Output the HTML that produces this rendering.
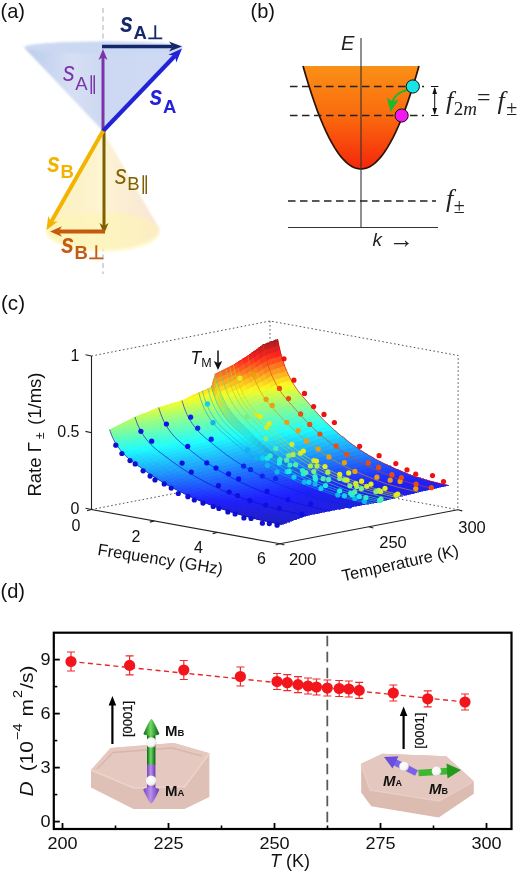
<!DOCTYPE html>
<html><head><meta charset="utf-8"><title>Figure</title>
<style>html,body{margin:0;padding:0;background:#fff}svg{display:block}</style></head>
<body><svg width="520" height="873" viewBox="0 0 520 873">
<rect width="520" height="873" fill="#fff"/>
<defs>
<linearGradient id="gTop" x1="0" y1="0" x2="1" y2="0">
 <stop offset="0" stop-color="#b9cbec"/><stop offset="0.3" stop-color="#d6dff3"/><stop offset="0.5" stop-color="#cdd9f3"/><stop offset="1" stop-color="#cfdaf5"/>
</linearGradient>
<linearGradient id="gBot" x1="0" y1="0" x2="1" y2="0">
 <stop offset="0" stop-color="#fcf1bd"/><stop offset="0.5" stop-color="#fdf4d2"/><stop offset="1" stop-color="#f7e4d6"/>
</linearGradient>
<filter id="soft" x="-10%" y="-10%" width="120%" height="120%"><feGaussianBlur stdDeviation="0.8"/></filter>
<filter id="soft2" x="-10%" y="-10%" width="120%" height="120%"><feGaussianBlur stdDeviation="0.45"/></filter>
</defs>
<line x1="103" y1="8" x2="103" y2="274" stroke="#b9b9c3" stroke-width="1.2" stroke-dasharray="5 3.5"/>
<g filter="url(#soft)">
<path d="M103,131 L24,47.5 A79.5,6 0 0 1 183,47.5 Z" fill="url(#gTop)"/>
<ellipse cx="103.5" cy="47.5" rx="79.5" ry="6" fill="#cbd8f2"/>
<path d="M103,131 L46.5,229 A56.5,20 0 0 0 159.5,229 Z" fill="url(#gBot)"/>
<ellipse cx="103" cy="232" rx="56.5" ry="20" fill="#fdf5b4" opacity="0.6"/>
</g>
<g filter="url(#soft2)">
<line x1="103.0" y1="131.0" x2="103.0" y2="56.9" stroke="#7a35a8" stroke-width="3.0"/><polygon points="103.0,49.0 107.5,60.0 103.0,56.9 98.5,60.0" fill="#7a35a8"/>
<line x1="102.0" y1="46.5" x2="172.6" y2="46.5" stroke="#17286b" stroke-width="3.6"/><polygon points="182.0,46.5 169.0,51.5 172.6,46.5 169.0,41.5" fill="#17286b"/>
<line x1="103.0" y1="131.0" x2="175.0" y2="55.8" stroke="#2222d8" stroke-width="4.2"/><polygon points="182.0,48.5 176.3,62.4 175.0,55.8 168.3,54.8" fill="#2222d8"/>
<line x1="104.0" y1="131.0" x2="104.0" y2="226.1" stroke="#7f6000" stroke-width="3.0"/><polygon points="104.0,234.0 99.5,223.0 104.0,226.1 108.5,223.0" fill="#7f6000"/>
<line x1="105.0" y1="231.5" x2="58.6" y2="231.5" stroke="#c55a11" stroke-width="3.8"/><polygon points="50.0,231.5 62.0,226.2 58.6,231.5 62.0,236.8" fill="#c55a11"/>
<line x1="103.0" y1="131.0" x2="51.1" y2="221.9" stroke="#f2b400" stroke-width="4.0"/><polygon points="46.5,230.0 48.2,216.0 51.1,221.9 57.7,221.4" fill="#f2b400"/>
</g>
<text transform="translate(120,31.7) scale(0.84,1)" fill="#17286b" font-family="'Liberation Sans',sans-serif" font-size="28" font-weight="bold" font-style="italic">s</text><text x="133.6" y="39.2" fill="#17286b" font-family="'Liberation Sans',sans-serif" font-size="18.5" font-weight="bold">A⊥</text>
<text transform="translate(149.5,105) scale(0.84,1)" fill="#2222d8" font-family="'Liberation Sans',sans-serif" font-size="28" font-weight="bold" font-style="italic">s</text><text x="163.1" y="112.5" fill="#2222d8" font-family="'Liberation Sans',sans-serif" font-size="18.5" font-weight="bold">A</text>
<text transform="translate(63,81) scale(0.84,1)" fill="#7a35a8" font-family="'Liberation Sans',sans-serif" font-size="28" font-weight="normal" font-style="italic">s</text><text x="75.3" y="90.0" fill="#7a35a8" font-family="'Liberation Sans',sans-serif" font-size="18.5" font-weight="normal">A∥</text>
<text transform="translate(47,172) scale(0.84,1)" fill="#f2b400" font-family="'Liberation Sans',sans-serif" font-size="28" font-weight="bold" font-style="italic">s</text><text x="60.6" y="178.0" fill="#f2b400" font-family="'Liberation Sans',sans-serif" font-size="18.5" font-weight="bold">B</text>
<text transform="translate(115,183.5) scale(0.84,1)" fill="#7f6000" font-family="'Liberation Sans',sans-serif" font-size="28" font-weight="normal" font-style="italic">s</text><text x="127.3" y="189.5" fill="#7f6000" font-family="'Liberation Sans',sans-serif" font-size="18.5" font-weight="normal">B∥</text>
<text transform="translate(61,252.7) scale(0.84,1)" fill="#c55a11" font-family="'Liberation Sans',sans-serif" font-size="28" font-weight="bold" font-style="italic">s</text><text x="74.6" y="259.2" fill="#c55a11" font-family="'Liberation Sans',sans-serif" font-size="18.5" font-weight="bold">B⊥</text>
<text x="0.5" y="18" font-family="'Liberation Sans',sans-serif" font-size="21" fill="#111" textLength="24.5" lengthAdjust="spacingAndGlyphs">(a)</text>
<defs><linearGradient id="gPar" x1="0" y1="0" x2="0" y2="1">
 <stop offset="0" stop-color="#fa9016"/><stop offset="0.5" stop-color="#fa690e"/><stop offset="1" stop-color="#f4260b"/>
</linearGradient></defs>
<path d="M303.0,66.0 L305.9,76.0 L308.8,85.6 L311.7,94.6 L314.6,103.1 L317.5,111.1 L320.4,118.5 L323.3,125.5 L326.2,131.9 L329.1,137.8 L332.0,143.2 L334.9,148.1 L337.8,152.5 L340.7,156.4 L343.6,159.7 L346.5,162.6 L349.4,164.9 L352.3,166.7 L355.2,168.0 L358.1,168.7 L361.0,169.0 L363.9,168.7 L366.8,168.0 L369.7,166.7 L372.6,164.9 L375.5,162.6 L378.4,159.7 L381.3,156.4 L384.2,152.5 L387.1,148.1 L390.0,143.2 L392.9,137.8 L395.8,131.9 L398.7,125.5 L401.6,118.5 L404.5,111.1 L407.4,103.1 L410.3,94.6 L413.2,85.6 L416.1,76.0 L419.0,66.0 Z" fill="url(#gPar)"/>
<path d="M303.0,66.0 L305.9,76.0 L308.8,85.6 L311.7,94.6 L314.6,103.1 L317.5,111.1 L320.4,118.5 L323.3,125.5 L326.2,131.9 L329.1,137.8 L332.0,143.2 L334.9,148.1 L337.8,152.5 L340.7,156.4 L343.6,159.7 L346.5,162.6 L349.4,164.9 L352.3,166.7 L355.2,168.0 L358.1,168.7 L361.0,169.0 L363.9,168.7 L366.8,168.0 L369.7,166.7 L372.6,164.9 L375.5,162.6 L378.4,159.7 L381.3,156.4 L384.2,152.5 L387.1,148.1 L390.0,143.2 L392.9,137.8 L395.8,131.9 L398.7,125.5 L401.6,118.5 L404.5,111.1 L407.4,103.1 L410.3,94.6 L413.2,85.6 L416.1,76.0 L419.0,66.0" fill="none" stroke="#2a1206" stroke-width="1.7"/>
<line x1="361" y1="38" x2="361" y2="228" stroke="#333" stroke-width="1.1"/>
<line x1="288" y1="227.5" x2="438" y2="227.5" stroke="#333" stroke-width="1.2"/>
<line x1="290" y1="86.5" x2="424" y2="86.5" stroke="#222" stroke-width="1.5" stroke-dasharray="7.5 4.5"/>
<line x1="290" y1="115.5" x2="424" y2="115.5" stroke="#222" stroke-width="1.5" stroke-dasharray="7.5 4.5"/>
<line x1="288" y1="201" x2="436" y2="201" stroke="#222" stroke-width="1.5" stroke-dasharray="7.5 4.5"/>
<path d="M409,89.5 Q393.5,93 392,104" fill="none" stroke="#1fb82a" stroke-width="1.8"/>
<polygon points="390.6,112 386.8,97.5 392.5,101.5 398.8,99.5" fill="#1fb82a"/>
<circle cx="412.8" cy="86.5" r="6.6" fill="#19e5e6" stroke="#111" stroke-width="1"/>
<circle cx="401.6" cy="115.5" r="6.6" fill="#f01af0" stroke="#111" stroke-width="1"/>
<g stroke="#111" stroke-width="1" fill="#111"><line x1="434.7" y1="88" x2="434.7" y2="114"/><line x1="431" y1="86.5" x2="438.4" y2="86.5"/><line x1="431" y1="115.5" x2="438.4" y2="115.5"/><polygon points="434.7,87 432.4,94 437,94" stroke="none"/><polygon points="434.7,115 432.4,108 437,108" stroke="none"/></g>
<text x="250.5" y="18" font-family="'Liberation Sans',sans-serif" font-size="21" fill="#111" textLength="24.5" lengthAdjust="spacingAndGlyphs">(b)</text>
<text x="341" y="50" font-family="'Liberation Sans',sans-serif" font-size="20" font-style="italic" fill="#222">E</text>
<text x="372.5" y="246" font-family="'Liberation Sans',sans-serif" font-size="19" fill="#222" font-style="italic">k</text>
<text x="389" y="247.5" font-family="'Liberation Sans',sans-serif" font-size="25" fill="#222">→</text>
<text x="446" y="108.5" font-family="'Liberation Serif',serif" font-size="26" fill="#222"><tspan font-style="italic">f</tspan><tspan dy="6" font-size="19" dx="0.5">2<tspan font-style="italic">m</tspan></tspan><tspan dy="-10" font-size="24">=</tspan><tspan dy="4" dx="7" font-style="italic" font-size="26">f</tspan><tspan dy="6" dx="1.5" font-size="20">±</tspan></text>
<text x="446" y="206.5" font-family="'Liberation Serif',serif" font-size="26" fill="#222"><tspan font-style="italic">f</tspan><tspan dy="6" dx="0.5" font-size="20">±</tspan></text>
<text x="1" y="310.2" font-family="'Liberation Sans',sans-serif" font-size="21" fill="#111" textLength="24" lengthAdjust="spacingAndGlyphs">(c)</text>
<path d="M91.5,356 L270,321 L458.2,355.5 L457.8,509.7 M270,321 L269.7,475 M91.5,509.5 L269.7,475 L457.8,509.7" stroke="#555" stroke-width="1" stroke-dasharray="1.6 2.4" fill="none"/>
<g shape-rendering="crispEdges" stroke-width="0.6">
<polygon points="109.6,429.6 114.7,427.1 115.1,428.3 110.0,430.8" fill="#94fc88" stroke="#94fc88"/>
<polygon points="110.0,430.8 115.1,428.3 115.9,430.6 110.8,433.1" fill="#8afc92" stroke="#8afc92"/>
<polygon points="110.8,433.1 115.9,430.6 117.0,433.6 111.9,436.0" fill="#7cfca0" stroke="#7cfca0"/>
<polygon points="111.9,436.0 117.0,433.6 118.4,436.6 113.3,439.0" fill="#6cfcb0" stroke="#6cfcb0"/>
<polygon points="113.3,439.0 118.4,436.6 120.0,439.7 114.9,442.1" fill="#5cfcc0" stroke="#5cfcc0"/>
<polygon points="114.9,442.1 120.0,439.7 121.8,442.7 116.7,445.0" fill="#4cfcd0" stroke="#4cfcd0"/>
<polygon points="116.7,445.0 121.8,442.7 123.8,445.6 118.7,447.9" fill="#3dfcdf" stroke="#3dfcdf"/>
<polygon points="118.7,447.9 123.8,445.6 125.9,448.4 120.8,450.7" fill="#2ffced" stroke="#2ffced"/>
<polygon points="120.8,450.7 125.9,448.4 128.2,451.1 123.2,453.4" fill="#22fcfa" stroke="#22fcfa"/>
<polygon points="123.2,453.4 128.2,451.1 130.7,453.7 125.7,455.9" fill="#20f1fc" stroke="#20f1fc"/>
<polygon points="125.7,455.9 130.7,453.7 133.4,456.1 128.3,458.3" fill="#20e5fc" stroke="#20e5fc"/>
<polygon points="128.3,458.3 133.4,456.1 136.2,458.4 131.1,460.7" fill="#20dafc" stroke="#20dafc"/>
<polygon points="131.1,460.7 136.2,458.4 139.1,460.7 134.0,462.8" fill="#20d0fc" stroke="#20d0fc"/>
<polygon points="134.0,462.8 139.1,460.7 142.2,462.9 137.1,465.0" fill="#20c7fc" stroke="#20c7fc"/>
<polygon points="137.1,465.0 142.2,462.9 145.4,465.2 140.3,467.3" fill="#20bdfc" stroke="#20bdfc"/>
<polygon points="140.3,467.3 145.4,465.2 148.7,467.6 143.7,469.7" fill="#20b3fc" stroke="#20b3fc"/>
<polygon points="143.7,469.7 148.7,467.6 152.2,470.1 147.1,472.2" fill="#20a8fc" stroke="#20a8fc"/>
<polygon points="147.1,472.2 152.2,470.1 155.8,472.6 150.7,474.7" fill="#209dfc" stroke="#209dfc"/>
<polygon points="150.7,474.7 155.8,472.6 159.5,475.1 154.4,477.2" fill="#2091fc" stroke="#2091fc"/>
<polygon points="154.4,477.2 159.5,475.1 163.4,477.6 158.3,479.6" fill="#2085fc" stroke="#2085fc"/>
<polygon points="158.3,479.6 163.4,477.6 167.3,480.0 162.2,482.0" fill="#207afc" stroke="#207afc"/>
<polygon points="162.2,482.0 167.3,480.0 171.4,482.4 166.3,484.4" fill="#206ffc" stroke="#206ffc"/>
<polygon points="166.3,484.4 171.4,482.4 175.6,484.7 170.5,486.7" fill="#2064fc" stroke="#2064fc"/>
<polygon points="170.5,486.7 175.6,484.7 179.8,487.1 174.8,489.0" fill="#205afc" stroke="#205afc"/>
<polygon points="174.8,489.0 179.8,487.1 184.2,489.3 179.2,491.3" fill="#2050fc" stroke="#2050fc"/>
<polygon points="179.2,491.3 184.2,489.3 188.7,491.6 183.7,493.5" fill="#2047fc" stroke="#2047fc"/>
<polygon points="183.7,493.5 188.7,491.6 193.4,493.8 188.3,495.8" fill="#203dfc" stroke="#203dfc"/>
<polygon points="188.3,495.8 193.4,493.8 198.1,496.0 193.0,497.9" fill="#2035fc" stroke="#2035fc"/>
<polygon points="193.0,497.9 198.1,496.0 202.9,498.0 197.8,500.0" fill="#202dfc" stroke="#202dfc"/>
<polygon points="197.8,500.0 202.9,498.0 207.8,500.1 202.7,502.0" fill="#2025fc" stroke="#2025fc"/>
<polygon points="202.7,502.0 207.8,500.1 212.8,502.1 207.8,503.9" fill="#2020fa" stroke="#2020fa"/>
<polygon points="207.8,503.9 212.8,502.1 217.9,504.0 212.9,505.8" fill="#2020f3" stroke="#2020f3"/>
<polygon points="212.9,505.8 217.9,504.0 223.1,505.8 218.1,507.7" fill="#2020ed" stroke="#2020ed"/>
<polygon points="218.1,507.7 223.1,505.8 228.5,507.6 223.4,509.5" fill="#2020e7" stroke="#2020e7"/>
<polygon points="223.4,509.5 228.5,507.6 233.9,509.4 228.8,511.2" fill="#2020e2" stroke="#2020e2"/>
<polygon points="228.8,511.2 233.9,509.4 239.3,511.1 234.3,512.9" fill="#2020dd" stroke="#2020dd"/>
<polygon points="234.3,512.9 239.3,511.1 244.9,512.8 239.9,514.7" fill="#2020d8" stroke="#2020d8"/>
<polygon points="239.9,514.7 244.9,512.8 250.6,514.5 245.6,516.3" fill="#2020d4" stroke="#2020d4"/>
<polygon points="245.6,516.3 250.6,514.5 256.4,516.1 251.3,517.9" fill="#2020d0" stroke="#2020d0"/>
<polygon points="251.3,517.9 256.4,516.1 262.2,517.5 257.2,519.3" fill="#2020cd" stroke="#2020cd"/>
<polygon points="257.2,519.3 262.2,517.5 268.2,518.9 263.1,520.7" fill="#2020cb" stroke="#2020cb"/>
<polygon points="263.1,520.7 268.2,518.9 274.2,520.2 269.2,522.0" fill="#2020c9" stroke="#2020c9"/>
<polygon points="269.2,522.0 274.2,520.2 280.3,521.5 275.3,523.3" fill="#2020c8" stroke="#2020c8"/>
<polygon points="275.3,523.3 280.3,521.5 286.5,522.8 281.5,524.6" fill="#2020c7" stroke="#2020c7"/>
<polygon points="114.7,427.1 119.8,424.6 120.2,425.8 115.1,428.3" fill="#9efc7e" stroke="#9efc7e"/>
<polygon points="115.1,428.3 120.2,425.8 121.0,428.1 115.9,430.6" fill="#93fc89" stroke="#93fc89"/>
<polygon points="115.9,430.6 121.0,428.1 122.1,431.1 117.0,433.6" fill="#85fc98" stroke="#85fc98"/>
<polygon points="117.0,433.6 122.1,431.1 123.5,434.2 118.4,436.6" fill="#74fca8" stroke="#74fca8"/>
<polygon points="118.4,436.6 123.5,434.2 125.1,437.3 120.0,439.7" fill="#64fcb8" stroke="#64fcb8"/>
<polygon points="120.0,439.7 125.1,437.3 126.8,440.3 121.8,442.7" fill="#54fcc8" stroke="#54fcc8"/>
<polygon points="121.8,442.7 126.8,440.3 128.8,443.3 123.8,445.6" fill="#45fcd7" stroke="#45fcd7"/>
<polygon points="123.8,445.6 128.8,443.3 131.0,446.1 125.9,448.4" fill="#37fce5" stroke="#37fce5"/>
<polygon points="125.9,448.4 131.0,446.1 133.3,448.8 128.2,451.1" fill="#29fcf3" stroke="#29fcf3"/>
<polygon points="128.2,451.1 133.3,448.8 135.8,451.4 130.7,453.7" fill="#20f8fc" stroke="#20f8fc"/>
<polygon points="130.7,453.7 135.8,451.4 138.5,453.9 133.4,456.1" fill="#20ecfc" stroke="#20ecfc"/>
<polygon points="133.4,456.1 138.5,453.9 141.3,456.2 136.2,458.4" fill="#20e1fc" stroke="#20e1fc"/>
<polygon points="136.2,458.4 141.3,456.2 144.2,458.5 139.1,460.7" fill="#20d7fc" stroke="#20d7fc"/>
<polygon points="139.1,460.7 144.2,458.5 147.3,460.7 142.2,462.9" fill="#20cefc" stroke="#20cefc"/>
<polygon points="142.2,462.9 147.3,460.7 150.5,463.0 145.4,465.2" fill="#20c4fc" stroke="#20c4fc"/>
<polygon points="145.4,465.2 150.5,463.0 153.8,465.5 148.7,467.6" fill="#20b9fc" stroke="#20b9fc"/>
<polygon points="148.7,467.6 153.8,465.5 157.3,468.0 152.2,470.1" fill="#20affc" stroke="#20affc"/>
<polygon points="152.2,470.1 157.3,468.0 160.9,470.5 155.8,472.6" fill="#20a4fc" stroke="#20a4fc"/>
<polygon points="155.8,472.6 160.9,470.5 164.6,473.1 159.5,475.1" fill="#2098fc" stroke="#2098fc"/>
<polygon points="159.5,475.1 164.6,473.1 168.4,475.5 163.4,477.6" fill="#208dfc" stroke="#208dfc"/>
<polygon points="163.4,477.6 168.4,475.5 172.4,478.0 167.3,480.0" fill="#2081fc" stroke="#2081fc"/>
<polygon points="167.3,480.0 172.4,478.0 176.4,480.4 171.4,482.4" fill="#2076fc" stroke="#2076fc"/>
<polygon points="171.4,482.4 176.4,480.4 180.6,482.7 175.6,484.7" fill="#206bfc" stroke="#206bfc"/>
<polygon points="175.6,484.7 180.6,482.7 184.9,485.1 179.8,487.1" fill="#2061fc" stroke="#2061fc"/>
<polygon points="179.8,487.1 184.9,485.1 189.3,487.4 184.2,489.3" fill="#2057fc" stroke="#2057fc"/>
<polygon points="184.2,489.3 189.3,487.4 193.8,489.7 188.7,491.6" fill="#204dfc" stroke="#204dfc"/>
<polygon points="188.7,491.6 193.8,489.7 198.4,491.9 193.4,493.8" fill="#2044fc" stroke="#2044fc"/>
<polygon points="193.4,493.8 198.4,491.9 203.1,494.1 198.1,496.0" fill="#203bfc" stroke="#203bfc"/>
<polygon points="198.1,496.0 203.1,494.1 208.0,496.1 202.9,498.0" fill="#2033fc" stroke="#2033fc"/>
<polygon points="202.9,498.0 208.0,496.1 212.9,498.2 207.8,500.1" fill="#202bfc" stroke="#202bfc"/>
<polygon points="207.8,500.1 212.9,498.2 217.9,500.2 212.8,502.1" fill="#2024fc" stroke="#2024fc"/>
<polygon points="212.8,502.1 217.9,500.2 223.0,502.1 217.9,504.0" fill="#2020f9" stroke="#2020f9"/>
<polygon points="217.9,504.0 223.0,502.1 228.2,504.0 223.1,505.8" fill="#2020f3" stroke="#2020f3"/>
<polygon points="223.1,505.8 228.2,504.0 233.5,505.8 228.5,507.6" fill="#2020ed" stroke="#2020ed"/>
<polygon points="228.5,507.6 233.5,505.8 238.9,507.5 233.9,509.4" fill="#2020e8" stroke="#2020e8"/>
<polygon points="233.9,509.4 238.9,507.5 244.4,509.3 239.3,511.1" fill="#2020e3" stroke="#2020e3"/>
<polygon points="239.3,511.1 244.4,509.3 250.0,511.0 244.9,512.8" fill="#2020de" stroke="#2020de"/>
<polygon points="244.9,512.8 250.0,511.0 255.7,512.7 250.6,514.5" fill="#2020d9" stroke="#2020d9"/>
<polygon points="250.6,514.5 255.7,512.7 261.4,514.3 256.4,516.1" fill="#2020d5" stroke="#2020d5"/>
<polygon points="256.4,516.1 261.4,514.3 267.3,515.7 262.2,517.5" fill="#2020d2" stroke="#2020d2"/>
<polygon points="262.2,517.5 267.3,515.7 273.2,517.1 268.2,518.9" fill="#2020d0" stroke="#2020d0"/>
<polygon points="268.2,518.9 273.2,517.1 279.3,518.4 274.2,520.2" fill="#2020ce" stroke="#2020ce"/>
<polygon points="274.2,520.2 279.3,518.4 285.4,519.7 280.3,521.5" fill="#2020cd" stroke="#2020cd"/>
<polygon points="280.3,521.5 285.4,519.7 291.6,521.0 286.5,522.8" fill="#2020cc" stroke="#2020cc"/>
<polygon points="119.8,424.6 124.8,422.0 125.2,423.3 120.2,425.8" fill="#a8fc74" stroke="#a8fc74"/>
<polygon points="120.2,425.8 125.2,423.3 126.1,425.6 121.0,428.1" fill="#9dfc7f" stroke="#9dfc7f"/>
<polygon points="121.0,428.1 126.1,425.6 127.2,428.7 122.1,431.1" fill="#8dfc8f" stroke="#8dfc8f"/>
<polygon points="122.1,431.1 127.2,428.7 128.5,431.8 123.5,434.2" fill="#7dfc9f" stroke="#7dfc9f"/>
<polygon points="123.5,434.2 128.5,431.8 130.1,434.9 125.1,437.3" fill="#6dfcb0" stroke="#6dfcb0"/>
<polygon points="125.1,437.3 130.1,434.9 131.9,438.0 126.8,440.3" fill="#5dfcc0" stroke="#5dfcc0"/>
<polygon points="126.8,440.3 131.9,438.0 133.9,441.0 128.8,443.3" fill="#4dfccf" stroke="#4dfccf"/>
<polygon points="128.8,443.3 133.9,441.0 136.1,443.8 131.0,446.1" fill="#3ffcde" stroke="#3ffcde"/>
<polygon points="131.0,446.1 136.1,443.8 138.4,446.5 133.3,448.8" fill="#31fceb" stroke="#31fceb"/>
<polygon points="133.3,448.8 138.4,446.5 140.9,449.1 135.8,451.4" fill="#24fcf8" stroke="#24fcf8"/>
<polygon points="135.8,451.4 140.9,449.1 143.5,451.6 138.5,453.9" fill="#20f4fc" stroke="#20f4fc"/>
<polygon points="138.5,453.9 143.5,451.6 146.3,454.0 141.3,456.2" fill="#20e9fc" stroke="#20e9fc"/>
<polygon points="141.3,456.2 146.3,454.0 149.3,456.3 144.2,458.5" fill="#20defc" stroke="#20defc"/>
<polygon points="144.2,458.5 149.3,456.3 152.3,458.5 147.3,460.7" fill="#20d5fc" stroke="#20d5fc"/>
<polygon points="147.3,460.7 152.3,458.5 155.5,460.9 150.5,463.0" fill="#20cbfc" stroke="#20cbfc"/>
<polygon points="150.5,463.0 155.5,460.9 158.9,463.3 153.8,465.5" fill="#20c0fc" stroke="#20c0fc"/>
<polygon points="153.8,465.5 158.9,463.3 162.4,465.9 157.3,468.0" fill="#20b5fc" stroke="#20b5fc"/>
<polygon points="157.3,468.0 162.4,465.9 165.9,468.4 160.9,470.5" fill="#20aafc" stroke="#20aafc"/>
<polygon points="160.9,470.5 165.9,468.4 169.7,471.0 164.6,473.1" fill="#20a0fc" stroke="#20a0fc"/>
<polygon points="164.6,473.1 169.7,471.0 173.5,473.5 168.4,475.5" fill="#2094fc" stroke="#2094fc"/>
<polygon points="168.4,475.5 173.5,473.5 177.4,475.9 172.4,478.0" fill="#2088fc" stroke="#2088fc"/>
<polygon points="172.4,478.0 177.4,475.9 181.5,478.3 176.4,480.4" fill="#207dfc" stroke="#207dfc"/>
<polygon points="176.4,480.4 181.5,478.3 185.7,480.7 180.6,482.7" fill="#2072fc" stroke="#2072fc"/>
<polygon points="180.6,482.7 185.7,480.7 190.0,483.1 184.9,485.1" fill="#2068fc" stroke="#2068fc"/>
<polygon points="184.9,485.1 190.0,483.1 194.4,485.4 189.3,487.4" fill="#205dfc" stroke="#205dfc"/>
<polygon points="189.3,487.4 194.4,485.4 198.9,487.7 193.8,489.7" fill="#2054fc" stroke="#2054fc"/>
<polygon points="193.8,489.7 198.9,487.7 203.5,490.0 198.4,491.9" fill="#204afc" stroke="#204afc"/>
<polygon points="198.4,491.9 203.5,490.0 208.2,492.1 203.1,494.1" fill="#2041fc" stroke="#2041fc"/>
<polygon points="203.1,494.1 208.2,492.1 213.0,494.2 208.0,496.1" fill="#2039fc" stroke="#2039fc"/>
<polygon points="208.0,496.1 213.0,494.2 217.9,496.3 212.9,498.2" fill="#2031fc" stroke="#2031fc"/>
<polygon points="212.9,498.2 217.9,496.3 222.9,498.3 217.9,500.2" fill="#202afc" stroke="#202afc"/>
<polygon points="217.9,500.2 222.9,498.3 228.1,500.2 223.0,502.1" fill="#2023fc" stroke="#2023fc"/>
<polygon points="223.0,502.1 228.1,500.2 233.3,502.1 228.2,504.0" fill="#2020f8" stroke="#2020f8"/>
<polygon points="228.2,504.0 233.3,502.1 238.6,503.9 233.5,505.8" fill="#2020f3" stroke="#2020f3"/>
<polygon points="233.5,505.8 238.6,503.9 244.0,505.7 238.9,507.5" fill="#2020ed" stroke="#2020ed"/>
<polygon points="238.9,507.5 244.0,505.7 249.5,507.4 244.4,509.3" fill="#2020e8" stroke="#2020e8"/>
<polygon points="244.4,509.3 249.5,507.4 255.0,509.2 250.0,511.0" fill="#2020e3" stroke="#2020e3"/>
<polygon points="250.0,511.0 255.0,509.2 260.7,510.9 255.7,512.7" fill="#2020df" stroke="#2020df"/>
<polygon points="255.7,512.7 260.7,510.9 266.5,512.5 261.4,514.3" fill="#2020db" stroke="#2020db"/>
<polygon points="261.4,514.3 266.5,512.5 272.3,513.9 267.3,515.7" fill="#2020d8" stroke="#2020d8"/>
<polygon points="267.3,515.7 272.3,513.9 278.3,515.3 273.2,517.1" fill="#2020d6" stroke="#2020d6"/>
<polygon points="273.2,517.1 278.3,515.3 284.3,516.6 279.3,518.4" fill="#2020d4" stroke="#2020d4"/>
<polygon points="279.3,518.4 284.3,516.6 290.4,517.9 285.4,519.7" fill="#2020d3" stroke="#2020d3"/>
<polygon points="285.4,519.7 290.4,517.9 296.6,519.2 291.6,521.0" fill="#2020d1" stroke="#2020d1"/>
<polygon points="124.8,422.0 129.9,419.5 130.3,420.7 125.2,423.3" fill="#b2fc6a" stroke="#b2fc6a"/>
<polygon points="125.2,423.3 130.3,420.7 131.1,423.2 126.1,425.6" fill="#a7fc75" stroke="#a7fc75"/>
<polygon points="126.1,425.6 131.1,423.2 132.3,426.2 127.2,428.7" fill="#96fc86" stroke="#96fc86"/>
<polygon points="127.2,428.7 132.3,426.2 133.6,429.4 128.5,431.8" fill="#85fc97" stroke="#85fc97"/>
<polygon points="128.5,431.8 133.6,429.4 135.2,432.5 130.1,434.9" fill="#75fca7" stroke="#75fca7"/>
<polygon points="130.1,434.9 135.2,432.5 137.0,435.6 131.9,438.0" fill="#65fcb8" stroke="#65fcb8"/>
<polygon points="131.9,438.0 137.0,435.6 139.0,438.6 133.9,441.0" fill="#55fcc7" stroke="#55fcc7"/>
<polygon points="133.9,441.0 139.0,438.6 141.1,441.5 136.1,443.8" fill="#46fcd6" stroke="#46fcd6"/>
<polygon points="136.1,443.8 141.1,441.5 143.5,444.2 138.4,446.5" fill="#39fce4" stroke="#39fce4"/>
<polygon points="138.4,446.5 143.5,444.2 146.0,446.9 140.9,449.1" fill="#2cfcf1" stroke="#2cfcf1"/>
<polygon points="140.9,449.1 146.0,446.9 148.6,449.4 143.5,451.6" fill="#20fbfc" stroke="#20fbfc"/>
<polygon points="143.5,451.6 148.6,449.4 151.4,451.8 146.3,454.0" fill="#20f0fc" stroke="#20f0fc"/>
<polygon points="146.3,454.0 151.4,451.8 154.3,454.1 149.3,456.3" fill="#20e5fc" stroke="#20e5fc"/>
<polygon points="149.3,456.3 154.3,454.1 157.4,456.3 152.3,458.5" fill="#20dcfc" stroke="#20dcfc"/>
<polygon points="152.3,458.5 157.4,456.3 160.6,458.7 155.5,460.9" fill="#20d2fc" stroke="#20d2fc"/>
<polygon points="155.5,460.9 160.6,458.7 164.0,461.2 158.9,463.3" fill="#20c7fc" stroke="#20c7fc"/>
<polygon points="158.9,463.3 164.0,461.2 167.4,463.8 162.4,465.9" fill="#20bcfc" stroke="#20bcfc"/>
<polygon points="162.4,465.9 167.4,463.8 171.0,466.3 165.9,468.4" fill="#20b1fc" stroke="#20b1fc"/>
<polygon points="165.9,468.4 171.0,466.3 174.7,468.9 169.7,471.0" fill="#20a6fc" stroke="#20a6fc"/>
<polygon points="169.7,471.0 174.7,468.9 178.6,471.4 173.5,473.5" fill="#209bfc" stroke="#209bfc"/>
<polygon points="173.5,473.5 178.6,471.4 182.5,473.9 177.4,475.9" fill="#208ffc" stroke="#208ffc"/>
<polygon points="177.4,475.9 182.5,473.9 186.6,476.3 181.5,478.3" fill="#2084fc" stroke="#2084fc"/>
<polygon points="181.5,478.3 186.6,476.3 190.8,478.7 185.7,480.7" fill="#2079fc" stroke="#2079fc"/>
<polygon points="185.7,480.7 190.8,478.7 195.0,481.1 190.0,483.1" fill="#206efc" stroke="#206efc"/>
<polygon points="190.0,483.1 195.0,481.1 199.4,483.5 194.4,485.4" fill="#2064fc" stroke="#2064fc"/>
<polygon points="194.4,485.4 199.4,483.5 203.9,485.8 198.9,487.7" fill="#205afc" stroke="#205afc"/>
<polygon points="198.9,487.7 203.9,485.8 208.6,488.0 203.5,490.0" fill="#2051fc" stroke="#2051fc"/>
<polygon points="203.5,490.0 208.6,488.0 213.3,490.2 208.2,492.1" fill="#2048fc" stroke="#2048fc"/>
<polygon points="208.2,492.1 213.3,490.2 218.1,492.3 213.0,494.2" fill="#203ffc" stroke="#203ffc"/>
<polygon points="213.0,494.2 218.1,492.3 223.0,494.4 217.9,496.3" fill="#2037fc" stroke="#2037fc"/>
<polygon points="217.9,496.3 223.0,494.4 228.0,496.4 222.9,498.3" fill="#2030fc" stroke="#2030fc"/>
<polygon points="222.9,498.3 228.0,496.4 233.1,498.4 228.1,500.2" fill="#2029fc" stroke="#2029fc"/>
<polygon points="228.1,500.2 233.1,498.4 238.3,500.2 233.3,502.1" fill="#2023fc" stroke="#2023fc"/>
<polygon points="233.3,502.1 238.3,500.2 243.6,502.1 238.6,503.9" fill="#2020f8" stroke="#2020f8"/>
<polygon points="238.6,503.9 243.6,502.1 249.0,503.8 244.0,505.7" fill="#2020f3" stroke="#2020f3"/>
<polygon points="244.0,505.7 249.0,503.8 254.5,505.6 249.5,507.4" fill="#2020ee" stroke="#2020ee"/>
<polygon points="249.5,507.4 254.5,505.6 260.1,507.4 255.0,509.2" fill="#2020e9" stroke="#2020e9"/>
<polygon points="255.0,509.2 260.1,507.4 265.8,509.1 260.7,510.9" fill="#2020e4" stroke="#2020e4"/>
<polygon points="260.7,510.9 265.8,509.1 271.5,510.7 266.5,512.5" fill="#2020e0" stroke="#2020e0"/>
<polygon points="266.5,512.5 271.5,510.7 277.4,512.1 272.3,513.9" fill="#2020dd" stroke="#2020dd"/>
<polygon points="272.3,513.9 277.4,512.1 283.3,513.5 278.3,515.3" fill="#2020db" stroke="#2020db"/>
<polygon points="278.3,515.3 283.3,513.5 289.4,514.8 284.3,516.6" fill="#2020d9" stroke="#2020d9"/>
<polygon points="284.3,516.6 289.4,514.8 295.5,516.1 290.4,517.9" fill="#2020d8" stroke="#2020d8"/>
<polygon points="290.4,517.9 295.5,516.1 301.7,517.4 296.6,519.2" fill="#2020d7" stroke="#2020d7"/>
<polygon points="129.9,419.5 135.0,417.0 135.4,418.2 130.3,420.7" fill="#bcfc60" stroke="#bcfc60"/>
<polygon points="130.3,420.7 135.4,418.2 136.2,420.7 131.1,423.2" fill="#b1fc6c" stroke="#b1fc6c"/>
<polygon points="131.1,423.2 136.2,420.7 137.3,423.8 132.3,426.2" fill="#a0fc7c" stroke="#a0fc7c"/>
<polygon points="132.3,426.2 137.3,423.8 138.7,427.0 133.6,429.4" fill="#8efc8e" stroke="#8efc8e"/>
<polygon points="133.6,429.4 138.7,427.0 140.3,430.1 135.2,432.5" fill="#7dfc9f" stroke="#7dfc9f"/>
<polygon points="135.2,432.5 140.3,430.1 142.1,433.3 137.0,435.6" fill="#6dfcaf" stroke="#6dfcaf"/>
<polygon points="137.0,435.6 142.1,433.3 144.1,436.3 139.0,438.6" fill="#5dfcbf" stroke="#5dfcbf"/>
<polygon points="139.0,438.6 144.1,436.3 146.2,439.2 141.1,441.5" fill="#4efcce" stroke="#4efcce"/>
<polygon points="141.1,441.5 146.2,439.2 148.6,442.0 143.5,444.2" fill="#40fcdc" stroke="#40fcdc"/>
<polygon points="143.5,444.2 148.6,442.0 151.0,444.6 146.0,446.9" fill="#33fce9" stroke="#33fce9"/>
<polygon points="146.0,446.9 151.0,444.6 153.7,447.2 148.6,449.4" fill="#27fcf6" stroke="#27fcf6"/>
<polygon points="148.6,449.4 153.7,447.2 156.5,449.6 151.4,451.8" fill="#20f7fc" stroke="#20f7fc"/>
<polygon points="151.4,451.8 156.5,449.6 159.4,451.9 154.3,454.1" fill="#20edfc" stroke="#20edfc"/>
<polygon points="154.3,454.1 159.4,451.9 162.5,454.2 157.4,456.3" fill="#20e3fc" stroke="#20e3fc"/>
<polygon points="157.4,456.3 162.5,454.2 165.7,456.6 160.6,458.7" fill="#20d8fc" stroke="#20d8fc"/>
<polygon points="160.6,458.7 165.7,456.6 169.0,459.1 164.0,461.2" fill="#20cefc" stroke="#20cefc"/>
<polygon points="164.0,461.2 169.0,459.1 172.5,461.7 167.4,463.8" fill="#20c3fc" stroke="#20c3fc"/>
<polygon points="167.4,463.8 172.5,461.7 176.1,464.3 171.0,466.3" fill="#20b7fc" stroke="#20b7fc"/>
<polygon points="171.0,466.3 176.1,464.3 179.8,466.9 174.7,468.9" fill="#20acfc" stroke="#20acfc"/>
<polygon points="174.7,468.9 179.8,466.9 183.6,469.4 178.6,471.4" fill="#20a2fc" stroke="#20a2fc"/>
<polygon points="178.6,471.4 183.6,469.4 187.6,471.9 182.5,473.9" fill="#2096fc" stroke="#2096fc"/>
<polygon points="182.5,473.9 187.6,471.9 191.7,474.3 186.6,476.3" fill="#208bfc" stroke="#208bfc"/>
<polygon points="186.6,476.3 191.7,474.3 195.8,476.8 190.8,478.7" fill="#2080fc" stroke="#2080fc"/>
<polygon points="190.8,478.7 195.8,476.8 200.1,479.2 195.0,481.1" fill="#2075fc" stroke="#2075fc"/>
<polygon points="195.0,481.1 200.1,479.2 204.5,481.5 199.4,483.5" fill="#206afc" stroke="#206afc"/>
<polygon points="199.4,483.5 204.5,481.5 209.0,483.8 203.9,485.8" fill="#2060fc" stroke="#2060fc"/>
<polygon points="203.9,485.8 209.0,483.8 213.6,486.1 208.6,488.0" fill="#2057fc" stroke="#2057fc"/>
<polygon points="208.6,488.0 213.6,486.1 218.3,488.3 213.3,490.2" fill="#204efc" stroke="#204efc"/>
<polygon points="213.3,490.2 218.3,488.3 223.1,490.5 218.1,492.3" fill="#2045fc" stroke="#2045fc"/>
<polygon points="218.1,492.3 223.1,490.5 228.1,492.5 223.0,494.4" fill="#203dfc" stroke="#203dfc"/>
<polygon points="223.0,494.4 228.1,492.5 233.1,494.6 228.0,496.4" fill="#2036fc" stroke="#2036fc"/>
<polygon points="228.0,496.4 233.1,494.6 238.2,496.5 233.1,498.4" fill="#202ffc" stroke="#202ffc"/>
<polygon points="233.1,498.4 238.2,496.5 243.4,498.4 238.3,500.2" fill="#2028fc" stroke="#2028fc"/>
<polygon points="238.3,500.2 243.4,498.4 248.7,500.2 243.6,502.1" fill="#2022fc" stroke="#2022fc"/>
<polygon points="243.6,502.1 248.7,500.2 254.1,502.0 249.0,503.8" fill="#2020f9" stroke="#2020f9"/>
<polygon points="249.0,503.8 254.1,502.0 259.6,503.8 254.5,505.6" fill="#2020f3" stroke="#2020f3"/>
<polygon points="254.5,505.6 259.6,503.8 265.2,505.6 260.1,507.4" fill="#2020ef" stroke="#2020ef"/>
<polygon points="260.1,507.4 265.2,505.6 270.8,507.3 265.8,509.1" fill="#2020ea" stroke="#2020ea"/>
<polygon points="265.8,509.1 270.8,507.3 276.6,508.9 271.5,510.7" fill="#2020e6" stroke="#2020e6"/>
<polygon points="271.5,510.7 276.6,508.9 282.4,510.3 277.4,512.1" fill="#2020e3" stroke="#2020e3"/>
<polygon points="277.4,512.1 282.4,510.3 288.4,511.7 283.3,513.5" fill="#2020e1" stroke="#2020e1"/>
<polygon points="283.3,513.5 288.4,511.7 294.4,513.1 289.4,514.8" fill="#2020df" stroke="#2020df"/>
<polygon points="289.4,514.8 294.4,513.1 300.5,514.4 295.5,516.1" fill="#2020dd" stroke="#2020dd"/>
<polygon points="295.5,516.1 300.5,514.4 306.7,515.7 301.7,517.4" fill="#2020dc" stroke="#2020dc"/>
<polygon points="135.0,417.0 139.7,415.1 140.1,416.4 135.4,418.2" fill="#c5fd58" stroke="#c5fd58"/>
<polygon points="135.4,418.2 140.1,416.4 141.0,418.8 136.2,420.7" fill="#b9fd64" stroke="#b9fd64"/>
<polygon points="136.2,420.7 141.0,418.8 142.1,422.0 137.3,423.8" fill="#a8fd75" stroke="#a8fd75"/>
<polygon points="137.3,423.8 142.1,422.0 143.4,425.2 138.7,427.0" fill="#95fd88" stroke="#95fd88"/>
<polygon points="138.7,427.0 143.4,425.2 145.0,428.4 140.3,430.1" fill="#84fd99" stroke="#84fd99"/>
<polygon points="140.3,430.1 145.0,428.4 146.8,431.6 142.1,433.3" fill="#73fdaa" stroke="#73fdaa"/>
<polygon points="142.1,433.3 146.8,431.6 148.8,434.7 144.1,436.3" fill="#63fdba" stroke="#63fdba"/>
<polygon points="144.1,436.3 148.8,434.7 151.0,437.6 146.2,439.2" fill="#54fdc9" stroke="#54fdc9"/>
<polygon points="146.2,439.2 151.0,437.6 153.3,440.4 148.6,442.0" fill="#46fdd7" stroke="#46fdd7"/>
<polygon points="148.6,442.0 153.3,440.4 155.8,443.1 151.0,444.6" fill="#39fde4" stroke="#39fde4"/>
<polygon points="151.0,444.6 155.8,443.1 158.4,445.7 153.7,447.2" fill="#2cfdf1" stroke="#2cfdf1"/>
<polygon points="153.7,447.2 158.4,445.7 161.2,448.1 156.5,449.6" fill="#21fdfd" stroke="#21fdfd"/>
<polygon points="156.5,449.6 161.2,448.1 164.1,450.4 159.4,451.9" fill="#20f3fd" stroke="#20f3fd"/>
<polygon points="159.4,451.9 164.1,450.4 167.2,452.7 162.5,454.2" fill="#20e8fd" stroke="#20e8fd"/>
<polygon points="162.5,454.2 167.2,452.7 170.4,455.2 165.7,456.6" fill="#20defd" stroke="#20defd"/>
<polygon points="165.7,456.6 170.4,455.2 173.8,457.7 169.0,459.1" fill="#20d3fd" stroke="#20d3fd"/>
<polygon points="169.0,459.1 173.8,457.7 177.2,460.3 172.5,461.7" fill="#20c8fd" stroke="#20c8fd"/>
<polygon points="172.5,461.7 177.2,460.3 180.8,462.9 176.1,464.3" fill="#20bdfd" stroke="#20bdfd"/>
<polygon points="176.1,464.3 180.8,462.9 184.5,465.6 179.8,466.9" fill="#20b1fd" stroke="#20b1fd"/>
<polygon points="179.8,466.9 184.5,465.6 188.4,468.1 183.6,469.4" fill="#20a6fd" stroke="#20a6fd"/>
<polygon points="183.6,469.4 188.4,468.1 192.3,470.6 187.6,471.9" fill="#209bfd" stroke="#209bfd"/>
<polygon points="187.6,471.9 192.3,470.6 196.4,473.1 191.7,474.3" fill="#2090fd" stroke="#2090fd"/>
<polygon points="191.7,474.3 196.4,473.1 200.6,475.6 195.8,476.8" fill="#2084fd" stroke="#2084fd"/>
<polygon points="195.8,476.8 200.6,475.6 204.8,478.0 200.1,479.2" fill="#2079fd" stroke="#2079fd"/>
<polygon points="200.1,479.2 204.8,478.0 209.2,480.4 204.5,481.5" fill="#206ffd" stroke="#206ffd"/>
<polygon points="204.5,481.5 209.2,480.4 213.7,482.7 209.0,483.8" fill="#2065fd" stroke="#2065fd"/>
<polygon points="209.0,483.8 213.7,482.7 218.3,485.0 213.6,486.1" fill="#205bfd" stroke="#205bfd"/>
<polygon points="213.6,486.1 218.3,485.0 223.1,487.2 218.3,488.3" fill="#2052fd" stroke="#2052fd"/>
<polygon points="218.3,488.3 223.1,487.2 227.9,489.4 223.1,490.5" fill="#2049fd" stroke="#2049fd"/>
<polygon points="223.1,490.5 227.9,489.4 232.8,491.5 228.1,492.5" fill="#2041fd" stroke="#2041fd"/>
<polygon points="228.1,492.5 232.8,491.5 237.8,493.5 233.1,494.6" fill="#2039fd" stroke="#2039fd"/>
<polygon points="233.1,494.6 237.8,493.5 242.9,495.5 238.2,496.5" fill="#2032fd" stroke="#2032fd"/>
<polygon points="238.2,496.5 242.9,495.5 248.1,497.4 243.4,498.4" fill="#202cfd" stroke="#202cfd"/>
<polygon points="243.4,498.4 248.1,497.4 253.4,499.2 248.7,500.2" fill="#2026fd" stroke="#2026fd"/>
<polygon points="248.7,500.2 253.4,499.2 258.8,501.0 254.1,502.0" fill="#2020fd" stroke="#2020fd"/>
<polygon points="254.1,502.0 258.8,501.0 264.3,502.8 259.6,503.8" fill="#2020f7" stroke="#2020f7"/>
<polygon points="259.6,503.8 264.3,502.8 269.9,504.6 265.2,505.6" fill="#2020f2" stroke="#2020f2"/>
<polygon points="265.2,505.6 269.9,504.6 275.5,506.3 270.8,507.3" fill="#2020ed" stroke="#2020ed"/>
<polygon points="270.8,507.3 275.5,506.3 281.3,507.9 276.6,508.9" fill="#2020e9" stroke="#2020e9"/>
<polygon points="276.6,508.9 281.3,507.9 287.2,509.4 282.4,510.3" fill="#2020e6" stroke="#2020e6"/>
<polygon points="282.4,510.3 287.2,509.4 293.1,510.8 288.4,511.7" fill="#2020e4" stroke="#2020e4"/>
<polygon points="288.4,511.7 293.1,510.8 299.1,512.1 294.4,513.1" fill="#2020e2" stroke="#2020e2"/>
<polygon points="294.4,513.1 299.1,512.1 305.2,513.4 300.5,514.4" fill="#2020e1" stroke="#2020e1"/>
<polygon points="300.5,514.4 305.2,513.4 311.4,514.7 306.7,515.7" fill="#2020e0" stroke="#2020e0"/>
<polygon points="139.7,415.1 144.5,413.2 144.9,414.5 140.1,416.4" fill="#cbfd52" stroke="#cbfd52"/>
<polygon points="140.1,416.4 144.9,414.5 145.7,417.0 141.0,418.8" fill="#c0fd5e" stroke="#c0fd5e"/>
<polygon points="141.0,418.8 145.7,417.0 146.8,420.1 142.1,422.0" fill="#aefd6f" stroke="#aefd6f"/>
<polygon points="142.1,422.0 146.8,420.1 148.2,423.4 143.4,425.2" fill="#9bfd82" stroke="#9bfd82"/>
<polygon points="143.4,425.2 148.2,423.4 149.8,426.7 145.0,428.4" fill="#89fd94" stroke="#89fd94"/>
<polygon points="145.0,428.4 149.8,426.7 151.6,429.9 146.8,431.6" fill="#78fda5" stroke="#78fda5"/>
<polygon points="146.8,431.6 151.6,429.9 153.5,433.0 148.8,434.7" fill="#68fdb5" stroke="#68fdb5"/>
<polygon points="148.8,434.7 153.5,433.0 155.7,436.0 151.0,437.6" fill="#58fdc5" stroke="#58fdc5"/>
<polygon points="151.0,437.6 155.7,436.0 158.0,438.8 153.3,440.4" fill="#4afdd3" stroke="#4afdd3"/>
<polygon points="153.3,440.4 158.0,438.8 160.5,441.6 155.8,443.1" fill="#3dfde1" stroke="#3dfde1"/>
<polygon points="155.8,443.1 160.5,441.6 163.2,444.2 158.4,445.7" fill="#30fded" stroke="#30fded"/>
<polygon points="158.4,445.7 163.2,444.2 166.0,446.6 161.2,448.1" fill="#24fdf9" stroke="#24fdf9"/>
<polygon points="161.2,448.1 166.0,446.6 168.9,449.0 164.1,450.4" fill="#20f6fd" stroke="#20f6fd"/>
<polygon points="164.1,450.4 168.9,449.0 172.0,451.3 167.2,452.7" fill="#20ecfd" stroke="#20ecfd"/>
<polygon points="167.2,452.7 172.0,451.3 175.2,453.8 170.4,455.2" fill="#20e1fd" stroke="#20e1fd"/>
<polygon points="170.4,455.2 175.2,453.8 178.5,456.3 173.8,457.7" fill="#20d6fd" stroke="#20d6fd"/>
<polygon points="173.8,457.7 178.5,456.3 182.0,458.9 177.2,460.3" fill="#20cbfd" stroke="#20cbfd"/>
<polygon points="177.2,460.3 182.0,458.9 185.6,461.6 180.8,462.9" fill="#20bffd" stroke="#20bffd"/>
<polygon points="180.8,462.9 185.6,461.6 189.3,464.2 184.5,465.6" fill="#20b4fd" stroke="#20b4fd"/>
<polygon points="184.5,465.6 189.3,464.2 193.1,466.8 188.4,468.1" fill="#20a9fd" stroke="#20a9fd"/>
<polygon points="188.4,468.1 193.1,466.8 197.0,469.4 192.3,470.6" fill="#209efd" stroke="#209efd"/>
<polygon points="192.3,470.6 197.0,469.4 201.1,471.9 196.4,473.1" fill="#2092fd" stroke="#2092fd"/>
<polygon points="196.4,473.1 201.1,471.9 205.3,474.4 200.6,475.6" fill="#2086fd" stroke="#2086fd"/>
<polygon points="200.6,475.6 205.3,474.4 209.6,476.8 204.8,478.0" fill="#207bfd" stroke="#207bfd"/>
<polygon points="204.8,478.0 209.6,476.8 214.0,479.2 209.2,480.4" fill="#2071fd" stroke="#2071fd"/>
<polygon points="209.2,480.4 214.0,479.2 218.5,481.6 213.7,482.7" fill="#2066fd" stroke="#2066fd"/>
<polygon points="213.7,482.7 218.5,481.6 223.1,483.9 218.3,485.0" fill="#205cfd" stroke="#205cfd"/>
<polygon points="218.3,485.0 223.1,483.9 227.8,486.1 223.1,487.2" fill="#2053fd" stroke="#2053fd"/>
<polygon points="223.1,487.2 227.8,486.1 232.6,488.3 227.9,489.4" fill="#204afd" stroke="#204afd"/>
<polygon points="227.9,489.4 232.6,488.3 237.5,490.4 232.8,491.5" fill="#2042fd" stroke="#2042fd"/>
<polygon points="232.8,491.5 237.5,490.4 242.5,492.5 237.8,493.5" fill="#203afd" stroke="#203afd"/>
<polygon points="237.8,493.5 242.5,492.5 247.6,494.5 242.9,495.5" fill="#2033fd" stroke="#2033fd"/>
<polygon points="242.9,495.5 247.6,494.5 252.8,496.4 248.1,497.4" fill="#202cfd" stroke="#202cfd"/>
<polygon points="248.1,497.4 252.8,496.4 258.1,498.2 253.4,499.2" fill="#2026fd" stroke="#2026fd"/>
<polygon points="253.4,499.2 258.1,498.2 263.5,500.0 258.8,501.0" fill="#2021fd" stroke="#2021fd"/>
<polygon points="258.8,501.0 263.5,500.0 269.0,501.8 264.3,502.8" fill="#2020f8" stroke="#2020f8"/>
<polygon points="264.3,502.8 269.0,501.8 274.6,503.6 269.9,504.6" fill="#2020f3" stroke="#2020f3"/>
<polygon points="269.9,504.6 274.6,503.6 280.3,505.4 275.5,506.3" fill="#2020ee" stroke="#2020ee"/>
<polygon points="275.5,506.3 280.3,505.4 286.0,507.0 281.3,507.9" fill="#2020ea" stroke="#2020ea"/>
<polygon points="281.3,507.9 286.0,507.0 291.9,508.4 287.2,509.4" fill="#2020e7" stroke="#2020e7"/>
<polygon points="287.2,509.4 291.9,508.4 297.8,509.8 293.1,510.8" fill="#2020e4" stroke="#2020e4"/>
<polygon points="293.1,510.8 297.8,509.8 303.8,511.2 299.1,512.1" fill="#2020e3" stroke="#2020e3"/>
<polygon points="299.1,512.1 303.8,511.2 310.0,512.5 305.2,513.4" fill="#2020e1" stroke="#2020e1"/>
<polygon points="305.2,513.4 310.0,512.5 316.2,513.8 311.4,514.7" fill="#2020e0" stroke="#2020e0"/>
<polygon points="144.5,413.2 149.2,411.3 149.6,412.6 144.9,414.5" fill="#d2fd4c" stroke="#d2fd4c"/>
<polygon points="144.9,414.5 149.6,412.6 150.4,415.1 145.7,417.0" fill="#c6fd57" stroke="#c6fd57"/>
<polygon points="145.7,417.0 150.4,415.1 151.6,418.3 146.8,420.1" fill="#b4fd69" stroke="#b4fd69"/>
<polygon points="146.8,420.1 151.6,418.3 152.9,421.6 148.2,423.4" fill="#a1fd7c" stroke="#a1fd7c"/>
<polygon points="148.2,423.4 152.9,421.6 154.5,424.9 149.8,426.7" fill="#8efd8f" stroke="#8efd8f"/>
<polygon points="149.8,426.7 154.5,424.9 156.3,428.2 151.6,429.9" fill="#7dfda0" stroke="#7dfda0"/>
<polygon points="151.6,429.9 156.3,428.2 158.3,431.4 153.5,433.0" fill="#6cfdb1" stroke="#6cfdb1"/>
<polygon points="153.5,433.0 158.3,431.4 160.4,434.4 155.7,436.0" fill="#5dfdc0" stroke="#5dfdc0"/>
<polygon points="155.7,436.0 160.4,434.4 162.8,437.2 158.0,438.8" fill="#4efdcf" stroke="#4efdcf"/>
<polygon points="158.0,438.8 162.8,437.2 165.3,440.0 160.5,441.6" fill="#40fddd" stroke="#40fddd"/>
<polygon points="160.5,441.6 165.3,440.0 167.9,442.6 163.2,444.2" fill="#34fdea" stroke="#34fdea"/>
<polygon points="163.2,444.2 167.9,442.6 170.7,445.1 166.0,446.6" fill="#28fdf6" stroke="#28fdf6"/>
<polygon points="166.0,446.6 170.7,445.1 173.6,447.5 168.9,449.0" fill="#20f9fd" stroke="#20f9fd"/>
<polygon points="168.9,449.0 173.6,447.5 176.7,449.8 172.0,451.3" fill="#20effd" stroke="#20effd"/>
<polygon points="172.0,451.3 176.7,449.8 179.9,452.3 175.2,453.8" fill="#20e4fd" stroke="#20e4fd"/>
<polygon points="175.2,453.8 179.9,452.3 183.2,454.9 178.5,456.3" fill="#20d9fd" stroke="#20d9fd"/>
<polygon points="178.5,456.3 183.2,454.9 186.7,457.6 182.0,458.9" fill="#20cdfd" stroke="#20cdfd"/>
<polygon points="182.0,458.9 186.7,457.6 190.3,460.3 185.6,461.6" fill="#20c2fd" stroke="#20c2fd"/>
<polygon points="185.6,461.6 190.3,460.3 194.0,462.9 189.3,464.2" fill="#20b6fd" stroke="#20b6fd"/>
<polygon points="189.3,464.2 194.0,462.9 197.8,465.5 193.1,466.8" fill="#20abfd" stroke="#20abfd"/>
<polygon points="193.1,466.8 197.8,465.5 201.8,468.1 197.0,469.4" fill="#20a0fd" stroke="#20a0fd"/>
<polygon points="197.0,469.4 201.8,468.1 205.8,470.7 201.1,471.9" fill="#2094fd" stroke="#2094fd"/>
<polygon points="201.1,471.9 205.8,470.7 210.0,473.2 205.3,474.4" fill="#2088fd" stroke="#2088fd"/>
<polygon points="205.3,474.4 210.0,473.2 214.3,475.6 209.6,476.8" fill="#207dfd" stroke="#207dfd"/>
<polygon points="209.6,476.8 214.3,475.6 218.7,478.0 214.0,479.2" fill="#2072fd" stroke="#2072fd"/>
<polygon points="214.0,479.2 218.7,478.0 223.2,480.4 218.5,481.6" fill="#2068fd" stroke="#2068fd"/>
<polygon points="218.5,481.6 223.2,480.4 227.8,482.8 223.1,483.9" fill="#205efd" stroke="#205efd"/>
<polygon points="223.1,483.9 227.8,482.8 232.5,485.0 227.8,486.1" fill="#2054fd" stroke="#2054fd"/>
<polygon points="227.8,486.1 232.5,485.0 237.3,487.2 232.6,488.3" fill="#204bfd" stroke="#204bfd"/>
<polygon points="232.6,488.3 237.3,487.2 242.2,489.3 237.5,490.4" fill="#2043fd" stroke="#2043fd"/>
<polygon points="237.5,490.4 242.2,489.3 247.2,491.4 242.5,492.5" fill="#203bfd" stroke="#203bfd"/>
<polygon points="242.5,492.5 247.2,491.4 252.3,493.4 247.6,494.5" fill="#2034fd" stroke="#2034fd"/>
<polygon points="247.6,494.5 252.3,493.4 257.5,495.3 252.8,496.4" fill="#202dfd" stroke="#202dfd"/>
<polygon points="252.8,496.4 257.5,495.3 262.8,497.2 258.1,498.2" fill="#2027fd" stroke="#2027fd"/>
<polygon points="258.1,498.2 262.8,497.2 268.2,499.0 263.5,500.0" fill="#2021fd" stroke="#2021fd"/>
<polygon points="263.5,500.0 268.2,499.0 273.7,500.8 269.0,501.8" fill="#2020f8" stroke="#2020f8"/>
<polygon points="269.0,501.8 273.7,500.8 279.3,502.6 274.6,503.6" fill="#2020f3" stroke="#2020f3"/>
<polygon points="274.6,503.6 279.3,502.6 285.0,504.4 280.3,505.4" fill="#2020ee" stroke="#2020ee"/>
<polygon points="280.3,505.4 285.0,504.4 290.7,506.0 286.0,507.0" fill="#2020ea" stroke="#2020ea"/>
<polygon points="286.0,507.0 290.7,506.0 296.6,507.5 291.9,508.4" fill="#2020e7" stroke="#2020e7"/>
<polygon points="291.9,508.4 296.6,507.5 302.5,508.9 297.8,509.8" fill="#2020e5" stroke="#2020e5"/>
<polygon points="297.8,509.8 302.5,508.9 308.5,510.2 303.8,511.2" fill="#2020e3" stroke="#2020e3"/>
<polygon points="303.8,511.2 308.5,510.2 314.7,511.5 310.0,512.5" fill="#2020e1" stroke="#2020e1"/>
<polygon points="310.0,512.5 314.7,511.5 320.9,512.8 316.2,513.8" fill="#2020e0" stroke="#2020e0"/>
<polygon points="149.2,411.3 154.0,409.4 154.4,410.7 149.6,412.6" fill="#d8fd45" stroke="#d8fd45"/>
<polygon points="149.6,412.6 154.4,410.7 155.2,413.3 150.4,415.1" fill="#ccfd51" stroke="#ccfd51"/>
<polygon points="150.4,415.1 155.2,413.3 156.3,416.5 151.6,418.3" fill="#bafd63" stroke="#bafd63"/>
<polygon points="151.6,418.3 156.3,416.5 157.7,419.9 152.9,421.6" fill="#a7fd77" stroke="#a7fd77"/>
<polygon points="152.9,421.6 157.7,419.9 159.2,423.2 154.5,424.9" fill="#93fd8a" stroke="#93fd8a"/>
<polygon points="154.5,424.9 159.2,423.2 161.0,426.5 156.3,428.2" fill="#81fd9c" stroke="#81fd9c"/>
<polygon points="156.3,428.2 161.0,426.5 163.0,429.7 158.3,431.4" fill="#71fdad" stroke="#71fdad"/>
<polygon points="158.3,431.4 163.0,429.7 165.2,432.7 160.4,434.4" fill="#61fdbc" stroke="#61fdbc"/>
<polygon points="160.4,434.4 165.2,432.7 167.5,435.7 162.8,437.2" fill="#52fdcb" stroke="#52fdcb"/>
<polygon points="162.8,437.2 167.5,435.7 170.0,438.5 165.3,440.0" fill="#44fdd9" stroke="#44fdd9"/>
<polygon points="165.3,440.0 170.0,438.5 172.6,441.1 167.9,442.6" fill="#37fde6" stroke="#37fde6"/>
<polygon points="167.9,442.6 172.6,441.1 175.4,443.6 170.7,445.1" fill="#2bfdf2" stroke="#2bfdf2"/>
<polygon points="170.7,445.1 175.4,443.6 178.4,446.0 173.6,447.5" fill="#20fcfd" stroke="#20fcfd"/>
<polygon points="173.6,447.5 178.4,446.0 181.4,448.4 176.7,449.8" fill="#20f2fd" stroke="#20f2fd"/>
<polygon points="176.7,449.8 181.4,448.4 184.6,450.9 179.9,452.3" fill="#20e7fd" stroke="#20e7fd"/>
<polygon points="179.9,452.3 184.6,450.9 188.0,453.5 183.2,454.9" fill="#20dcfd" stroke="#20dcfd"/>
<polygon points="183.2,454.9 188.0,453.5 191.4,456.2 186.7,457.6" fill="#20d0fd" stroke="#20d0fd"/>
<polygon points="186.7,457.6 191.4,456.2 195.0,458.9 190.3,460.3" fill="#20c4fd" stroke="#20c4fd"/>
<polygon points="190.3,460.3 195.0,458.9 198.7,461.6 194.0,462.9" fill="#20b9fd" stroke="#20b9fd"/>
<polygon points="194.0,462.9 198.7,461.6 202.6,464.3 197.8,465.5" fill="#20adfd" stroke="#20adfd"/>
<polygon points="197.8,465.5 202.6,464.3 206.5,466.9 201.8,468.1" fill="#20a2fd" stroke="#20a2fd"/>
<polygon points="201.8,468.1 206.5,466.9 210.6,469.4 205.8,470.7" fill="#2096fd" stroke="#2096fd"/>
<polygon points="205.8,470.7 210.6,469.4 214.7,471.9 210.0,473.2" fill="#208bfd" stroke="#208bfd"/>
<polygon points="210.0,473.2 214.7,471.9 219.0,474.4 214.3,475.6" fill="#207ffd" stroke="#207ffd"/>
<polygon points="214.3,475.6 219.0,474.4 223.4,476.9 218.7,478.0" fill="#2074fd" stroke="#2074fd"/>
<polygon points="218.7,478.0 223.4,476.9 227.9,479.3 223.2,480.4" fill="#206afd" stroke="#206afd"/>
<polygon points="223.2,480.4 227.9,479.3 232.5,481.6 227.8,482.8" fill="#205ffd" stroke="#205ffd"/>
<polygon points="227.8,482.8 232.5,481.6 237.2,483.9 232.5,485.0" fill="#2056fd" stroke="#2056fd"/>
<polygon points="232.5,485.0 237.2,483.9 242.0,486.1 237.3,487.2" fill="#204dfd" stroke="#204dfd"/>
<polygon points="237.3,487.2 242.0,486.1 246.9,488.3 242.2,489.3" fill="#2044fd" stroke="#2044fd"/>
<polygon points="242.2,489.3 246.9,488.3 252.0,490.4 247.2,491.4" fill="#203cfd" stroke="#203cfd"/>
<polygon points="247.2,491.4 252.0,490.4 257.1,492.4 252.3,493.4" fill="#2035fd" stroke="#2035fd"/>
<polygon points="252.3,493.4 257.1,492.4 262.3,494.3 257.5,495.3" fill="#202efd" stroke="#202efd"/>
<polygon points="257.5,495.3 262.3,494.3 267.6,496.2 262.8,497.2" fill="#2028fd" stroke="#2028fd"/>
<polygon points="262.8,497.2 267.6,496.2 273.0,498.0 268.2,499.0" fill="#2022fd" stroke="#2022fd"/>
<polygon points="268.2,499.0 273.0,498.0 278.4,499.8 273.7,500.8" fill="#2020f9" stroke="#2020f9"/>
<polygon points="273.7,500.8 278.4,499.8 284.0,501.7 279.3,502.6" fill="#2020f4" stroke="#2020f4"/>
<polygon points="279.3,502.6 284.0,501.7 289.7,503.4 285.0,504.4" fill="#2020ef" stroke="#2020ef"/>
<polygon points="285.0,504.4 289.7,503.4 295.4,505.0 290.7,506.0" fill="#2020ea" stroke="#2020ea"/>
<polygon points="290.7,506.0 295.4,505.0 301.3,506.5 296.6,507.5" fill="#2020e7" stroke="#2020e7"/>
<polygon points="296.6,507.5 301.3,506.5 307.2,507.9 302.5,508.9" fill="#2020e5" stroke="#2020e5"/>
<polygon points="302.5,508.9 307.2,507.9 313.3,509.3 308.5,510.2" fill="#2020e3" stroke="#2020e3"/>
<polygon points="308.5,510.2 313.3,509.3 319.4,510.6 314.7,511.5" fill="#2020e2" stroke="#2020e2"/>
<polygon points="314.7,511.5 319.4,510.6 325.6,511.9 320.9,512.8" fill="#2020e0" stroke="#2020e0"/>
<polygon points="154.0,409.4 158.7,407.5 159.1,408.8 154.4,410.7" fill="#defd3f" stroke="#defd3f"/>
<polygon points="154.4,410.7 159.1,408.8 159.9,411.4 155.2,413.3" fill="#d2fd4b" stroke="#d2fd4b"/>
<polygon points="155.2,413.3 159.9,411.4 161.0,414.7 156.3,416.5" fill="#c0fd5d" stroke="#c0fd5d"/>
<polygon points="156.3,416.5 161.0,414.7 162.4,418.1 157.7,419.9" fill="#acfd71" stroke="#acfd71"/>
<polygon points="157.7,419.9 162.4,418.1 164.0,421.5 159.2,423.2" fill="#98fd85" stroke="#98fd85"/>
<polygon points="159.2,423.2 164.0,421.5 165.8,424.8 161.0,426.5" fill="#86fd97" stroke="#86fd97"/>
<polygon points="161.0,426.5 165.8,424.8 167.8,428.1 163.0,429.7" fill="#75fda8" stroke="#75fda8"/>
<polygon points="163.0,429.7 167.8,428.1 169.9,431.1 165.2,432.7" fill="#65fdb8" stroke="#65fdb8"/>
<polygon points="165.2,432.7 169.9,431.1 172.2,434.1 167.5,435.7" fill="#56fdc7" stroke="#56fdc7"/>
<polygon points="167.5,435.7 172.2,434.1 174.7,436.9 170.0,438.5" fill="#48fdd5" stroke="#48fdd5"/>
<polygon points="170.0,438.5 174.7,436.9 177.4,439.6 172.6,441.1" fill="#3bfde2" stroke="#3bfde2"/>
<polygon points="172.6,441.1 177.4,439.6 180.2,442.2 175.4,443.6" fill="#2ffdef" stroke="#2ffdef"/>
<polygon points="175.4,443.6 180.2,442.2 183.1,444.6 178.4,446.0" fill="#23fdfa" stroke="#23fdfa"/>
<polygon points="178.4,446.0 183.1,444.6 186.2,447.0 181.4,448.4" fill="#20f5fd" stroke="#20f5fd"/>
<polygon points="181.4,448.4 186.2,447.0 189.4,449.5 184.6,450.9" fill="#20eafd" stroke="#20eafd"/>
<polygon points="184.6,450.9 189.4,449.5 192.7,452.1 188.0,453.5" fill="#20dffd" stroke="#20dffd"/>
<polygon points="188.0,453.5 192.7,452.1 196.2,454.9 191.4,456.2" fill="#20d3fd" stroke="#20d3fd"/>
<polygon points="191.4,456.2 196.2,454.9 199.8,457.6 195.0,458.9" fill="#20c7fd" stroke="#20c7fd"/>
<polygon points="195.0,458.9 199.8,457.6 203.5,460.3 198.7,461.6" fill="#20bbfd" stroke="#20bbfd"/>
<polygon points="198.7,461.6 203.5,460.3 207.3,463.0 202.6,464.3" fill="#20affd" stroke="#20affd"/>
<polygon points="202.6,464.3 207.3,463.0 211.2,465.6 206.5,466.9" fill="#20a4fd" stroke="#20a4fd"/>
<polygon points="206.5,466.9 211.2,465.6 215.3,468.2 210.6,469.4" fill="#2099fd" stroke="#2099fd"/>
<polygon points="210.6,469.4 215.3,468.2 219.5,470.7 214.7,471.9" fill="#208dfd" stroke="#208dfd"/>
<polygon points="214.7,471.9 219.5,470.7 223.8,473.2 219.0,474.4" fill="#2081fd" stroke="#2081fd"/>
<polygon points="219.0,474.4 223.8,473.2 228.1,475.7 223.4,476.9" fill="#2076fd" stroke="#2076fd"/>
<polygon points="223.4,476.9 228.1,475.7 232.6,478.1 227.9,479.3" fill="#206bfd" stroke="#206bfd"/>
<polygon points="227.9,479.3 232.6,478.1 237.2,480.5 232.5,481.6" fill="#2061fd" stroke="#2061fd"/>
<polygon points="232.5,481.6 237.2,480.5 242.0,482.8 237.2,483.9" fill="#2057fd" stroke="#2057fd"/>
<polygon points="237.2,483.9 242.0,482.8 246.8,485.0 242.0,486.1" fill="#204efd" stroke="#204efd"/>
<polygon points="242.0,486.1 246.8,485.0 251.7,487.2 246.9,488.3" fill="#2045fd" stroke="#2045fd"/>
<polygon points="246.9,488.3 251.7,487.2 256.7,489.3 252.0,490.4" fill="#203dfd" stroke="#203dfd"/>
<polygon points="252.0,490.4 256.7,489.3 261.8,491.3 257.1,492.4" fill="#2036fd" stroke="#2036fd"/>
<polygon points="257.1,492.4 261.8,491.3 267.0,493.3 262.3,494.3" fill="#202ffd" stroke="#202ffd"/>
<polygon points="262.3,494.3 267.0,493.3 272.3,495.2 267.6,496.2" fill="#2028fd" stroke="#2028fd"/>
<polygon points="267.6,496.2 272.3,495.2 277.7,497.0 273.0,498.0" fill="#2023fd" stroke="#2023fd"/>
<polygon points="273.0,498.0 277.7,497.0 283.2,498.9 278.4,499.8" fill="#2020fa" stroke="#2020fa"/>
<polygon points="278.4,499.8 283.2,498.9 288.7,500.7 284.0,501.7" fill="#2020f4" stroke="#2020f4"/>
<polygon points="284.0,501.7 288.7,500.7 294.4,502.5 289.7,503.4" fill="#2020ef" stroke="#2020ef"/>
<polygon points="289.7,503.4 294.4,502.5 300.2,504.1 295.4,505.0" fill="#2020eb" stroke="#2020eb"/>
<polygon points="295.4,505.0 300.2,504.1 306.0,505.6 301.3,506.5" fill="#2020e8" stroke="#2020e8"/>
<polygon points="301.3,506.5 306.0,505.6 311.9,507.0 307.2,507.9" fill="#2020e5" stroke="#2020e5"/>
<polygon points="307.2,507.9 311.9,507.0 318.0,508.3 313.3,509.3" fill="#2020e3" stroke="#2020e3"/>
<polygon points="313.3,509.3 318.0,508.3 324.1,509.7 319.4,510.6" fill="#2020e2" stroke="#2020e2"/>
<polygon points="319.4,510.6 324.1,509.7 330.3,510.9 325.6,511.9" fill="#2020e1" stroke="#2020e1"/>
<polygon points="158.7,407.5 163.4,406.1 163.8,407.4 159.1,408.8" fill="#e4fe3a" stroke="#e4fe3a"/>
<polygon points="159.1,408.8 163.8,407.4 164.6,410.1 159.9,411.4" fill="#d8fe46" stroke="#d8fe46"/>
<polygon points="159.9,411.4 164.6,410.1 165.7,413.4 161.0,414.7" fill="#c6fe59" stroke="#c6fe59"/>
<polygon points="161.0,414.7 165.7,413.4 167.1,416.8 162.4,418.1" fill="#b1fe6d" stroke="#b1fe6d"/>
<polygon points="162.4,418.1 167.1,416.8 168.6,420.2 164.0,421.5" fill="#9dfe81" stroke="#9dfe81"/>
<polygon points="164.0,421.5 168.6,420.2 170.4,423.5 165.8,424.8" fill="#8afe94" stroke="#8afe94"/>
<polygon points="165.8,424.8 170.4,423.5 172.4,426.8 167.8,428.1" fill="#79fea5" stroke="#79fea5"/>
<polygon points="167.8,428.1 172.4,426.8 174.6,429.9 169.9,431.1" fill="#69feb6" stroke="#69feb6"/>
<polygon points="169.9,431.1 174.6,429.9 176.9,432.8 172.2,434.1" fill="#59fec5" stroke="#59fec5"/>
<polygon points="172.2,434.1 176.9,432.8 179.4,435.7 174.7,436.9" fill="#4bfed3" stroke="#4bfed3"/>
<polygon points="174.7,436.9 179.4,435.7 182.0,438.4 177.4,439.6" fill="#3efee0" stroke="#3efee0"/>
<polygon points="177.4,439.6 182.0,438.4 184.8,441.0 180.2,442.2" fill="#31feed" stroke="#31feed"/>
<polygon points="180.2,442.2 184.8,441.0 187.7,443.4 183.1,444.6" fill="#26fef8" stroke="#26fef8"/>
<polygon points="183.1,444.6 187.7,443.4 190.8,445.8 186.2,447.0" fill="#20f8fe" stroke="#20f8fe"/>
<polygon points="186.2,447.0 190.8,445.8 194.0,448.3 189.4,449.5" fill="#20edfe" stroke="#20edfe"/>
<polygon points="189.4,449.5 194.0,448.3 197.4,451.0 192.7,452.1" fill="#20e2fe" stroke="#20e2fe"/>
<polygon points="192.7,452.1 197.4,451.0 200.8,453.7 196.2,454.9" fill="#20d6fe" stroke="#20d6fe"/>
<polygon points="196.2,454.9 200.8,453.7 204.4,456.5 199.8,457.6" fill="#20cafe" stroke="#20cafe"/>
<polygon points="199.8,457.6 204.4,456.5 208.1,459.2 203.5,460.3" fill="#20bdfe" stroke="#20bdfe"/>
<polygon points="203.5,460.3 208.1,459.2 211.9,461.9 207.3,463.0" fill="#20b2fe" stroke="#20b2fe"/>
<polygon points="207.3,463.0 211.9,461.9 215.9,464.5 211.2,465.6" fill="#20a6fe" stroke="#20a6fe"/>
<polygon points="211.2,465.6 215.9,464.5 219.9,467.1 215.3,468.2" fill="#209bfe" stroke="#209bfe"/>
<polygon points="215.3,468.2 219.9,467.1 224.1,469.7 219.5,470.7" fill="#208ffe" stroke="#208ffe"/>
<polygon points="219.5,470.7 224.1,469.7 228.4,472.2 223.8,473.2" fill="#2083fe" stroke="#2083fe"/>
<polygon points="223.8,473.2 228.4,472.2 232.8,474.7 228.1,475.7" fill="#2078fe" stroke="#2078fe"/>
<polygon points="228.1,475.7 232.8,474.7 237.3,477.1 232.6,478.1" fill="#206dfe" stroke="#206dfe"/>
<polygon points="232.6,478.1 237.3,477.1 241.9,479.5 237.2,480.5" fill="#2062fe" stroke="#2062fe"/>
<polygon points="237.2,480.5 241.9,479.5 246.6,481.8 242.0,482.8" fill="#2058fe" stroke="#2058fe"/>
<polygon points="242.0,482.8 246.6,481.8 251.4,484.1 246.8,485.0" fill="#204ffe" stroke="#204ffe"/>
<polygon points="246.8,485.0 251.4,484.1 256.3,486.2 251.7,487.2" fill="#2046fe" stroke="#2046fe"/>
<polygon points="251.7,487.2 256.3,486.2 261.3,488.3 256.7,489.3" fill="#203efe" stroke="#203efe"/>
<polygon points="256.7,489.3 261.3,488.3 266.4,490.4 261.8,491.3" fill="#2037fe" stroke="#2037fe"/>
<polygon points="261.8,491.3 266.4,490.4 271.6,492.3 267.0,493.3" fill="#2030fe" stroke="#2030fe"/>
<polygon points="267.0,493.3 271.6,492.3 276.9,494.2 272.3,495.2" fill="#2029fe" stroke="#2029fe"/>
<polygon points="272.3,495.2 276.9,494.2 282.3,496.1 277.7,497.0" fill="#2023fe" stroke="#2023fe"/>
<polygon points="277.7,497.0 282.3,496.1 287.8,497.9 283.2,498.9" fill="#2020fb" stroke="#2020fb"/>
<polygon points="283.2,498.9 287.8,497.9 293.4,499.7 288.7,500.7" fill="#2020f6" stroke="#2020f6"/>
<polygon points="288.7,500.7 293.4,499.7 299.0,501.5 294.4,502.5" fill="#2020f0" stroke="#2020f0"/>
<polygon points="294.4,502.5 299.0,501.5 304.8,503.2 300.2,504.1" fill="#2020ec" stroke="#2020ec"/>
<polygon points="300.2,504.1 304.8,503.2 310.6,504.6 306.0,505.6" fill="#2020e9" stroke="#2020e9"/>
<polygon points="306.0,505.6 310.6,504.6 316.6,506.0 311.9,507.0" fill="#2020e6" stroke="#2020e6"/>
<polygon points="311.9,507.0 316.6,506.0 322.6,507.4 318.0,508.3" fill="#2020e4" stroke="#2020e4"/>
<polygon points="318.0,508.3 322.6,507.4 328.7,508.7 324.1,509.7" fill="#2020e3" stroke="#2020e3"/>
<polygon points="324.1,509.7 328.7,508.7 334.9,510.0 330.3,510.9" fill="#2020e2" stroke="#2020e2"/>
<polygon points="163.4,406.1 168.0,404.7 168.4,406.0 163.8,407.4" fill="#e7fe37" stroke="#e7fe37"/>
<polygon points="163.8,407.4 168.4,406.0 169.2,408.7 164.6,410.1" fill="#dbfe43" stroke="#dbfe43"/>
<polygon points="164.6,410.1 169.2,408.7 170.4,412.0 165.7,413.4" fill="#c9fe55" stroke="#c9fe55"/>
<polygon points="165.7,413.4 170.4,412.0 171.7,415.4 167.1,416.8" fill="#b4fe6a" stroke="#b4fe6a"/>
<polygon points="167.1,416.8 171.7,415.4 173.3,418.8 168.6,420.2" fill="#a0fe7f" stroke="#a0fe7f"/>
<polygon points="168.6,420.2 173.3,418.8 175.1,422.2 170.4,423.5" fill="#8cfe92" stroke="#8cfe92"/>
<polygon points="170.4,423.5 175.1,422.2 177.1,425.5 172.4,426.8" fill="#7bfea3" stroke="#7bfea3"/>
<polygon points="172.4,426.8 177.1,425.5 179.2,428.6 174.6,429.9" fill="#6bfeb3" stroke="#6bfeb3"/>
<polygon points="174.6,429.9 179.2,428.6 181.6,431.6 176.9,432.8" fill="#5cfec3" stroke="#5cfec3"/>
<polygon points="176.9,432.8 181.6,431.6 184.0,434.5 179.4,435.7" fill="#4dfed1" stroke="#4dfed1"/>
<polygon points="179.4,435.7 184.0,434.5 186.7,437.2 182.0,438.4" fill="#40fedf" stroke="#40fedf"/>
<polygon points="182.0,438.4 186.7,437.2 189.5,439.8 184.8,441.0" fill="#33feeb" stroke="#33feeb"/>
<polygon points="184.8,441.0 189.5,439.8 192.4,442.2 187.7,443.4" fill="#28fef7" stroke="#28fef7"/>
<polygon points="187.7,443.4 192.4,442.2 195.5,444.6 190.8,445.8" fill="#20fafe" stroke="#20fafe"/>
<polygon points="190.8,445.8 195.5,444.6 198.7,447.2 194.0,448.3" fill="#20effe" stroke="#20effe"/>
<polygon points="194.0,448.3 198.7,447.2 202.0,449.9 197.4,451.0" fill="#20e3fe" stroke="#20e3fe"/>
<polygon points="197.4,451.0 202.0,449.9 205.5,452.6 200.8,453.7" fill="#20d7fe" stroke="#20d7fe"/>
<polygon points="200.8,453.7 205.5,452.6 209.1,455.4 204.4,456.5" fill="#20cbfe" stroke="#20cbfe"/>
<polygon points="204.4,456.5 209.1,455.4 212.8,458.1 208.1,459.2" fill="#20bffe" stroke="#20bffe"/>
<polygon points="208.1,459.2 212.8,458.1 216.6,460.8 211.9,461.9" fill="#20b3fe" stroke="#20b3fe"/>
<polygon points="211.9,461.9 216.6,460.8 220.5,463.4 215.9,464.5" fill="#20a8fe" stroke="#20a8fe"/>
<polygon points="215.9,464.5 220.5,463.4 224.6,466.0 219.9,467.1" fill="#209cfe" stroke="#209cfe"/>
<polygon points="219.9,467.1 224.6,466.0 228.8,468.6 224.1,469.7" fill="#2090fe" stroke="#2090fe"/>
<polygon points="224.1,469.7 228.8,468.6 233.1,471.2 228.4,472.2" fill="#2084fe" stroke="#2084fe"/>
<polygon points="228.4,472.2 233.1,471.2 237.4,473.6 232.8,474.7" fill="#2079fe" stroke="#2079fe"/>
<polygon points="232.8,474.7 237.4,473.6 241.9,476.1 237.3,477.1" fill="#206efe" stroke="#206efe"/>
<polygon points="237.3,477.1 241.9,476.1 246.5,478.5 241.9,479.5" fill="#2063fe" stroke="#2063fe"/>
<polygon points="241.9,479.5 246.5,478.5 251.2,480.8 246.6,481.8" fill="#2059fe" stroke="#2059fe"/>
<polygon points="246.6,481.8 251.2,480.8 256.0,483.1 251.4,484.1" fill="#2050fe" stroke="#2050fe"/>
<polygon points="251.4,484.1 256.0,483.1 261.0,485.2 256.3,486.2" fill="#2047fe" stroke="#2047fe"/>
<polygon points="256.3,486.2 261.0,485.2 266.0,487.4 261.3,488.3" fill="#203ffe" stroke="#203ffe"/>
<polygon points="261.3,488.3 266.0,487.4 271.1,489.4 266.4,490.4" fill="#2037fe" stroke="#2037fe"/>
<polygon points="266.4,490.4 271.1,489.4 276.3,491.4 271.6,492.3" fill="#2030fe" stroke="#2030fe"/>
<polygon points="271.6,492.3 276.3,491.4 281.6,493.3 276.9,494.2" fill="#202afe" stroke="#202afe"/>
<polygon points="276.9,494.2 281.6,493.3 287.0,495.1 282.3,496.1" fill="#2024fe" stroke="#2024fe"/>
<polygon points="282.3,496.1 287.0,495.1 292.4,497.0 287.8,497.9" fill="#2020fb" stroke="#2020fb"/>
<polygon points="287.8,497.9 292.4,497.0 298.0,498.8 293.4,499.7" fill="#2020f6" stroke="#2020f6"/>
<polygon points="293.4,499.7 298.0,498.8 303.7,500.6 299.0,501.5" fill="#2020f1" stroke="#2020f1"/>
<polygon points="299.0,501.5 303.7,500.6 309.4,502.2 304.8,503.2" fill="#2020ec" stroke="#2020ec"/>
<polygon points="304.8,503.2 309.4,502.2 315.3,503.7 310.6,504.6" fill="#2020e9" stroke="#2020e9"/>
<polygon points="310.6,504.6 315.3,503.7 321.2,505.1 316.6,506.0" fill="#2020e7" stroke="#2020e7"/>
<polygon points="316.6,506.0 321.2,505.1 327.2,506.5 322.6,507.4" fill="#2020e5" stroke="#2020e5"/>
<polygon points="322.6,507.4 327.2,506.5 333.3,507.8 328.7,508.7" fill="#2020e3" stroke="#2020e3"/>
<polygon points="328.7,508.7 333.3,507.8 339.5,509.1 334.9,510.0" fill="#2020e2" stroke="#2020e2"/>
<polygon points="168.0,404.7 172.7,403.3 173.1,404.6 168.4,406.0" fill="#ebfe34" stroke="#ebfe34"/>
<polygon points="168.4,406.0 173.1,404.6 173.9,407.3 169.2,408.7" fill="#defe40" stroke="#defe40"/>
<polygon points="169.2,408.7 173.9,407.3 175.0,410.7 170.4,412.0" fill="#ccfe52" stroke="#ccfe52"/>
<polygon points="170.4,412.0 175.0,410.7 176.4,414.1 171.7,415.4" fill="#b7fe67" stroke="#b7fe67"/>
<polygon points="171.7,415.4 176.4,414.1 178.0,417.5 173.3,418.8" fill="#a2fe7c" stroke="#a2fe7c"/>
<polygon points="173.3,418.8 178.0,417.5 179.8,420.9 175.1,422.2" fill="#8ffe8f" stroke="#8ffe8f"/>
<polygon points="175.1,422.2 179.8,420.9 181.7,424.2 177.1,425.5" fill="#7dfea1" stroke="#7dfea1"/>
<polygon points="177.1,425.5 181.7,424.2 183.9,427.4 179.2,428.6" fill="#6dfeb1" stroke="#6dfeb1"/>
<polygon points="179.2,428.6 183.9,427.4 186.2,430.4 181.6,431.6" fill="#5efec1" stroke="#5efec1"/>
<polygon points="181.6,431.6 186.2,430.4 188.7,433.2 184.0,434.5" fill="#4ffecf" stroke="#4ffecf"/>
<polygon points="184.0,434.5 188.7,433.2 191.3,436.0 186.7,437.2" fill="#41fedd" stroke="#41fedd"/>
<polygon points="186.7,437.2 191.3,436.0 194.1,438.6 189.5,439.8" fill="#35fee9" stroke="#35fee9"/>
<polygon points="189.5,439.8 194.1,438.6 197.1,441.0 192.4,442.2" fill="#29fef5" stroke="#29fef5"/>
<polygon points="192.4,442.2 197.1,441.0 200.1,443.5 195.5,444.6" fill="#20fcfe" stroke="#20fcfe"/>
<polygon points="195.5,444.6 200.1,443.5 203.3,446.0 198.7,447.2" fill="#20f0fe" stroke="#20f0fe"/>
<polygon points="198.7,447.2 203.3,446.0 206.7,448.7 202.0,449.9" fill="#20e5fe" stroke="#20e5fe"/>
<polygon points="202.0,449.9 206.7,448.7 210.1,451.5 205.5,452.6" fill="#20d8fe" stroke="#20d8fe"/>
<polygon points="205.5,452.6 210.1,451.5 213.7,454.3 209.1,455.4" fill="#20ccfe" stroke="#20ccfe"/>
<polygon points="209.1,455.4 213.7,454.3 217.4,457.0 212.8,458.1" fill="#20c0fe" stroke="#20c0fe"/>
<polygon points="212.8,458.1 217.4,457.0 221.2,459.7 216.6,460.8" fill="#20b4fe" stroke="#20b4fe"/>
<polygon points="216.6,460.8 221.2,459.7 225.2,462.4 220.5,463.4" fill="#20a9fe" stroke="#20a9fe"/>
<polygon points="220.5,463.4 225.2,462.4 229.2,465.0 224.6,466.0" fill="#209dfe" stroke="#209dfe"/>
<polygon points="224.6,466.0 229.2,465.0 233.4,467.6 228.8,468.6" fill="#2091fe" stroke="#2091fe"/>
<polygon points="228.8,468.6 233.4,467.6 237.7,470.1 233.1,471.2" fill="#2085fe" stroke="#2085fe"/>
<polygon points="233.1,471.2 237.7,470.1 242.1,472.6 237.4,473.6" fill="#207afe" stroke="#207afe"/>
<polygon points="237.4,473.6 242.1,472.6 246.6,475.1 241.9,476.1" fill="#206ffe" stroke="#206ffe"/>
<polygon points="241.9,476.1 246.6,475.1 251.2,477.5 246.5,478.5" fill="#2064fe" stroke="#2064fe"/>
<polygon points="246.5,478.5 251.2,477.5 255.9,479.8 251.2,480.8" fill="#205afe" stroke="#205afe"/>
<polygon points="251.2,480.8 255.9,479.8 260.7,482.1 256.0,483.1" fill="#2050fe" stroke="#2050fe"/>
<polygon points="256.0,483.1 260.7,482.1 265.6,484.3 261.0,485.2" fill="#2048fe" stroke="#2048fe"/>
<polygon points="261.0,485.2 265.6,484.3 270.6,486.4 266.0,487.4" fill="#203ffe" stroke="#203ffe"/>
<polygon points="266.0,487.4 270.6,486.4 275.7,488.5 271.1,489.4" fill="#2038fe" stroke="#2038fe"/>
<polygon points="271.1,489.4 275.7,488.5 280.9,490.4 276.3,491.4" fill="#2031fe" stroke="#2031fe"/>
<polygon points="276.3,491.4 280.9,490.4 286.2,492.3 281.6,493.3" fill="#202afe" stroke="#202afe"/>
<polygon points="281.6,493.3 286.2,492.3 291.6,494.2 287.0,495.1" fill="#2024fe" stroke="#2024fe"/>
<polygon points="287.0,495.1 291.6,494.2 297.1,496.0 292.4,497.0" fill="#2020fc" stroke="#2020fc"/>
<polygon points="292.4,497.0 297.1,496.0 302.6,497.9 298.0,498.8" fill="#2020f6" stroke="#2020f6"/>
<polygon points="298.0,498.8 302.6,497.9 308.3,499.7 303.7,500.6" fill="#2020f1" stroke="#2020f1"/>
<polygon points="303.7,500.6 308.3,499.7 314.1,501.3 309.4,502.2" fill="#2020ed" stroke="#2020ed"/>
<polygon points="309.4,502.2 314.1,501.3 319.9,502.8 315.3,503.7" fill="#2020e9" stroke="#2020e9"/>
<polygon points="315.3,503.7 319.9,502.8 325.8,504.2 321.2,505.1" fill="#2020e7" stroke="#2020e7"/>
<polygon points="321.2,505.1 325.8,504.2 331.9,505.6 327.2,506.5" fill="#2020e5" stroke="#2020e5"/>
<polygon points="327.2,506.5 331.9,505.6 338.0,506.9 333.3,507.8" fill="#2020e3" stroke="#2020e3"/>
<polygon points="333.3,507.8 338.0,506.9 344.2,508.2 339.5,509.1" fill="#2020e2" stroke="#2020e2"/>
<polygon points="172.7,403.3 177.3,401.9 177.7,403.3 173.1,404.6" fill="#eefe30" stroke="#eefe30"/>
<polygon points="173.1,404.6 177.7,403.3 178.6,405.9 173.9,407.3" fill="#e2fe3d" stroke="#e2fe3d"/>
<polygon points="173.9,407.3 178.6,405.9 179.7,409.3 175.0,410.7" fill="#cffe4f" stroke="#cffe4f"/>
<polygon points="175.0,410.7 179.7,409.3 181.0,412.8 176.4,414.1" fill="#bafe64" stroke="#bafe64"/>
<polygon points="176.4,414.1 181.0,412.8 182.6,416.2 178.0,417.5" fill="#a5fe79" stroke="#a5fe79"/>
<polygon points="178.0,417.5 182.6,416.2 184.4,419.7 179.8,420.9" fill="#91fe8d" stroke="#91fe8d"/>
<polygon points="179.8,420.9 184.4,419.7 186.4,423.0 181.7,424.2" fill="#80fe9f" stroke="#80fe9f"/>
<polygon points="181.7,424.2 186.4,423.0 188.5,426.1 183.9,427.4" fill="#6ffeaf" stroke="#6ffeaf"/>
<polygon points="183.9,427.4 188.5,426.1 190.9,429.2 186.2,430.4" fill="#60febf" stroke="#60febf"/>
<polygon points="186.2,430.4 190.9,429.2 193.4,432.1 188.7,433.2" fill="#51fecd" stroke="#51fecd"/>
<polygon points="188.7,433.2 193.4,432.1 196.0,434.8 191.3,436.0" fill="#43fedb" stroke="#43fedb"/>
<polygon points="191.3,436.0 196.0,434.8 198.8,437.4 194.1,438.6" fill="#37fee8" stroke="#37fee8"/>
<polygon points="194.1,438.6 198.8,437.4 201.7,439.9 197.1,441.0" fill="#2bfef3" stroke="#2bfef3"/>
<polygon points="197.1,441.0 201.7,439.9 204.8,442.3 200.1,443.5" fill="#20fdfe" stroke="#20fdfe"/>
<polygon points="200.1,443.5 204.8,442.3 208.0,444.9 203.3,446.0" fill="#20f2fe" stroke="#20f2fe"/>
<polygon points="203.3,446.0 208.0,444.9 211.3,447.6 206.7,448.7" fill="#20e6fe" stroke="#20e6fe"/>
<polygon points="206.7,448.7 211.3,447.6 214.8,450.4 210.1,451.5" fill="#20dafe" stroke="#20dafe"/>
<polygon points="210.1,451.5 214.8,450.4 218.4,453.2 213.7,454.3" fill="#20cdfe" stroke="#20cdfe"/>
<polygon points="213.7,454.3 218.4,453.2 222.1,456.0 217.4,457.0" fill="#20c1fe" stroke="#20c1fe"/>
<polygon points="217.4,457.0 222.1,456.0 225.9,458.7 221.2,459.7" fill="#20b5fe" stroke="#20b5fe"/>
<polygon points="221.2,459.7 225.9,458.7 229.8,461.4 225.2,462.4" fill="#20aafe" stroke="#20aafe"/>
<polygon points="225.2,462.4 229.8,461.4 233.9,464.0 229.2,465.0" fill="#209efe" stroke="#209efe"/>
<polygon points="229.2,465.0 233.9,464.0 238.1,466.6 233.4,467.6" fill="#2092fe" stroke="#2092fe"/>
<polygon points="233.4,467.6 238.1,466.6 242.3,469.2 237.7,470.1" fill="#2086fe" stroke="#2086fe"/>
<polygon points="237.7,470.1 242.3,469.2 246.7,471.7 242.1,472.6" fill="#207afe" stroke="#207afe"/>
<polygon points="242.1,472.6 246.7,471.7 251.2,474.2 246.6,475.1" fill="#206ffe" stroke="#206ffe"/>
<polygon points="246.6,475.1 251.2,474.2 255.8,476.6 251.2,477.5" fill="#2064fe" stroke="#2064fe"/>
<polygon points="251.2,477.5 255.8,476.6 260.5,478.9 255.9,479.8" fill="#205afe" stroke="#205afe"/>
<polygon points="255.9,479.8 260.5,478.9 265.3,481.2 260.7,482.1" fill="#2051fe" stroke="#2051fe"/>
<polygon points="260.7,482.1 265.3,481.2 270.2,483.4 265.6,484.3" fill="#2048fe" stroke="#2048fe"/>
<polygon points="265.6,484.3 270.2,483.4 275.2,485.5 270.6,486.4" fill="#2040fe" stroke="#2040fe"/>
<polygon points="270.6,486.4 275.2,485.5 280.3,487.6 275.7,488.5" fill="#2038fe" stroke="#2038fe"/>
<polygon points="275.7,488.5 280.3,487.6 285.5,489.6 280.9,490.4" fill="#2031fe" stroke="#2031fe"/>
<polygon points="280.9,490.4 285.5,489.6 290.8,491.5 286.2,492.3" fill="#202afe" stroke="#202afe"/>
<polygon points="286.2,492.3 290.8,491.5 296.2,493.4 291.6,494.2" fill="#2024fe" stroke="#2024fe"/>
<polygon points="291.6,494.2 296.2,493.4 301.7,495.2 297.1,496.0" fill="#2020fc" stroke="#2020fc"/>
<polygon points="297.1,496.0 301.7,495.2 307.3,497.1 302.6,497.9" fill="#2020f6" stroke="#2020f6"/>
<polygon points="302.6,497.9 307.3,497.1 312.9,498.9 308.3,499.7" fill="#2020f1" stroke="#2020f1"/>
<polygon points="308.3,499.7 312.9,498.9 318.7,500.5 314.1,501.3" fill="#2020ec" stroke="#2020ec"/>
<polygon points="314.1,501.3 318.7,500.5 324.5,502.0 319.9,502.8" fill="#2020e9" stroke="#2020e9"/>
<polygon points="319.9,502.8 324.5,502.0 330.5,503.4 325.8,504.2" fill="#2020e7" stroke="#2020e7"/>
<polygon points="325.8,504.2 330.5,503.4 336.5,504.8 331.9,505.6" fill="#2020e5" stroke="#2020e5"/>
<polygon points="331.9,505.6 336.5,504.8 342.6,506.1 338.0,506.9" fill="#2020e3" stroke="#2020e3"/>
<polygon points="338.0,506.9 342.6,506.1 348.8,507.4 344.2,508.2" fill="#2020e2" stroke="#2020e2"/>
<polygon points="177.3,401.9 182.0,400.5 182.4,401.9 177.7,403.3" fill="#f1fe2d" stroke="#f1fe2d"/>
<polygon points="177.7,403.3 182.4,401.9 183.2,404.6 178.6,405.9" fill="#e5fe3a" stroke="#e5fe3a"/>
<polygon points="178.6,405.9 183.2,404.6 184.3,408.0 179.7,409.3" fill="#d2fe4c" stroke="#d2fe4c"/>
<polygon points="179.7,409.3 184.3,408.0 185.7,411.5 181.0,412.8" fill="#bdfe61" stroke="#bdfe61"/>
<polygon points="181.0,412.8 185.7,411.5 187.3,414.9 182.6,416.2" fill="#a8fe76" stroke="#a8fe76"/>
<polygon points="182.6,416.2 187.3,414.9 189.1,418.4 184.4,419.7" fill="#93fe8b" stroke="#93fe8b"/>
<polygon points="184.4,419.7 189.1,418.4 191.1,421.7 186.4,423.0" fill="#82fe9d" stroke="#82fe9d"/>
<polygon points="186.4,423.0 191.1,421.7 193.2,424.9 188.5,426.1" fill="#71fead" stroke="#71fead"/>
<polygon points="188.5,426.1 193.2,424.9 195.5,428.0 190.9,429.2" fill="#61febd" stroke="#61febd"/>
<polygon points="190.9,429.2 195.5,428.0 198.0,430.9 193.4,432.1" fill="#53fecc" stroke="#53fecc"/>
<polygon points="193.4,432.1 198.0,430.9 200.7,433.7 196.0,434.8" fill="#45fed9" stroke="#45fed9"/>
<polygon points="196.0,434.8 200.7,433.7 203.4,436.3 198.8,437.4" fill="#38fee6" stroke="#38fee6"/>
<polygon points="198.8,437.4 203.4,436.3 206.4,438.8 201.7,439.9" fill="#2cfef2" stroke="#2cfef2"/>
<polygon points="201.7,439.9 206.4,438.8 209.4,441.2 204.8,442.3" fill="#21fefd" stroke="#21fefd"/>
<polygon points="204.8,442.3 209.4,441.2 212.6,443.8 208.0,444.9" fill="#20f3fe" stroke="#20f3fe"/>
<polygon points="208.0,444.9 212.6,443.8 216.0,446.6 211.3,447.6" fill="#20e7fe" stroke="#20e7fe"/>
<polygon points="211.3,447.6 216.0,446.6 219.4,449.3 214.8,450.4" fill="#20dbfe" stroke="#20dbfe"/>
<polygon points="214.8,450.4 219.4,449.3 223.0,452.2 218.4,453.2" fill="#20cefe" stroke="#20cefe"/>
<polygon points="218.4,453.2 223.0,452.2 226.7,455.0 222.1,456.0" fill="#20c2fe" stroke="#20c2fe"/>
<polygon points="222.1,456.0 226.7,455.0 230.6,457.7 225.9,458.7" fill="#20b6fe" stroke="#20b6fe"/>
<polygon points="225.9,458.7 230.6,457.7 234.5,460.4 229.8,461.4" fill="#20aafe" stroke="#20aafe"/>
<polygon points="229.8,461.4 234.5,460.4 238.5,463.0 233.9,464.0" fill="#209ffe" stroke="#209ffe"/>
<polygon points="233.9,464.0 238.5,463.0 242.7,465.6 238.1,466.6" fill="#2092fe" stroke="#2092fe"/>
<polygon points="238.1,466.6 242.7,465.6 247.0,468.2 242.3,469.2" fill="#2086fe" stroke="#2086fe"/>
<polygon points="242.3,469.2 247.0,468.2 251.4,470.7 246.7,471.7" fill="#207bfe" stroke="#207bfe"/>
<polygon points="246.7,471.7 251.4,470.7 255.9,473.2 251.2,474.2" fill="#206ffe" stroke="#206ffe"/>
<polygon points="251.2,474.2 255.9,473.2 260.5,475.7 255.8,476.6" fill="#2065fe" stroke="#2065fe"/>
<polygon points="255.8,476.6 260.5,475.7 265.2,478.0 260.5,478.9" fill="#205afe" stroke="#205afe"/>
<polygon points="260.5,478.9 265.2,478.0 270.0,480.3 265.3,481.2" fill="#2051fe" stroke="#2051fe"/>
<polygon points="265.3,481.2 270.0,480.3 274.9,482.5 270.2,483.4" fill="#2048fe" stroke="#2048fe"/>
<polygon points="270.2,483.4 274.9,482.5 279.9,484.6 275.2,485.5" fill="#203ffe" stroke="#203ffe"/>
<polygon points="275.2,485.5 279.9,484.6 285.0,486.7 280.3,487.6" fill="#2038fe" stroke="#2038fe"/>
<polygon points="280.3,487.6 285.0,486.7 290.2,488.7 285.5,489.6" fill="#2030fe" stroke="#2030fe"/>
<polygon points="285.5,489.6 290.2,488.7 295.5,490.6 290.8,491.5" fill="#202afe" stroke="#202afe"/>
<polygon points="290.8,491.5 295.5,490.6 300.9,492.5 296.2,493.4" fill="#2024fe" stroke="#2024fe"/>
<polygon points="296.2,493.4 300.9,492.5 306.3,494.4 301.7,495.2" fill="#2020fb" stroke="#2020fb"/>
<polygon points="301.7,495.2 306.3,494.4 311.9,496.2 307.3,497.1" fill="#2020f6" stroke="#2020f6"/>
<polygon points="307.3,497.1 311.9,496.2 317.6,498.0 312.9,498.9" fill="#2020f0" stroke="#2020f0"/>
<polygon points="312.9,498.9 317.6,498.0 323.3,499.7 318.7,500.5" fill="#2020ec" stroke="#2020ec"/>
<polygon points="318.7,500.5 323.3,499.7 329.2,501.2 324.5,502.0" fill="#2020e9" stroke="#2020e9"/>
<polygon points="324.5,502.0 329.2,501.2 335.1,502.6 330.5,503.4" fill="#2020e6" stroke="#2020e6"/>
<polygon points="330.5,503.4 335.1,502.6 341.1,503.9 336.5,504.8" fill="#2020e4" stroke="#2020e4"/>
<polygon points="336.5,504.8 341.1,503.9 347.2,505.3 342.6,506.1" fill="#2020e2" stroke="#2020e2"/>
<polygon points="342.6,506.1 347.2,505.3 353.4,506.6 348.8,507.4" fill="#2020e1" stroke="#2020e1"/>
<polygon points="182.0,400.5 187.6,397.8 188.0,399.2 182.4,401.9" fill="#f7fc25" stroke="#f7fc25"/>
<polygon points="182.4,401.9 188.0,399.2 188.8,402.0 183.2,404.6" fill="#eafc33" stroke="#eafc33"/>
<polygon points="183.2,404.6 188.8,402.0 189.9,405.5 184.3,408.0" fill="#d7fc45" stroke="#d7fc45"/>
<polygon points="184.3,408.0 189.9,405.5 191.3,409.0 185.7,411.5" fill="#c2fc5b" stroke="#c2fc5b"/>
<polygon points="185.7,411.5 191.3,409.0 192.8,412.6 187.3,414.9" fill="#adfc70" stroke="#adfc70"/>
<polygon points="187.3,414.9 192.8,412.6 194.6,416.1 189.1,418.4" fill="#98fc85" stroke="#98fc85"/>
<polygon points="189.1,418.4 194.6,416.1 196.6,419.5 191.1,421.7" fill="#85fc97" stroke="#85fc97"/>
<polygon points="191.1,421.7 196.6,419.5 198.8,422.8 193.2,424.9" fill="#75fca8" stroke="#75fca8"/>
<polygon points="193.2,424.9 198.8,422.8 201.1,425.9 195.5,428.0" fill="#65fcb8" stroke="#65fcb8"/>
<polygon points="195.5,428.0 201.1,425.9 203.6,428.8 198.0,430.9" fill="#56fcc6" stroke="#56fcc6"/>
<polygon points="198.0,430.9 203.6,428.8 206.2,431.7 200.7,433.7" fill="#48fcd4" stroke="#48fcd4"/>
<polygon points="200.7,433.7 206.2,431.7 209.0,434.3 203.4,436.3" fill="#3bfce1" stroke="#3bfce1"/>
<polygon points="203.4,436.3 209.0,434.3 211.9,436.9 206.4,438.8" fill="#2ffced" stroke="#2ffced"/>
<polygon points="206.4,438.8 211.9,436.9 215.0,439.4 209.4,441.2" fill="#24fcf8" stroke="#24fcf8"/>
<polygon points="209.4,441.2 215.0,439.4 218.2,442.0 212.6,443.8" fill="#20f4fc" stroke="#20f4fc"/>
<polygon points="212.6,443.8 218.2,442.0 221.5,444.8 216.0,446.6" fill="#20e8fc" stroke="#20e8fc"/>
<polygon points="216.0,446.6 221.5,444.8 225.0,447.6 219.4,449.3" fill="#20dcfc" stroke="#20dcfc"/>
<polygon points="219.4,449.3 225.0,447.6 228.6,450.5 223.0,452.2" fill="#20cffc" stroke="#20cffc"/>
<polygon points="223.0,452.2 228.6,450.5 232.3,453.3 226.7,455.0" fill="#20c3fc" stroke="#20c3fc"/>
<polygon points="226.7,455.0 232.3,453.3 236.1,456.1 230.6,457.7" fill="#20b7fc" stroke="#20b7fc"/>
<polygon points="230.6,457.7 236.1,456.1 240.0,458.8 234.5,460.4" fill="#20abfc" stroke="#20abfc"/>
<polygon points="234.5,460.4 240.0,458.8 244.1,461.5 238.5,463.0" fill="#209ffc" stroke="#209ffc"/>
<polygon points="238.5,463.0 244.1,461.5 248.3,464.2 242.7,465.6" fill="#2093fc" stroke="#2093fc"/>
<polygon points="242.7,465.6 248.3,464.2 252.5,466.8 247.0,468.2" fill="#2087fc" stroke="#2087fc"/>
<polygon points="247.0,468.2 252.5,466.8 256.9,469.4 251.4,470.7" fill="#207bfc" stroke="#207bfc"/>
<polygon points="251.4,470.7 256.9,469.4 261.4,471.9 255.9,473.2" fill="#2070fc" stroke="#2070fc"/>
<polygon points="255.9,473.2 261.4,471.9 266.0,474.4 260.5,475.7" fill="#2065fc" stroke="#2065fc"/>
<polygon points="260.5,475.7 266.0,474.4 270.7,476.8 265.2,478.0" fill="#205bfc" stroke="#205bfc"/>
<polygon points="265.2,478.0 270.7,476.8 275.5,479.1 270.0,480.3" fill="#2051fc" stroke="#2051fc"/>
<polygon points="270.0,480.3 275.5,479.1 280.4,481.3 274.9,482.5" fill="#2048fc" stroke="#2048fc"/>
<polygon points="274.9,482.5 280.4,481.3 285.4,483.5 279.9,484.6" fill="#203ffc" stroke="#203ffc"/>
<polygon points="279.9,484.6 285.4,483.5 290.5,485.6 285.0,486.7" fill="#2038fc" stroke="#2038fc"/>
<polygon points="285.0,486.7 290.5,485.6 295.7,487.6 290.2,488.7" fill="#2030fc" stroke="#2030fc"/>
<polygon points="290.2,488.7 295.7,487.6 301.0,489.5 295.5,490.6" fill="#202afc" stroke="#202afc"/>
<polygon points="295.5,490.6 301.0,489.5 306.4,491.4 300.9,492.5" fill="#2023fc" stroke="#2023fc"/>
<polygon points="300.9,492.5 306.4,491.4 311.9,493.3 306.3,494.4" fill="#2020f9" stroke="#2020f9"/>
<polygon points="306.3,494.4 311.9,493.3 317.5,495.2 311.9,496.2" fill="#2020f4" stroke="#2020f4"/>
<polygon points="311.9,496.2 317.5,495.2 323.1,497.0 317.6,498.0" fill="#2020ee" stroke="#2020ee"/>
<polygon points="317.6,498.0 323.1,497.0 328.9,498.7 323.3,499.7" fill="#2020ea" stroke="#2020ea"/>
<polygon points="323.3,499.7 328.9,498.7 334.7,500.2 329.2,501.2" fill="#2020e7" stroke="#2020e7"/>
<polygon points="329.2,501.2 334.7,500.2 340.6,501.6 335.1,502.6" fill="#2020e4" stroke="#2020e4"/>
<polygon points="335.1,502.6 340.6,501.6 346.7,503.0 341.1,503.9" fill="#2020e2" stroke="#2020e2"/>
<polygon points="341.1,503.9 346.7,503.0 352.8,504.3 347.2,505.3" fill="#2020e0" stroke="#2020e0"/>
<polygon points="347.2,505.3 352.8,504.3 359.0,505.6 353.4,506.6" fill="#2020df" stroke="#2020df"/>
<polygon points="187.6,397.8 193.1,395.2 193.5,396.6 188.0,399.2" fill="#fcf520" stroke="#fcf520"/>
<polygon points="188.0,399.2 193.5,396.6 194.4,399.4 188.8,402.0" fill="#f4fc28" stroke="#f4fc28"/>
<polygon points="188.8,402.0 194.4,399.4 195.5,403.0 189.9,405.5" fill="#e1fc3c" stroke="#e1fc3c"/>
<polygon points="189.9,405.5 195.5,403.0 196.8,406.6 191.3,409.0" fill="#cbfc52" stroke="#cbfc52"/>
<polygon points="191.3,409.0 196.8,406.6 198.4,410.2 192.8,412.6" fill="#b5fc67" stroke="#b5fc67"/>
<polygon points="192.8,412.6 198.4,410.2 200.2,413.8 194.6,416.1" fill="#a0fc7c" stroke="#a0fc7c"/>
<polygon points="194.6,416.1 200.2,413.8 202.2,417.3 196.6,419.5" fill="#8cfc90" stroke="#8cfc90"/>
<polygon points="196.6,419.5 202.2,417.3 204.3,420.6 198.8,422.8" fill="#7bfca1" stroke="#7bfca1"/>
<polygon points="198.8,422.8 204.3,420.6 206.7,423.8 201.1,425.9" fill="#6bfcb1" stroke="#6bfcb1"/>
<polygon points="201.1,425.9 206.7,423.8 209.1,426.8 203.6,428.8" fill="#5cfcc1" stroke="#5cfcc1"/>
<polygon points="203.6,428.8 209.1,426.8 211.8,429.7 206.2,431.7" fill="#4dfccf" stroke="#4dfccf"/>
<polygon points="206.2,431.7 211.8,429.7 214.6,432.4 209.0,434.3" fill="#40fcdc" stroke="#40fcdc"/>
<polygon points="209.0,434.3 214.6,432.4 217.5,435.0 211.9,436.9" fill="#34fce8" stroke="#34fce8"/>
<polygon points="211.9,436.9 217.5,435.0 220.6,437.5 215.0,439.4" fill="#29fcf4" stroke="#29fcf4"/>
<polygon points="215.0,439.4 220.6,437.5 223.8,440.2 218.2,442.0" fill="#20f9fc" stroke="#20f9fc"/>
<polygon points="218.2,442.0 223.8,440.2 227.1,443.0 221.5,444.8" fill="#20ecfc" stroke="#20ecfc"/>
<polygon points="221.5,444.8 227.1,443.0 230.6,445.9 225.0,447.6" fill="#20e0fc" stroke="#20e0fc"/>
<polygon points="225.0,447.6 230.6,445.9 234.1,448.8 228.6,450.5" fill="#20d3fc" stroke="#20d3fc"/>
<polygon points="228.6,450.5 234.1,448.8 237.8,451.7 232.3,453.3" fill="#20c6fc" stroke="#20c6fc"/>
<polygon points="232.3,453.3 237.8,451.7 241.7,454.5 236.1,456.1" fill="#20bafc" stroke="#20bafc"/>
<polygon points="236.1,456.1 241.7,454.5 245.6,457.3 240.0,458.8" fill="#20aefc" stroke="#20aefc"/>
<polygon points="240.0,458.8 245.6,457.3 249.7,460.1 244.1,461.5" fill="#20a2fc" stroke="#20a2fc"/>
<polygon points="244.1,461.5 249.7,460.1 253.8,462.8 248.3,464.2" fill="#2096fc" stroke="#2096fc"/>
<polygon points="248.3,464.2 253.8,462.8 258.1,465.4 252.5,466.8" fill="#2089fc" stroke="#2089fc"/>
<polygon points="252.5,466.8 258.1,465.4 262.5,468.0 256.9,469.4" fill="#207dfc" stroke="#207dfc"/>
<polygon points="256.9,469.4 262.5,468.0 267.0,470.6 261.4,471.9" fill="#2072fc" stroke="#2072fc"/>
<polygon points="261.4,471.9 267.0,470.6 271.6,473.1 266.0,474.4" fill="#2066fc" stroke="#2066fc"/>
<polygon points="266.0,474.4 271.6,473.1 276.3,475.5 270.7,476.8" fill="#205cfc" stroke="#205cfc"/>
<polygon points="270.7,476.8 276.3,475.5 281.1,477.9 275.5,479.1" fill="#2052fc" stroke="#2052fc"/>
<polygon points="275.5,479.1 281.1,477.9 286.0,480.1 280.4,481.3" fill="#2049fc" stroke="#2049fc"/>
<polygon points="280.4,481.3 286.0,480.1 291.0,482.3 285.4,483.5" fill="#2040fc" stroke="#2040fc"/>
<polygon points="285.4,483.5 291.0,482.3 296.1,484.4 290.5,485.6" fill="#2038fc" stroke="#2038fc"/>
<polygon points="290.5,485.6 296.1,484.4 301.3,486.5 295.7,487.6" fill="#2031fc" stroke="#2031fc"/>
<polygon points="295.7,487.6 301.3,486.5 306.6,488.5 301.0,489.5" fill="#202afc" stroke="#202afc"/>
<polygon points="301.0,489.5 306.6,488.5 311.9,490.4 306.4,491.4" fill="#2023fc" stroke="#2023fc"/>
<polygon points="306.4,491.4 311.9,490.4 317.4,492.3 311.9,493.3" fill="#2020f9" stroke="#2020f9"/>
<polygon points="311.9,493.3 317.4,492.3 323.0,494.2 317.5,495.2" fill="#2020f4" stroke="#2020f4"/>
<polygon points="317.5,495.2 323.0,494.2 328.7,496.0 323.1,497.0" fill="#2020ee" stroke="#2020ee"/>
<polygon points="323.1,497.0 328.7,496.0 334.4,497.7 328.9,498.7" fill="#2020ea" stroke="#2020ea"/>
<polygon points="328.9,498.7 334.4,497.7 340.3,499.2 334.7,500.2" fill="#2020e6" stroke="#2020e6"/>
<polygon points="334.7,500.2 340.3,499.2 346.2,500.6 340.6,501.6" fill="#2020e4" stroke="#2020e4"/>
<polygon points="340.6,501.6 346.2,500.6 352.2,502.0 346.7,503.0" fill="#2020e1" stroke="#2020e1"/>
<polygon points="346.7,503.0 352.2,502.0 358.3,503.3 352.8,504.3" fill="#2020e0" stroke="#2020e0"/>
<polygon points="352.8,504.3 358.3,503.3 364.5,504.6 359.0,505.6" fill="#2020de" stroke="#2020de"/>
<polygon points="193.1,395.2 198.7,392.5 199.1,394.0 193.5,396.6" fill="#fce920" stroke="#fce920"/>
<polygon points="193.5,396.6 199.1,394.0 199.9,396.8 194.4,399.4" fill="#fcf920" stroke="#fcf920"/>
<polygon points="194.4,399.4 199.9,396.8 201.0,400.4 195.5,403.0" fill="#eafc32" stroke="#eafc32"/>
<polygon points="195.5,403.0 201.0,400.4 202.4,404.2 196.8,406.6" fill="#d4fc48" stroke="#d4fc48"/>
<polygon points="196.8,406.6 202.4,404.2 204.0,407.9 198.4,410.2" fill="#befc5f" stroke="#befc5f"/>
<polygon points="198.4,410.2 204.0,407.9 205.8,411.5 200.2,413.8" fill="#a8fc74" stroke="#a8fc74"/>
<polygon points="200.2,413.8 205.8,411.5 207.7,415.1 202.2,417.3" fill="#93fc89" stroke="#93fc89"/>
<polygon points="202.2,417.3 207.7,415.1 209.9,418.4 204.3,420.6" fill="#82fc9b" stroke="#82fc9b"/>
<polygon points="204.3,420.6 209.9,418.4 212.2,421.7 206.7,423.8" fill="#71fcab" stroke="#71fcab"/>
<polygon points="206.7,423.8 212.2,421.7 214.7,424.7 209.1,426.8" fill="#61fcbb" stroke="#61fcbb"/>
<polygon points="209.1,426.8 214.7,424.7 217.3,427.7 211.8,429.7" fill="#53fcc9" stroke="#53fcc9"/>
<polygon points="211.8,429.7 217.3,427.7 220.1,430.4 214.6,432.4" fill="#45fcd7" stroke="#45fcd7"/>
<polygon points="214.6,432.4 220.1,430.4 223.1,433.1 217.5,435.0" fill="#39fce3" stroke="#39fce3"/>
<polygon points="217.5,435.0 223.1,433.1 226.1,435.7 220.6,437.5" fill="#2dfcef" stroke="#2dfcef"/>
<polygon points="220.6,437.5 226.1,435.7 229.3,438.4 223.8,440.2" fill="#21fcfb" stroke="#21fcfb"/>
<polygon points="223.8,440.2 229.3,438.4 232.7,441.3 227.1,443.0" fill="#20f1fc" stroke="#20f1fc"/>
<polygon points="227.1,443.0 232.7,441.3 236.1,444.2 230.6,445.9" fill="#20e4fc" stroke="#20e4fc"/>
<polygon points="230.6,445.9 236.1,444.2 239.7,447.2 234.1,448.8" fill="#20d6fc" stroke="#20d6fc"/>
<polygon points="234.1,448.8 239.7,447.2 243.4,450.1 237.8,451.7" fill="#20c9fc" stroke="#20c9fc"/>
<polygon points="237.8,451.7 243.4,450.1 247.2,453.0 241.7,454.5" fill="#20bdfc" stroke="#20bdfc"/>
<polygon points="241.7,454.5 247.2,453.0 251.2,455.8 245.6,457.3" fill="#20b0fc" stroke="#20b0fc"/>
<polygon points="245.6,457.3 251.2,455.8 255.2,458.6 249.7,460.1" fill="#20a5fc" stroke="#20a5fc"/>
<polygon points="249.7,460.1 255.2,458.6 259.4,461.3 253.8,462.8" fill="#2098fc" stroke="#2098fc"/>
<polygon points="253.8,462.8 259.4,461.3 263.7,464.0 258.1,465.4" fill="#208bfc" stroke="#208bfc"/>
<polygon points="258.1,465.4 263.7,464.0 268.0,466.7 262.5,468.0" fill="#207ffc" stroke="#207ffc"/>
<polygon points="262.5,468.0 268.0,466.7 272.5,469.3 267.0,470.6" fill="#2073fc" stroke="#2073fc"/>
<polygon points="267.0,470.6 272.5,469.3 277.1,471.8 271.6,473.1" fill="#2068fc" stroke="#2068fc"/>
<polygon points="271.6,473.1 277.1,471.8 281.8,474.3 276.3,475.5" fill="#205dfc" stroke="#205dfc"/>
<polygon points="276.3,475.5 281.8,474.3 286.6,476.6 281.1,477.9" fill="#2053fc" stroke="#2053fc"/>
<polygon points="281.1,477.9 286.6,476.6 291.5,478.9 286.0,480.1" fill="#204afc" stroke="#204afc"/>
<polygon points="286.0,480.1 291.5,478.9 296.5,481.2 291.0,482.3" fill="#2041fc" stroke="#2041fc"/>
<polygon points="291.0,482.3 296.5,481.2 301.6,483.3 296.1,484.4" fill="#2039fc" stroke="#2039fc"/>
<polygon points="296.1,484.4 301.6,483.3 306.8,485.4 301.3,486.5" fill="#2031fc" stroke="#2031fc"/>
<polygon points="301.3,486.5 306.8,485.4 312.1,487.4 306.6,488.5" fill="#202afc" stroke="#202afc"/>
<polygon points="306.6,488.5 312.1,487.4 317.5,489.3 311.9,490.4" fill="#2024fc" stroke="#2024fc"/>
<polygon points="311.9,490.4 317.5,489.3 323.0,491.2 317.4,492.3" fill="#2020f9" stroke="#2020f9"/>
<polygon points="317.4,492.3 323.0,491.2 328.5,493.1 323.0,494.2" fill="#2020f4" stroke="#2020f4"/>
<polygon points="323.0,494.2 328.5,493.1 334.2,495.0 328.7,496.0" fill="#2020ee" stroke="#2020ee"/>
<polygon points="328.7,496.0 334.2,495.0 339.9,496.7 334.4,497.7" fill="#2020e9" stroke="#2020e9"/>
<polygon points="334.4,497.7 339.9,496.7 345.8,498.2 340.3,499.2" fill="#2020e6" stroke="#2020e6"/>
<polygon points="340.3,499.2 345.8,498.2 351.7,499.6 346.2,500.6" fill="#2020e3" stroke="#2020e3"/>
<polygon points="346.2,500.6 351.7,499.6 357.7,501.0 352.2,502.0" fill="#2020e1" stroke="#2020e1"/>
<polygon points="352.2,502.0 357.7,501.0 363.8,502.4 358.3,503.3" fill="#2020df" stroke="#2020df"/>
<polygon points="358.3,503.3 363.8,502.4 370.0,503.7 364.5,504.6" fill="#2020de" stroke="#2020de"/>
<polygon points="198.7,392.5 202.4,391.0 202.8,392.5 199.1,394.0" fill="#fde120" stroke="#fde120"/>
<polygon points="199.1,394.0 202.8,392.5 203.6,395.4 199.9,396.8" fill="#fdf120" stroke="#fdf120"/>
<polygon points="199.9,396.8 203.6,395.4 204.7,399.0 201.0,400.4" fill="#f2fd2b" stroke="#f2fd2b"/>
<polygon points="201.0,400.4 204.7,399.0 206.1,402.8 202.4,404.2" fill="#dbfd42" stroke="#dbfd42"/>
<polygon points="202.4,404.2 206.1,402.8 207.7,406.5 204.0,407.9" fill="#c5fd58" stroke="#c5fd58"/>
<polygon points="204.0,407.9 207.7,406.5 209.5,410.2 205.8,411.5" fill="#affd6e" stroke="#affd6e"/>
<polygon points="205.8,411.5 209.5,410.2 211.4,413.8 207.7,415.1" fill="#99fd84" stroke="#99fd84"/>
<polygon points="207.7,415.1 211.4,413.8 213.6,417.2 209.9,418.4" fill="#87fd96" stroke="#87fd96"/>
<polygon points="209.9,418.4 213.6,417.2 215.9,420.5 212.2,421.7" fill="#76fda7" stroke="#76fda7"/>
<polygon points="212.2,421.7 215.9,420.5 218.4,423.6 214.7,424.7" fill="#66fdb7" stroke="#66fdb7"/>
<polygon points="214.7,424.7 218.4,423.6 221.0,426.5 217.3,427.7" fill="#57fdc6" stroke="#57fdc6"/>
<polygon points="217.3,427.7 221.0,426.5 223.8,429.3 220.1,430.4" fill="#4afdd4" stroke="#4afdd4"/>
<polygon points="220.1,430.4 223.8,429.3 226.8,431.9 223.1,433.1" fill="#3dfde0" stroke="#3dfde0"/>
<polygon points="223.1,433.1 226.8,431.9 229.8,434.6 226.1,435.7" fill="#31fdec" stroke="#31fdec"/>
<polygon points="226.1,435.7 229.8,434.6 233.0,437.3 229.3,438.4" fill="#25fdf8" stroke="#25fdf8"/>
<polygon points="229.3,438.4 233.0,437.3 236.3,440.2 232.7,441.3" fill="#20f4fd" stroke="#20f4fd"/>
<polygon points="232.7,441.3 236.3,440.2 239.8,443.2 236.1,444.2" fill="#20e7fd" stroke="#20e7fd"/>
<polygon points="236.1,444.2 239.8,443.2 243.4,446.2 239.7,447.2" fill="#20dafd" stroke="#20dafd"/>
<polygon points="239.7,447.2 243.4,446.2 247.1,449.1 243.4,450.1" fill="#20ccfd" stroke="#20ccfd"/>
<polygon points="243.4,450.1 247.1,449.1 250.9,452.0 247.2,453.0" fill="#20bffd" stroke="#20bffd"/>
<polygon points="247.2,453.0 250.9,452.0 254.9,454.9 251.2,455.8" fill="#20b3fd" stroke="#20b3fd"/>
<polygon points="251.2,455.8 254.9,454.9 258.9,457.7 255.2,458.6" fill="#20a7fd" stroke="#20a7fd"/>
<polygon points="255.2,458.6 258.9,457.7 263.1,460.4 259.4,461.3" fill="#209afd" stroke="#209afd"/>
<polygon points="259.4,461.3 263.1,460.4 267.3,463.2 263.7,464.0" fill="#208dfd" stroke="#208dfd"/>
<polygon points="263.7,464.0 267.3,463.2 271.7,465.8 268.0,466.7" fill="#2081fd" stroke="#2081fd"/>
<polygon points="268.0,466.7 271.7,465.8 276.2,468.4 272.5,469.3" fill="#2075fd" stroke="#2075fd"/>
<polygon points="272.5,469.3 276.2,468.4 280.8,471.0 277.1,471.8" fill="#2069fd" stroke="#2069fd"/>
<polygon points="277.1,471.8 280.8,471.0 285.5,473.5 281.8,474.3" fill="#205efd" stroke="#205efd"/>
<polygon points="281.8,474.3 285.5,473.5 290.3,475.9 286.6,476.6" fill="#2054fd" stroke="#2054fd"/>
<polygon points="286.6,476.6 290.3,475.9 295.2,478.2 291.5,478.9" fill="#204bfd" stroke="#204bfd"/>
<polygon points="291.5,478.9 295.2,478.2 300.2,480.4 296.5,481.2" fill="#2041fd" stroke="#2041fd"/>
<polygon points="296.5,481.2 300.2,480.4 305.3,482.6 301.6,483.3" fill="#2039fd" stroke="#2039fd"/>
<polygon points="301.6,483.3 305.3,482.6 310.5,484.7 306.8,485.4" fill="#2031fd" stroke="#2031fd"/>
<polygon points="306.8,485.4 310.5,484.7 315.8,486.7 312.1,487.4" fill="#202afd" stroke="#202afd"/>
<polygon points="312.1,487.4 315.8,486.7 321.2,488.6 317.5,489.3" fill="#2024fd" stroke="#2024fd"/>
<polygon points="317.5,489.3 321.2,488.6 326.7,490.5 323.0,491.2" fill="#2020fa" stroke="#2020fa"/>
<polygon points="323.0,491.2 326.7,490.5 332.2,492.5 328.5,493.1" fill="#2020f4" stroke="#2020f4"/>
<polygon points="328.5,493.1 332.2,492.5 337.9,494.3 334.2,495.0" fill="#2020ee" stroke="#2020ee"/>
<polygon points="334.2,495.0 337.9,494.3 343.6,496.0 339.9,496.7" fill="#2020e9" stroke="#2020e9"/>
<polygon points="339.9,496.7 343.6,496.0 349.5,497.5 345.8,498.2" fill="#2020e6" stroke="#2020e6"/>
<polygon points="345.8,498.2 349.5,497.5 355.4,499.0 351.7,499.6" fill="#2020e3" stroke="#2020e3"/>
<polygon points="351.7,499.6 355.4,499.0 361.4,500.4 357.7,501.0" fill="#2020e1" stroke="#2020e1"/>
<polygon points="357.7,501.0 361.4,500.4 367.5,501.7 363.8,502.4" fill="#2020df" stroke="#2020df"/>
<polygon points="363.8,502.4 367.5,501.7 373.7,503.0 370.0,503.7" fill="#2020de" stroke="#2020de"/>
<polygon points="202.4,391.0 207.8,388.5 208.2,390.0 202.8,392.5" fill="#fcd820" stroke="#fcd820"/>
<polygon points="202.8,392.5 208.2,390.0 209.0,392.9 203.6,395.4" fill="#fce820" stroke="#fce820"/>
<polygon points="203.6,395.4 209.0,392.9 210.1,396.7 204.7,399.0" fill="#f9fc24" stroke="#f9fc24"/>
<polygon points="204.7,399.0 210.1,396.7 211.5,400.5 206.1,402.8" fill="#e1fc3b" stroke="#e1fc3b"/>
<polygon points="206.1,402.8 211.5,400.5 213.1,404.3 207.7,406.5" fill="#cafc52" stroke="#cafc52"/>
<polygon points="207.7,406.5 213.1,404.3 214.9,408.1 209.5,410.2" fill="#b4fc68" stroke="#b4fc68"/>
<polygon points="209.5,410.2 214.9,408.1 216.8,411.7 211.4,413.8" fill="#9efc7e" stroke="#9efc7e"/>
<polygon points="211.4,413.8 216.8,411.7 219.0,415.2 213.6,417.2" fill="#8bfc92" stroke="#8bfc92"/>
<polygon points="213.6,417.2 219.0,415.2 221.3,418.5 215.9,420.5" fill="#7afca3" stroke="#7afca3"/>
<polygon points="215.9,420.5 221.3,418.5 223.8,421.6 218.4,423.6" fill="#6afcb3" stroke="#6afcb3"/>
<polygon points="218.4,423.6 223.8,421.6 226.4,424.6 221.0,426.5" fill="#5bfcc2" stroke="#5bfcc2"/>
<polygon points="221.0,426.5 226.4,424.6 229.2,427.5 223.8,429.3" fill="#4dfccf" stroke="#4dfccf"/>
<polygon points="223.8,429.3 229.2,427.5 232.1,430.2 226.8,431.9" fill="#40fcdc" stroke="#40fcdc"/>
<polygon points="226.8,431.9 232.1,430.2 235.2,432.8 229.8,434.6" fill="#34fce8" stroke="#34fce8"/>
<polygon points="229.8,434.6 235.2,432.8 238.4,435.6 233.0,437.3" fill="#28fcf5" stroke="#28fcf5"/>
<polygon points="233.0,437.3 238.4,435.6 241.7,438.6 236.3,440.2" fill="#20f7fc" stroke="#20f7fc"/>
<polygon points="236.3,440.2 241.7,438.6 245.2,441.6 239.8,443.2" fill="#20e9fc" stroke="#20e9fc"/>
<polygon points="239.8,443.2 245.2,441.6 248.8,444.6 243.4,446.2" fill="#20dcfc" stroke="#20dcfc"/>
<polygon points="243.4,446.2 248.8,444.6 252.5,447.6 247.1,449.1" fill="#20cefc" stroke="#20cefc"/>
<polygon points="247.1,449.1 252.5,447.6 256.3,450.5 250.9,452.0" fill="#20c1fc" stroke="#20c1fc"/>
<polygon points="250.9,452.0 256.3,450.5 260.2,453.4 254.9,454.9" fill="#20b4fc" stroke="#20b4fc"/>
<polygon points="254.9,454.9 260.2,453.4 264.3,456.3 258.9,457.7" fill="#20a8fc" stroke="#20a8fc"/>
<polygon points="258.9,457.7 264.3,456.3 268.5,459.1 263.1,460.4" fill="#209cfc" stroke="#209cfc"/>
<polygon points="263.1,460.4 268.5,459.1 272.7,461.8 267.3,463.2" fill="#208ffc" stroke="#208ffc"/>
<polygon points="267.3,463.2 272.7,461.8 277.1,464.5 271.7,465.8" fill="#2082fc" stroke="#2082fc"/>
<polygon points="271.7,465.8 277.1,464.5 281.6,467.2 276.2,468.4" fill="#2076fc" stroke="#2076fc"/>
<polygon points="276.2,468.4 281.6,467.2 286.2,469.8 280.8,471.0" fill="#206afc" stroke="#206afc"/>
<polygon points="280.8,471.0 286.2,469.8 290.9,472.3 285.5,473.5" fill="#205ffc" stroke="#205ffc"/>
<polygon points="285.5,473.5 290.9,472.3 295.7,474.7 290.3,475.9" fill="#2055fc" stroke="#2055fc"/>
<polygon points="290.3,475.9 295.7,474.7 300.6,477.0 295.2,478.2" fill="#204bfc" stroke="#204bfc"/>
<polygon points="295.2,478.2 300.6,477.0 305.6,479.3 300.2,480.4" fill="#2042fc" stroke="#2042fc"/>
<polygon points="300.2,480.4 305.6,479.3 310.7,481.5 305.3,482.6" fill="#2039fc" stroke="#2039fc"/>
<polygon points="305.3,482.6 310.7,481.5 315.9,483.6 310.5,484.7" fill="#2031fc" stroke="#2031fc"/>
<polygon points="310.5,484.7 315.9,483.6 321.2,485.6 315.8,486.7" fill="#202afc" stroke="#202afc"/>
<polygon points="315.8,486.7 321.2,485.6 326.6,487.6 321.2,488.6" fill="#2024fc" stroke="#2024fc"/>
<polygon points="321.2,488.6 326.6,487.6 332.0,489.5 326.7,490.5" fill="#2020f9" stroke="#2020f9"/>
<polygon points="326.7,490.5 332.0,489.5 337.6,491.5 332.2,492.5" fill="#2020f3" stroke="#2020f3"/>
<polygon points="332.2,492.5 337.6,491.5 343.2,493.3 337.9,494.3" fill="#2020ed" stroke="#2020ed"/>
<polygon points="337.9,494.3 343.2,493.3 349.0,495.0 343.6,496.0" fill="#2020e9" stroke="#2020e9"/>
<polygon points="343.6,496.0 349.0,495.0 354.8,496.6 349.5,497.5" fill="#2020e5" stroke="#2020e5"/>
<polygon points="349.5,497.5 354.8,496.6 360.8,498.0 355.4,499.0" fill="#2020e2" stroke="#2020e2"/>
<polygon points="355.4,499.0 360.8,498.0 366.8,499.4 361.4,500.4" fill="#2020e0" stroke="#2020e0"/>
<polygon points="361.4,500.4 366.8,499.4 372.9,500.8 367.5,501.7" fill="#2020de" stroke="#2020de"/>
<polygon points="367.5,501.7 372.9,500.8 379.1,502.1 373.7,503.0" fill="#2020dd" stroke="#2020dd"/>
<polygon points="207.8,388.5 211.5,386.5 211.9,388.0 208.2,390.0" fill="#fccd20" stroke="#fccd20"/>
<polygon points="208.2,390.0 211.9,388.0 212.7,391.0 209.0,392.9" fill="#fcdd20" stroke="#fcdd20"/>
<polygon points="209.0,392.9 212.7,391.0 213.8,394.8 210.1,396.7" fill="#fcf520" stroke="#fcf520"/>
<polygon points="210.1,396.7 213.8,394.8 215.2,398.7 211.5,400.5" fill="#e9fc33" stroke="#e9fc33"/>
<polygon points="211.5,400.5 215.2,398.7 216.8,402.5 213.1,404.3" fill="#d1fc4a" stroke="#d1fc4a"/>
<polygon points="213.1,404.3 216.8,402.5 218.6,406.3 214.9,408.1" fill="#bbfc61" stroke="#bbfc61"/>
<polygon points="214.9,408.1 218.6,406.3 220.5,410.0 216.8,411.7" fill="#a5fc77" stroke="#a5fc77"/>
<polygon points="216.8,411.7 220.5,410.0 222.7,413.5 219.0,415.2" fill="#90fc8b" stroke="#90fc8b"/>
<polygon points="219.0,415.2 222.7,413.5 225.0,416.8 221.3,418.5" fill="#7ffc9d" stroke="#7ffc9d"/>
<polygon points="221.3,418.5 225.0,416.8 227.5,420.0 223.8,421.6" fill="#6ffcad" stroke="#6ffcad"/>
<polygon points="223.8,421.6 227.5,420.0 230.1,423.1 226.4,424.6" fill="#60fcbc" stroke="#60fcbc"/>
<polygon points="226.4,424.6 230.1,423.1 232.9,425.9 229.2,427.5" fill="#52fcca" stroke="#52fcca"/>
<polygon points="229.2,427.5 232.9,425.9 235.8,428.7 232.1,430.2" fill="#45fcd7" stroke="#45fcd7"/>
<polygon points="232.1,430.2 235.8,428.7 238.9,431.3 235.2,432.8" fill="#38fce3" stroke="#38fce3"/>
<polygon points="235.2,432.8 238.9,431.3 242.1,434.2 238.4,435.6" fill="#2cfcf0" stroke="#2cfcf0"/>
<polygon points="238.4,435.6 242.1,434.2 245.4,437.1 241.7,438.6" fill="#20fafc" stroke="#20fafc"/>
<polygon points="241.7,438.6 245.4,437.1 248.9,440.2 245.2,441.6" fill="#20ecfc" stroke="#20ecfc"/>
<polygon points="245.2,441.6 248.9,440.2 252.5,443.2 248.8,444.6" fill="#20dffc" stroke="#20dffc"/>
<polygon points="248.8,444.6 252.5,443.2 256.2,446.3 252.5,447.6" fill="#20d1fc" stroke="#20d1fc"/>
<polygon points="252.5,447.6 256.2,446.3 260.0,449.3 256.3,450.5" fill="#20c4fc" stroke="#20c4fc"/>
<polygon points="256.3,450.5 260.0,449.3 263.9,452.2 260.2,453.4" fill="#20b7fc" stroke="#20b7fc"/>
<polygon points="260.2,453.4 263.9,452.2 268.0,455.0 264.3,456.3" fill="#20aafc" stroke="#20aafc"/>
<polygon points="264.3,456.3 268.0,455.0 272.1,457.9 268.5,459.1" fill="#209efc" stroke="#209efc"/>
<polygon points="268.5,459.1 272.1,457.9 276.4,460.7 272.7,461.8" fill="#2091fc" stroke="#2091fc"/>
<polygon points="272.7,461.8 276.4,460.7 280.8,463.4 277.1,464.5" fill="#2084fc" stroke="#2084fc"/>
<polygon points="277.1,464.5 280.8,463.4 285.3,466.1 281.6,467.2" fill="#2078fc" stroke="#2078fc"/>
<polygon points="281.6,467.2 285.3,466.1 289.9,468.7 286.2,469.8" fill="#206cfc" stroke="#206cfc"/>
<polygon points="286.2,469.8 289.9,468.7 294.6,471.2 290.9,472.3" fill="#2061fc" stroke="#2061fc"/>
<polygon points="290.9,472.3 294.6,471.2 299.4,473.6 295.7,474.7" fill="#2056fc" stroke="#2056fc"/>
<polygon points="295.7,474.7 299.4,473.6 304.3,476.0 300.6,477.0" fill="#204cfc" stroke="#204cfc"/>
<polygon points="300.6,477.0 304.3,476.0 309.3,478.3 305.6,479.3" fill="#2043fc" stroke="#2043fc"/>
<polygon points="305.6,479.3 309.3,478.3 314.4,480.5 310.7,481.5" fill="#203afc" stroke="#203afc"/>
<polygon points="310.7,481.5 314.4,480.5 319.6,482.6 315.9,483.6" fill="#2032fc" stroke="#2032fc"/>
<polygon points="315.9,483.6 319.6,482.6 324.9,484.6 321.2,485.6" fill="#202bfc" stroke="#202bfc"/>
<polygon points="321.2,485.6 324.9,484.6 330.2,486.6 326.6,487.6" fill="#2024fc" stroke="#2024fc"/>
<polygon points="326.6,487.6 330.2,486.6 335.7,488.6 332.0,489.5" fill="#2020f9" stroke="#2020f9"/>
<polygon points="332.0,489.5 335.7,488.6 341.3,490.5 337.6,491.5" fill="#2020f3" stroke="#2020f3"/>
<polygon points="337.6,491.5 341.3,490.5 346.9,492.4 343.2,493.3" fill="#2020ed" stroke="#2020ed"/>
<polygon points="343.2,493.3 346.9,492.4 352.7,494.1 349.0,495.0" fill="#2020e8" stroke="#2020e8"/>
<polygon points="349.0,495.0 352.7,494.1 358.5,495.7 354.8,496.6" fill="#2020e5" stroke="#2020e5"/>
<polygon points="354.8,496.6 358.5,495.7 364.4,497.1 360.8,498.0" fill="#2020e2" stroke="#2020e2"/>
<polygon points="360.8,498.0 364.4,497.1 370.5,498.5 366.8,499.4" fill="#2020e0" stroke="#2020e0"/>
<polygon points="366.8,499.4 370.5,498.5 376.5,499.9 372.9,500.8" fill="#2020de" stroke="#2020de"/>
<polygon points="372.9,500.8 376.5,499.9 382.7,501.2 379.1,502.1" fill="#2020dd" stroke="#2020dd"/>
<polygon points="211.5,386.5 215.0,374.0 215.4,375.7 211.9,388.0" fill="#e9901e" stroke="#e9901e"/>
<polygon points="211.9,388.0 215.4,375.7 216.2,379.1 212.7,391.0" fill="#e9a01e" stroke="#e9a01e"/>
<polygon points="212.7,391.0 216.2,379.1 217.3,383.4 213.8,394.8" fill="#e9b81e" stroke="#e9b81e"/>
<polygon points="213.8,394.8 217.3,383.4 218.7,387.8 215.2,398.7" fill="#e9d31e" stroke="#e9d31e"/>
<polygon points="215.2,398.7 218.7,387.8 220.3,392.1 216.8,402.5" fill="#e3e923" stroke="#e3e923"/>
<polygon points="216.8,402.5 220.3,392.1 222.1,396.4 218.6,406.3" fill="#cce93a" stroke="#cce93a"/>
<polygon points="218.6,406.3 222.1,396.4 224.0,400.5 220.5,410.0" fill="#b6e950" stroke="#b6e950"/>
<polygon points="220.5,410.0 224.0,400.5 226.2,404.5 222.7,413.5" fill="#a2e964" stroke="#a2e964"/>
<polygon points="222.7,413.5 226.2,404.5 228.5,408.2 225.0,416.8" fill="#8fe978" stroke="#8fe978"/>
<polygon points="225.0,416.8 228.5,408.2 231.0,411.8 227.5,420.0" fill="#7ee989" stroke="#7ee989"/>
<polygon points="227.5,420.0 231.0,411.8 233.6,415.2 230.1,423.1" fill="#6ee998" stroke="#6ee998"/>
<polygon points="230.1,423.1 233.6,415.2 236.4,418.4 232.9,425.9" fill="#60e9a6" stroke="#60e9a6"/>
<polygon points="232.9,425.9 236.4,418.4 239.3,421.4 235.8,428.7" fill="#54e9b3" stroke="#54e9b3"/>
<polygon points="235.8,428.7 239.3,421.4 242.4,424.4 238.9,431.3" fill="#47e9bf" stroke="#47e9bf"/>
<polygon points="238.9,431.3 242.4,424.4 245.6,427.5 242.1,434.2" fill="#3be9cc" stroke="#3be9cc"/>
<polygon points="242.1,434.2 245.6,427.5 248.9,430.8 245.4,437.1" fill="#2ee9d9" stroke="#2ee9d9"/>
<polygon points="245.4,437.1 248.9,430.8 252.4,434.2 248.9,440.2" fill="#20e9e6" stroke="#20e9e6"/>
<polygon points="248.9,440.2 252.4,434.2 256.0,437.6 252.5,443.2" fill="#1edde9" stroke="#1edde9"/>
<polygon points="252.5,443.2 256.0,437.6 259.7,441.0 256.2,446.3" fill="#1ed0e9" stroke="#1ed0e9"/>
<polygon points="256.2,446.3 259.7,441.0 263.5,444.3 260.0,449.3" fill="#1ec2e9" stroke="#1ec2e9"/>
<polygon points="260.0,449.3 263.5,444.3 267.4,447.5 263.9,452.2" fill="#1eb6e9" stroke="#1eb6e9"/>
<polygon points="263.9,452.2 267.4,447.5 271.5,450.7 268.0,455.0" fill="#1ea9e9" stroke="#1ea9e9"/>
<polygon points="268.0,455.0 271.5,450.7 275.6,453.8 272.1,457.9" fill="#1e9de9" stroke="#1e9de9"/>
<polygon points="272.1,457.9 275.6,453.8 279.9,456.8 276.4,460.7" fill="#1e91e9" stroke="#1e91e9"/>
<polygon points="276.4,460.7 279.9,456.8 284.3,459.8 280.8,463.4" fill="#1e85e9" stroke="#1e85e9"/>
<polygon points="280.8,463.4 284.3,459.8 288.8,462.8 285.3,466.1" fill="#1e78e9" stroke="#1e78e9"/>
<polygon points="285.3,466.1 288.8,462.8 293.4,465.6 289.9,468.7" fill="#1e6de9" stroke="#1e6de9"/>
<polygon points="289.9,468.7 293.4,465.6 298.1,468.4 294.6,471.2" fill="#1e61e9" stroke="#1e61e9"/>
<polygon points="294.6,471.2 298.1,468.4 302.9,471.0 299.4,473.6" fill="#1e57e9" stroke="#1e57e9"/>
<polygon points="299.4,473.6 302.9,471.0 307.8,473.6 304.3,476.0" fill="#1e4de9" stroke="#1e4de9"/>
<polygon points="304.3,476.0 307.8,473.6 312.8,476.1 309.3,478.3" fill="#1e44e9" stroke="#1e44e9"/>
<polygon points="309.3,478.3 312.8,476.1 317.9,478.5 314.4,480.5" fill="#1e3be9" stroke="#1e3be9"/>
<polygon points="314.4,480.5 317.9,478.5 323.1,480.7 319.6,482.6" fill="#1e33e9" stroke="#1e33e9"/>
<polygon points="319.6,482.6 323.1,480.7 328.3,482.9 324.9,484.6" fill="#1e2ce9" stroke="#1e2ce9"/>
<polygon points="324.9,484.6 328.3,482.9 333.7,485.1 330.2,486.6" fill="#1e25e9" stroke="#1e25e9"/>
<polygon points="330.2,486.6 333.7,485.1 339.2,487.1 335.7,488.6" fill="#1e1fe9" stroke="#1e1fe9"/>
<polygon points="335.7,488.6 339.2,487.1 344.8,489.2 341.3,490.5" fill="#1e1ee4" stroke="#1e1ee4"/>
<polygon points="341.3,490.5 344.8,489.2 350.4,491.2 346.9,492.4" fill="#1e1ede" stroke="#1e1ede"/>
<polygon points="346.9,492.4 350.4,491.2 356.2,493.0 352.7,494.1" fill="#1e1ed9" stroke="#1e1ed9"/>
<polygon points="352.7,494.1 356.2,493.0 362.0,494.6 358.5,495.7" fill="#1e1ed5" stroke="#1e1ed5"/>
<polygon points="358.5,495.7 362.0,494.6 367.9,496.1 364.4,497.1" fill="#1e1ed3" stroke="#1e1ed3"/>
<polygon points="364.4,497.1 367.9,496.1 373.9,497.6 370.5,498.5" fill="#1e1ed0" stroke="#1e1ed0"/>
<polygon points="370.5,498.5 373.9,497.6 380.0,499.0 376.5,499.9" fill="#1e1ecf" stroke="#1e1ecf"/>
<polygon points="376.5,499.9 380.0,499.0 386.2,500.3 382.7,501.2" fill="#1e1ecd" stroke="#1e1ecd"/>
<polygon points="215.0,374.0 220.6,371.2 221.0,372.9 215.4,375.7" fill="#fc6920" stroke="#fc6920"/>
<polygon points="215.4,375.7 221.0,372.9 221.8,376.4 216.2,379.1" fill="#fc7b20" stroke="#fc7b20"/>
<polygon points="216.2,379.1 221.8,376.4 222.9,380.7 217.3,383.4" fill="#fc9720" stroke="#fc9720"/>
<polygon points="217.3,383.4 222.9,380.7 224.3,385.2 218.7,387.8" fill="#fcb720" stroke="#fcb720"/>
<polygon points="218.7,387.8 224.3,385.2 225.9,389.5 220.3,392.1" fill="#fcd620" stroke="#fcd620"/>
<polygon points="220.3,392.1 225.9,389.5 227.7,393.9 222.1,396.4" fill="#fcf520" stroke="#fcf520"/>
<polygon points="222.1,396.4 227.7,393.9 229.6,398.1 224.0,400.5" fill="#e7fc35" stroke="#e7fc35"/>
<polygon points="224.0,400.5 229.6,398.1 231.8,402.1 226.2,404.5" fill="#d0fc4d" stroke="#d0fc4d"/>
<polygon points="226.2,404.5 231.8,402.1 234.1,405.9 228.5,408.2" fill="#b9fc63" stroke="#b9fc63"/>
<polygon points="228.5,408.2 234.1,405.9 236.6,409.5 231.0,411.8" fill="#a4fc78" stroke="#a4fc78"/>
<polygon points="231.0,411.8 236.6,409.5 239.2,413.0 233.6,415.2" fill="#90fc8c" stroke="#90fc8c"/>
<polygon points="233.6,415.2 239.2,413.0 242.0,416.2 236.4,418.4" fill="#80fc9c" stroke="#80fc9c"/>
<polygon points="236.4,418.4 242.0,416.2 244.9,419.2 239.3,421.4" fill="#71fcab" stroke="#71fcab"/>
<polygon points="239.3,421.4 244.9,419.2 248.0,422.2 242.4,424.4" fill="#63fcb9" stroke="#63fcb9"/>
<polygon points="242.4,424.4 248.0,422.2 251.2,425.4 245.6,427.5" fill="#54fcc8" stroke="#54fcc8"/>
<polygon points="245.6,427.5 251.2,425.4 254.5,428.8 248.9,430.8" fill="#45fcd7" stroke="#45fcd7"/>
<polygon points="248.9,430.8 254.5,428.8 258.0,432.2 252.4,434.2" fill="#35fce7" stroke="#35fce7"/>
<polygon points="252.4,434.2 258.0,432.2 261.6,435.6 256.0,437.6" fill="#25fcf7" stroke="#25fcf7"/>
<polygon points="256.0,437.6 261.6,435.6 265.3,439.0 259.7,441.0" fill="#20f1fc" stroke="#20f1fc"/>
<polygon points="259.7,441.0 265.3,439.0 269.1,442.4 263.5,444.3" fill="#20e2fc" stroke="#20e2fc"/>
<polygon points="263.5,444.3 269.1,442.4 273.0,445.6 267.4,447.5" fill="#20d3fc" stroke="#20d3fc"/>
<polygon points="267.4,447.5 273.0,445.6 277.1,448.8 271.5,450.7" fill="#20c5fc" stroke="#20c5fc"/>
<polygon points="271.5,450.7 277.1,448.8 281.2,452.0 275.6,453.8" fill="#20b7fc" stroke="#20b7fc"/>
<polygon points="275.6,453.8 281.2,452.0 285.5,455.1 279.9,456.8" fill="#20a9fc" stroke="#20a9fc"/>
<polygon points="279.9,456.8 285.5,455.1 289.9,458.1 284.3,459.8" fill="#209cfc" stroke="#209cfc"/>
<polygon points="284.3,459.8 289.9,458.1 294.4,461.1 288.8,462.8" fill="#208efc" stroke="#208efc"/>
<polygon points="288.8,462.8 294.4,461.1 299.0,464.0 293.4,465.6" fill="#2080fc" stroke="#2080fc"/>
<polygon points="293.4,465.6 299.0,464.0 303.7,466.7 298.1,468.4" fill="#2073fc" stroke="#2073fc"/>
<polygon points="298.1,468.4 303.7,466.7 308.5,469.4 302.9,471.0" fill="#2067fc" stroke="#2067fc"/>
<polygon points="302.9,471.0 308.5,469.4 313.3,472.0 307.8,473.6" fill="#205bfc" stroke="#205bfc"/>
<polygon points="307.8,473.6 313.3,472.0 318.3,474.5 312.8,476.1" fill="#2051fc" stroke="#2051fc"/>
<polygon points="312.8,476.1 318.3,474.5 323.4,476.9 317.9,478.5" fill="#2047fc" stroke="#2047fc"/>
<polygon points="317.9,478.5 323.4,476.9 328.6,479.2 323.1,480.7" fill="#203dfc" stroke="#203dfc"/>
<polygon points="323.1,480.7 328.6,479.2 333.9,481.4 328.3,482.9" fill="#2035fc" stroke="#2035fc"/>
<polygon points="328.3,482.9 333.9,481.4 339.3,483.6 333.7,485.1" fill="#202dfc" stroke="#202dfc"/>
<polygon points="333.7,485.1 339.3,483.6 344.8,485.6 339.2,487.1" fill="#2026fc" stroke="#2026fc"/>
<polygon points="339.2,487.1 344.8,485.6 350.3,487.7 344.8,489.2" fill="#2020fa" stroke="#2020fa"/>
<polygon points="344.8,489.2 350.3,487.7 356.0,489.8 350.4,491.2" fill="#2020f4" stroke="#2020f4"/>
<polygon points="350.4,491.2 356.0,489.8 361.7,491.6 356.2,493.0" fill="#2020ee" stroke="#2020ee"/>
<polygon points="356.2,493.0 361.7,491.6 367.6,493.2 362.0,494.6" fill="#2020ea" stroke="#2020ea"/>
<polygon points="362.0,494.6 367.6,493.2 373.5,494.7 367.9,496.1" fill="#2020e6" stroke="#2020e6"/>
<polygon points="367.9,496.1 373.5,494.7 379.5,496.2 373.9,497.6" fill="#2020e4" stroke="#2020e4"/>
<polygon points="373.9,497.6 379.5,496.2 385.6,497.6 380.0,499.0" fill="#2020e2" stroke="#2020e2"/>
<polygon points="380.0,499.0 385.6,497.6 391.8,498.9 386.2,500.3" fill="#2020e0" stroke="#2020e0"/>
<polygon points="220.6,371.2 226.0,368.5 226.4,370.3 221.0,372.9" fill="#fc5c20" stroke="#fc5c20"/>
<polygon points="221.0,372.9 226.4,370.3 227.2,373.7 221.8,376.4" fill="#fc6f20" stroke="#fc6f20"/>
<polygon points="221.8,376.4 227.2,373.7 228.3,378.1 222.9,380.7" fill="#fc8b20" stroke="#fc8b20"/>
<polygon points="222.9,380.7 228.3,378.1 229.7,382.6 224.3,385.2" fill="#fcab20" stroke="#fcab20"/>
<polygon points="224.3,385.2 229.7,382.6 231.3,387.1 225.9,389.5" fill="#fccb20" stroke="#fccb20"/>
<polygon points="225.9,389.5 231.3,387.1 233.1,391.5 227.7,393.9" fill="#fcea20" stroke="#fcea20"/>
<polygon points="227.7,393.9 233.1,391.5 235.0,395.8 229.6,398.1" fill="#f0fc2c" stroke="#f0fc2c"/>
<polygon points="229.6,398.1 235.0,395.8 237.2,399.8 231.8,402.1" fill="#d8fc44" stroke="#d8fc44"/>
<polygon points="231.8,402.1 237.2,399.8 239.5,403.6 234.1,405.9" fill="#c1fc5b" stroke="#c1fc5b"/>
<polygon points="234.1,405.9 239.5,403.6 242.0,407.3 236.6,409.5" fill="#acfc70" stroke="#acfc70"/>
<polygon points="236.6,409.5 242.0,407.3 244.6,410.8 239.2,413.0" fill="#98fc84" stroke="#98fc84"/>
<polygon points="239.2,413.0 244.6,410.8 247.4,414.1 242.0,416.2" fill="#87fc95" stroke="#87fc95"/>
<polygon points="242.0,416.2 247.4,414.1 250.3,417.1 244.9,419.2" fill="#78fca5" stroke="#78fca5"/>
<polygon points="244.9,419.2 250.3,417.1 253.4,420.2 248.0,422.2" fill="#69fcb3" stroke="#69fcb3"/>
<polygon points="248.0,422.2 253.4,420.2 256.6,423.4 251.2,425.4" fill="#5afcc2" stroke="#5afcc2"/>
<polygon points="251.2,425.4 256.6,423.4 259.9,426.8 254.5,428.8" fill="#4bfcd1" stroke="#4bfcd1"/>
<polygon points="254.5,428.8 259.9,426.8 263.4,430.2 258.0,432.2" fill="#3bfce1" stroke="#3bfce1"/>
<polygon points="258.0,432.2 263.4,430.2 267.0,433.7 261.6,435.6" fill="#2bfcf1" stroke="#2bfcf1"/>
<polygon points="261.6,435.6 267.0,433.7 270.7,437.2 265.3,439.0" fill="#20f6fc" stroke="#20f6fc"/>
<polygon points="265.3,439.0 270.7,437.2 274.5,440.5 269.1,442.4" fill="#20e7fc" stroke="#20e7fc"/>
<polygon points="269.1,442.4 274.5,440.5 278.4,443.8 273.0,445.6" fill="#20d8fc" stroke="#20d8fc"/>
<polygon points="273.0,445.6 278.4,443.8 282.5,447.0 277.1,448.8" fill="#20c9fc" stroke="#20c9fc"/>
<polygon points="277.1,448.8 282.5,447.0 286.6,450.2 281.2,452.0" fill="#20bbfc" stroke="#20bbfc"/>
<polygon points="281.2,452.0 286.6,450.2 290.9,453.4 285.5,455.1" fill="#20adfc" stroke="#20adfc"/>
<polygon points="285.5,455.1 290.9,453.4 295.3,456.4 289.9,458.1" fill="#20a0fc" stroke="#20a0fc"/>
<polygon points="289.9,458.1 295.3,456.4 299.8,459.4 294.4,461.1" fill="#2092fc" stroke="#2092fc"/>
<polygon points="294.4,461.1 299.8,459.4 304.3,462.3 299.0,464.0" fill="#2084fc" stroke="#2084fc"/>
<polygon points="299.0,464.0 304.3,462.3 309.0,465.2 303.7,466.7" fill="#2077fc" stroke="#2077fc"/>
<polygon points="303.7,466.7 309.0,465.2 313.8,467.9 308.5,469.4" fill="#206afc" stroke="#206afc"/>
<polygon points="308.5,469.4 313.8,467.9 318.7,470.5 313.3,472.0" fill="#205ffc" stroke="#205ffc"/>
<polygon points="313.3,472.0 318.7,470.5 323.7,473.0 318.3,474.5" fill="#2054fc" stroke="#2054fc"/>
<polygon points="318.3,474.5 323.7,473.0 328.8,475.4 323.4,476.9" fill="#204afc" stroke="#204afc"/>
<polygon points="323.4,476.9 328.8,475.4 334.0,477.7 328.6,479.2" fill="#2040fc" stroke="#2040fc"/>
<polygon points="328.6,479.2 334.0,477.7 339.3,479.9 333.9,481.4" fill="#2038fc" stroke="#2038fc"/>
<polygon points="333.9,481.4 339.3,479.9 344.7,482.1 339.3,483.6" fill="#2030fc" stroke="#2030fc"/>
<polygon points="339.3,483.6 344.7,482.1 350.1,484.2 344.8,485.6" fill="#2028fc" stroke="#2028fc"/>
<polygon points="344.8,485.6 350.1,484.2 355.7,486.3 350.3,487.7" fill="#2021fc" stroke="#2021fc"/>
<polygon points="350.3,487.7 355.7,486.3 361.4,488.4 356.0,489.8" fill="#2020f6" stroke="#2020f6"/>
<polygon points="356.0,489.8 361.4,488.4 367.1,490.2 361.7,491.6" fill="#2020f0" stroke="#2020f0"/>
<polygon points="361.7,491.6 367.1,490.2 372.9,491.8 367.6,493.2" fill="#2020ec" stroke="#2020ec"/>
<polygon points="367.6,493.2 372.9,491.8 378.9,493.3 373.5,494.7" fill="#2020e9" stroke="#2020e9"/>
<polygon points="373.5,494.7 378.9,493.3 384.9,494.8 379.5,496.2" fill="#2020e6" stroke="#2020e6"/>
<polygon points="379.5,496.2 384.9,494.8 391.0,496.2 385.6,497.6" fill="#2020e4" stroke="#2020e4"/>
<polygon points="385.6,497.6 391.0,496.2 397.1,497.5 391.8,498.9" fill="#2020e2" stroke="#2020e2"/>
<polygon points="226.0,368.5 229.7,366.6 230.1,368.4 226.4,370.3" fill="#fc5120" stroke="#fc5120"/>
<polygon points="226.4,370.3 230.1,368.4 230.9,371.9 227.2,373.7" fill="#fc6420" stroke="#fc6420"/>
<polygon points="227.2,373.7 230.9,371.9 232.0,376.3 228.3,378.1" fill="#fc8120" stroke="#fc8120"/>
<polygon points="228.3,378.1 232.0,376.3 233.4,380.9 229.7,382.6" fill="#fca120" stroke="#fca120"/>
<polygon points="229.7,382.6 233.4,380.9 235.0,385.4 231.3,387.1" fill="#fcc120" stroke="#fcc120"/>
<polygon points="231.3,387.1 235.0,385.4 236.8,389.8 233.1,391.5" fill="#fce120" stroke="#fce120"/>
<polygon points="233.1,391.5 236.8,389.8 238.7,394.1 235.0,395.8" fill="#f8fc24" stroke="#f8fc24"/>
<polygon points="235.0,395.8 238.7,394.1 240.9,398.2 237.2,399.8" fill="#dffc3d" stroke="#dffc3d"/>
<polygon points="237.2,399.8 240.9,398.2 243.2,402.0 239.5,403.6" fill="#c8fc54" stroke="#c8fc54"/>
<polygon points="239.5,403.6 243.2,402.0 245.7,405.7 242.0,407.3" fill="#b3fc69" stroke="#b3fc69"/>
<polygon points="242.0,407.3 245.7,405.7 248.3,409.3 244.6,410.8" fill="#9efc7e" stroke="#9efc7e"/>
<polygon points="244.6,410.8 248.3,409.3 251.1,412.6 247.4,414.1" fill="#8cfc90" stroke="#8cfc90"/>
<polygon points="247.4,414.1 251.1,412.6 254.0,415.7 250.3,417.1" fill="#7dfc9f" stroke="#7dfc9f"/>
<polygon points="250.3,417.1 254.0,415.7 257.1,418.7 253.4,420.2" fill="#6efcae" stroke="#6efcae"/>
<polygon points="253.4,420.2 257.1,418.7 260.3,422.0 256.6,423.4" fill="#5ffcbd" stroke="#5ffcbd"/>
<polygon points="256.6,423.4 260.3,422.0 263.6,425.4 259.9,426.8" fill="#50fccc" stroke="#50fccc"/>
<polygon points="259.9,426.8 263.6,425.4 267.1,428.9 263.4,430.2" fill="#3ffcdd" stroke="#3ffcdd"/>
<polygon points="263.4,430.2 267.1,428.9 270.6,432.4 267.0,433.7" fill="#2ffced" stroke="#2ffced"/>
<polygon points="267.0,433.7 270.6,432.4 274.3,435.9 270.7,437.2" fill="#20fbfc" stroke="#20fbfc"/>
<polygon points="270.7,437.2 274.3,435.9 278.2,439.2 274.5,440.5" fill="#20ebfc" stroke="#20ebfc"/>
<polygon points="274.5,440.5 278.2,439.2 282.1,442.5 278.4,443.8" fill="#20dcfc" stroke="#20dcfc"/>
<polygon points="278.4,443.8 282.1,442.5 286.1,445.8 282.5,447.0" fill="#20cdfc" stroke="#20cdfc"/>
<polygon points="282.5,447.0 286.1,445.8 290.3,449.0 286.6,450.2" fill="#20bffc" stroke="#20bffc"/>
<polygon points="286.6,450.2 290.3,449.0 294.6,452.2 290.9,453.4" fill="#20b1fc" stroke="#20b1fc"/>
<polygon points="290.9,453.4 294.6,452.2 299.0,455.2 295.3,456.4" fill="#20a3fc" stroke="#20a3fc"/>
<polygon points="295.3,456.4 299.0,455.2 303.4,458.3 299.8,459.4" fill="#2095fc" stroke="#2095fc"/>
<polygon points="299.8,459.4 303.4,458.3 308.0,461.2 304.3,462.3" fill="#2087fc" stroke="#2087fc"/>
<polygon points="304.3,462.3 308.0,461.2 312.7,464.1 309.0,465.2" fill="#207afc" stroke="#207afc"/>
<polygon points="309.0,465.2 312.7,464.1 317.5,466.8 313.8,467.9" fill="#206dfc" stroke="#206dfc"/>
<polygon points="313.8,467.9 317.5,466.8 322.4,469.4 318.7,470.5" fill="#2062fc" stroke="#2062fc"/>
<polygon points="318.7,470.5 322.4,469.4 327.4,471.9 323.7,473.0" fill="#2057fc" stroke="#2057fc"/>
<polygon points="323.7,473.0 327.4,471.9 332.5,474.4 328.8,475.4" fill="#204cfc" stroke="#204cfc"/>
<polygon points="328.8,475.4 332.5,474.4 337.7,476.7 334.0,477.7" fill="#2043fc" stroke="#2043fc"/>
<polygon points="334.0,477.7 337.7,476.7 343.0,478.9 339.3,479.9" fill="#203afc" stroke="#203afc"/>
<polygon points="339.3,479.9 343.0,478.9 348.4,481.1 344.7,482.1" fill="#2032fc" stroke="#2032fc"/>
<polygon points="344.7,482.1 348.4,481.1 353.8,483.2 350.1,484.2" fill="#202bfc" stroke="#202bfc"/>
<polygon points="350.1,484.2 353.8,483.2 359.4,485.3 355.7,486.3" fill="#2023fc" stroke="#2023fc"/>
<polygon points="355.7,486.3 359.4,485.3 365.0,487.4 361.4,488.4" fill="#2020f8" stroke="#2020f8"/>
<polygon points="361.4,488.4 365.0,487.4 370.8,489.2 367.1,490.2" fill="#2020f2" stroke="#2020f2"/>
<polygon points="367.1,490.2 370.8,489.2 376.6,490.8 372.9,491.8" fill="#2020ee" stroke="#2020ee"/>
<polygon points="372.9,491.8 376.6,490.8 382.5,492.4 378.9,493.3" fill="#2020eb" stroke="#2020eb"/>
<polygon points="378.9,493.3 382.5,492.4 388.5,493.8 384.9,494.8" fill="#2020e8" stroke="#2020e8"/>
<polygon points="384.9,494.8 388.5,493.8 394.6,495.2 391.0,496.2" fill="#2020e6" stroke="#2020e6"/>
<polygon points="391.0,496.2 394.6,495.2 400.8,496.6 397.1,497.5" fill="#2020e4" stroke="#2020e4"/>
<polygon points="229.7,366.6 233.3,364.8 233.7,366.6 230.1,368.4" fill="#fc4820" stroke="#fc4820"/>
<polygon points="230.1,368.4 233.7,366.6 234.5,370.1 230.9,371.9" fill="#fc5c20" stroke="#fc5c20"/>
<polygon points="230.9,371.9 234.5,370.1 235.6,374.6 232.0,376.3" fill="#fc7920" stroke="#fc7920"/>
<polygon points="232.0,376.3 235.6,374.6 237.0,379.2 233.4,380.9" fill="#fc9920" stroke="#fc9920"/>
<polygon points="233.4,380.9 237.0,379.2 238.6,383.7 235.0,385.4" fill="#fcba20" stroke="#fcba20"/>
<polygon points="235.0,385.4 238.6,383.7 240.4,388.2 236.8,389.8" fill="#fcd920" stroke="#fcd920"/>
<polygon points="236.8,389.8 240.4,388.2 242.3,392.5 238.7,394.1" fill="#fcf820" stroke="#fcf820"/>
<polygon points="238.7,394.1 242.3,392.5 244.5,396.6 240.9,398.2" fill="#e5fc37" stroke="#e5fc37"/>
<polygon points="240.9,398.2 244.5,396.6 246.8,400.5 243.2,402.0" fill="#cefc4e" stroke="#cefc4e"/>
<polygon points="243.2,402.0 246.8,400.5 249.3,404.3 245.7,405.7" fill="#b8fc64" stroke="#b8fc64"/>
<polygon points="245.7,405.7 249.3,404.3 251.9,407.8 248.3,409.3" fill="#a4fc79" stroke="#a4fc79"/>
<polygon points="248.3,409.3 251.9,407.8 254.7,411.1 251.1,412.6" fill="#91fc8b" stroke="#91fc8b"/>
<polygon points="251.1,412.6 254.7,411.1 257.6,414.3 254.0,415.7" fill="#81fc9b" stroke="#81fc9b"/>
<polygon points="254.0,415.7 257.6,414.3 260.7,417.4 257.1,418.7" fill="#72fcaa" stroke="#72fcaa"/>
<polygon points="257.1,418.7 260.7,417.4 263.9,420.6 260.3,422.0" fill="#63fcb9" stroke="#63fcb9"/>
<polygon points="260.3,422.0 263.9,420.6 267.2,424.1 263.6,425.4" fill="#54fcc9" stroke="#54fcc9"/>
<polygon points="263.6,425.4 267.2,424.1 270.7,427.6 267.1,428.9" fill="#43fcd9" stroke="#43fcd9"/>
<polygon points="267.1,428.9 270.7,427.6 274.2,431.1 270.6,432.4" fill="#33fce9" stroke="#33fce9"/>
<polygon points="270.6,432.4 274.2,431.1 277.9,434.6 274.3,435.9" fill="#22fcfa" stroke="#22fcfa"/>
<polygon points="274.3,435.9 277.9,434.6 281.8,438.0 278.2,439.2" fill="#20eefc" stroke="#20eefc"/>
<polygon points="278.2,439.2 281.8,438.0 285.7,441.3 282.1,442.5" fill="#20dffc" stroke="#20dffc"/>
<polygon points="282.1,442.5 285.7,441.3 289.7,444.6 286.1,445.8" fill="#20d0fc" stroke="#20d0fc"/>
<polygon points="286.1,445.8 289.7,444.6 293.9,447.9 290.3,449.0" fill="#20c2fc" stroke="#20c2fc"/>
<polygon points="290.3,449.0 293.9,447.9 298.2,451.0 294.6,452.2" fill="#20b4fc" stroke="#20b4fc"/>
<polygon points="294.6,452.2 298.2,451.0 302.5,454.1 299.0,455.2" fill="#20a6fc" stroke="#20a6fc"/>
<polygon points="299.0,455.2 302.5,454.1 307.0,457.2 303.4,458.3" fill="#2098fc" stroke="#2098fc"/>
<polygon points="303.4,458.3 307.0,457.2 311.6,460.1 308.0,461.2" fill="#208afc" stroke="#208afc"/>
<polygon points="308.0,461.2 311.6,460.1 316.3,463.0 312.7,464.1" fill="#207cfc" stroke="#207cfc"/>
<polygon points="312.7,464.1 316.3,463.0 321.1,465.7 317.5,466.8" fill="#2070fc" stroke="#2070fc"/>
<polygon points="317.5,466.8 321.1,465.7 326.0,468.4 322.4,469.4" fill="#2064fc" stroke="#2064fc"/>
<polygon points="322.4,469.4 326.0,468.4 331.0,470.9 327.4,471.9" fill="#2059fc" stroke="#2059fc"/>
<polygon points="327.4,471.9 331.0,470.9 336.1,473.4 332.5,474.4" fill="#204ffc" stroke="#204ffc"/>
<polygon points="332.5,474.4 336.1,473.4 341.3,475.7 337.7,476.7" fill="#2045fc" stroke="#2045fc"/>
<polygon points="337.7,476.7 341.3,475.7 346.6,478.0 343.0,478.9" fill="#203cfc" stroke="#203cfc"/>
<polygon points="343.0,478.9 346.6,478.0 351.9,480.1 348.4,481.1" fill="#2034fc" stroke="#2034fc"/>
<polygon points="348.4,481.1 351.9,480.1 357.4,482.3 353.8,483.2" fill="#202dfc" stroke="#202dfc"/>
<polygon points="353.8,483.2 357.4,482.3 363.0,484.4 359.4,485.3" fill="#2025fc" stroke="#2025fc"/>
<polygon points="359.4,485.3 363.0,484.4 368.6,486.5 365.0,487.4" fill="#2020fa" stroke="#2020fa"/>
<polygon points="365.0,487.4 368.6,486.5 374.4,488.3 370.8,489.2" fill="#2020f4" stroke="#2020f4"/>
<polygon points="370.8,489.2 374.4,488.3 380.2,489.9 376.6,490.8" fill="#2020f0" stroke="#2020f0"/>
<polygon points="376.6,490.8 380.2,489.9 386.1,491.5 382.5,492.4" fill="#2020ec" stroke="#2020ec"/>
<polygon points="382.5,492.4 386.1,491.5 392.1,492.9 388.5,493.8" fill="#2020ea" stroke="#2020ea"/>
<polygon points="388.5,493.8 392.1,492.9 398.2,494.3 394.6,495.2" fill="#2020e7" stroke="#2020e7"/>
<polygon points="394.6,495.2 398.2,494.3 404.4,495.7 400.8,496.6" fill="#2020e6" stroke="#2020e6"/>
<polygon points="233.3,364.8 238.2,361.7 238.6,363.5 233.7,366.6" fill="#fb3c20" stroke="#fb3c20"/>
<polygon points="233.7,366.6 238.6,363.5 239.4,367.1 234.5,370.1" fill="#fb4f20" stroke="#fb4f20"/>
<polygon points="234.5,370.1 239.4,367.1 240.5,371.7 235.6,374.6" fill="#fb6c20" stroke="#fb6c20"/>
<polygon points="235.6,374.6 240.5,371.7 241.9,376.3 237.0,379.2" fill="#fb8d20" stroke="#fb8d20"/>
<polygon points="237.0,379.2 241.9,376.3 243.4,381.0 238.6,383.7" fill="#fbae20" stroke="#fbae20"/>
<polygon points="238.6,383.7 243.4,381.0 245.2,385.5 240.4,388.2" fill="#fbce20" stroke="#fbce20"/>
<polygon points="240.4,388.2 245.2,385.5 247.2,389.9 242.3,392.5" fill="#fbed20" stroke="#fbed20"/>
<polygon points="242.3,392.5 247.2,389.9 249.3,394.1 244.5,396.6" fill="#ecfb2f" stroke="#ecfb2f"/>
<polygon points="244.5,396.6 249.3,394.1 251.7,398.1 246.8,400.5" fill="#d5fb46" stroke="#d5fb46"/>
<polygon points="246.8,400.5 251.7,398.1 254.1,401.9 249.3,404.3" fill="#bffb5c" stroke="#bffb5c"/>
<polygon points="249.3,404.3 254.1,401.9 256.8,405.5 251.9,407.8" fill="#aafb71" stroke="#aafb71"/>
<polygon points="251.9,407.8 256.8,405.5 259.6,408.8 254.7,411.1" fill="#97fb84" stroke="#97fb84"/>
<polygon points="254.7,411.1 259.6,408.8 262.5,412.0 257.6,414.3" fill="#87fb94" stroke="#87fb94"/>
<polygon points="257.6,414.3 262.5,412.0 265.5,415.2 260.7,417.4" fill="#78fba3" stroke="#78fba3"/>
<polygon points="260.7,417.4 265.5,415.2 268.7,418.5 263.9,420.6" fill="#68fbb2" stroke="#68fbb2"/>
<polygon points="263.9,420.6 268.7,418.5 272.1,422.0 267.2,424.1" fill="#58fbc2" stroke="#58fbc2"/>
<polygon points="267.2,424.1 272.1,422.0 275.5,425.5 270.7,427.6" fill="#48fbd3" stroke="#48fbd3"/>
<polygon points="270.7,427.6 275.5,425.5 279.1,429.1 274.2,431.1" fill="#37fbe3" stroke="#37fbe3"/>
<polygon points="274.2,431.1 279.1,429.1 282.8,432.7 277.9,434.6" fill="#27fbf4" stroke="#27fbf4"/>
<polygon points="277.9,434.6 282.8,432.7 286.6,436.1 281.8,438.0" fill="#20f1fb" stroke="#20f1fb"/>
<polygon points="281.8,438.0 286.6,436.1 290.5,439.5 285.7,441.3" fill="#20e2fb" stroke="#20e2fb"/>
<polygon points="285.7,441.3 290.5,439.5 294.6,442.8 289.7,444.6" fill="#20d3fb" stroke="#20d3fb"/>
<polygon points="289.7,444.6 294.6,442.8 298.8,446.1 293.9,447.9" fill="#20c4fb" stroke="#20c4fb"/>
<polygon points="293.9,447.9 298.8,446.1 303.0,449.3 298.2,451.0" fill="#20b6fb" stroke="#20b6fb"/>
<polygon points="298.2,451.0 303.0,449.3 307.4,452.5 302.5,454.1" fill="#20a9fb" stroke="#20a9fb"/>
<polygon points="302.5,454.1 307.4,452.5 311.9,455.5 307.0,457.2" fill="#209bfb" stroke="#209bfb"/>
<polygon points="307.0,457.2 311.9,455.5 316.5,458.5 311.6,460.1" fill="#208dfb" stroke="#208dfb"/>
<polygon points="311.6,460.1 316.5,458.5 321.2,461.4 316.3,463.0" fill="#207ffb" stroke="#207ffb"/>
<polygon points="316.3,463.0 321.2,461.4 326.0,464.2 321.1,465.7" fill="#2072fb" stroke="#2072fb"/>
<polygon points="321.1,465.7 326.0,464.2 330.9,466.9 326.0,468.4" fill="#2067fb" stroke="#2067fb"/>
<polygon points="326.0,468.4 330.9,466.9 335.8,469.5 331.0,470.9" fill="#205bfb" stroke="#205bfb"/>
<polygon points="331.0,470.9 335.8,469.5 340.9,471.9 336.1,473.4" fill="#2051fb" stroke="#2051fb"/>
<polygon points="336.1,473.4 340.9,471.9 346.1,474.3 341.3,475.7" fill="#2047fb" stroke="#2047fb"/>
<polygon points="341.3,475.7 346.1,474.3 351.4,476.6 346.6,478.0" fill="#203efb" stroke="#203efb"/>
<polygon points="346.6,478.0 351.4,476.6 356.8,478.8 351.9,480.1" fill="#2036fb" stroke="#2036fb"/>
<polygon points="351.9,480.1 356.8,478.8 362.2,480.9 357.4,482.3" fill="#202ffb" stroke="#202ffb"/>
<polygon points="357.4,482.3 362.2,480.9 367.8,483.1 363.0,484.4" fill="#2027fb" stroke="#2027fb"/>
<polygon points="363.0,484.4 367.8,483.1 373.5,485.2 368.6,486.5" fill="#2020fb" stroke="#2020fb"/>
<polygon points="368.6,486.5 373.5,485.2 379.2,487.0 374.4,488.3" fill="#2020f5" stroke="#2020f5"/>
<polygon points="374.4,488.3 379.2,487.0 385.0,488.7 380.2,489.9" fill="#2020f0" stroke="#2020f0"/>
<polygon points="380.2,489.9 385.0,488.7 390.9,490.2 386.1,491.5" fill="#2020ed" stroke="#2020ed"/>
<polygon points="386.1,491.5 390.9,490.2 397.0,491.7 392.1,492.9" fill="#2020ea" stroke="#2020ea"/>
<polygon points="392.1,492.9 397.0,491.7 403.0,493.1 398.2,494.3" fill="#2020e8" stroke="#2020e8"/>
<polygon points="398.2,494.3 403.0,493.1 409.2,494.4 404.4,495.7" fill="#2020e6" stroke="#2020e6"/>
<polygon points="238.2,361.7 243.0,358.6 243.4,360.5 238.6,363.5" fill="#fb2b20" stroke="#fb2b20"/>
<polygon points="238.6,363.5 243.4,360.5 244.3,364.1 239.4,367.1" fill="#fb3f20" stroke="#fb3f20"/>
<polygon points="239.4,367.1 244.3,364.1 245.4,368.8 240.5,371.7" fill="#fb5d20" stroke="#fb5d20"/>
<polygon points="240.5,371.7 245.4,368.8 246.7,373.5 241.9,376.3" fill="#fb7e20" stroke="#fb7e20"/>
<polygon points="241.9,376.3 246.7,373.5 248.3,378.2 243.4,381.0" fill="#fba020" stroke="#fba020"/>
<polygon points="243.4,381.0 248.3,378.2 250.1,382.8 245.2,385.5" fill="#fbc120" stroke="#fbc120"/>
<polygon points="245.2,385.5 250.1,382.8 252.1,387.3 247.2,389.9" fill="#fbe020" stroke="#fbe020"/>
<polygon points="247.2,389.9 252.1,387.3 254.2,391.5 249.3,394.1" fill="#f7fb23" stroke="#f7fb23"/>
<polygon points="249.3,394.1 254.2,391.5 256.5,395.6 251.7,398.1" fill="#dffb3c" stroke="#dffb3c"/>
<polygon points="251.7,398.1 256.5,395.6 259.0,399.4 254.1,401.9" fill="#c8fb52" stroke="#c8fb52"/>
<polygon points="254.1,401.9 259.0,399.4 261.6,403.1 256.8,405.5" fill="#b3fb67" stroke="#b3fb67"/>
<polygon points="256.8,405.5 261.6,403.1 264.4,406.5 259.6,408.8" fill="#a0fb7b" stroke="#a0fb7b"/>
<polygon points="259.6,408.8 264.4,406.5 267.3,409.7 262.5,412.0" fill="#8efb8c" stroke="#8efb8c"/>
<polygon points="262.5,412.0 267.3,409.7 270.4,412.9 265.5,415.2" fill="#7ffb9c" stroke="#7ffb9c"/>
<polygon points="265.5,415.2 270.4,412.9 273.6,416.3 268.7,418.5" fill="#70fbab" stroke="#70fbab"/>
<polygon points="268.7,418.5 273.6,416.3 276.9,419.8 272.1,422.0" fill="#5ffbbb" stroke="#5ffbbb"/>
<polygon points="272.1,422.0 276.9,419.8 280.4,423.5 275.5,425.5" fill="#4ffbcc" stroke="#4ffbcc"/>
<polygon points="275.5,425.5 280.4,423.5 284.0,427.1 279.1,429.1" fill="#3efbdd" stroke="#3efbdd"/>
<polygon points="279.1,429.1 284.0,427.1 287.7,430.7 282.8,432.7" fill="#2dfbee" stroke="#2dfbee"/>
<polygon points="282.8,432.7 287.7,430.7 291.5,434.2 286.6,436.1" fill="#20f7fb" stroke="#20f7fb"/>
<polygon points="286.6,436.1 291.5,434.2 295.4,437.6 290.5,439.5" fill="#20e7fb" stroke="#20e7fb"/>
<polygon points="290.5,439.5 295.4,437.6 299.5,441.0 294.6,442.8" fill="#20d8fb" stroke="#20d8fb"/>
<polygon points="294.6,442.8 299.5,441.0 303.6,444.4 298.8,446.1" fill="#20c9fb" stroke="#20c9fb"/>
<polygon points="298.8,446.1 303.6,444.4 307.9,447.6 303.0,449.3" fill="#20bbfb" stroke="#20bbfb"/>
<polygon points="303.0,449.3 307.9,447.6 312.3,450.8 307.4,452.5" fill="#20adfb" stroke="#20adfb"/>
<polygon points="307.4,452.5 312.3,450.8 316.7,453.9 311.9,455.5" fill="#20a0fb" stroke="#20a0fb"/>
<polygon points="311.9,455.5 316.7,453.9 321.3,457.0 316.5,458.5" fill="#2091fb" stroke="#2091fb"/>
<polygon points="316.5,458.5 321.3,457.0 326.0,459.9 321.2,461.4" fill="#2083fb" stroke="#2083fb"/>
<polygon points="321.2,461.4 326.0,459.9 330.8,462.7 326.0,464.2" fill="#2076fb" stroke="#2076fb"/>
<polygon points="326.0,464.2 330.8,462.7 335.7,465.4 330.9,466.9" fill="#206afb" stroke="#206afb"/>
<polygon points="330.9,466.9 335.7,465.4 340.7,468.0 335.8,469.5" fill="#205ffb" stroke="#205ffb"/>
<polygon points="335.8,469.5 340.7,468.0 345.8,470.5 340.9,471.9" fill="#2054fb" stroke="#2054fb"/>
<polygon points="340.9,471.9 345.8,470.5 351.0,472.9 346.1,474.3" fill="#204afb" stroke="#204afb"/>
<polygon points="346.1,474.3 351.0,472.9 356.2,475.2 351.4,476.6" fill="#2041fb" stroke="#2041fb"/>
<polygon points="351.4,476.6 356.2,475.2 361.6,477.4 356.8,478.8" fill="#2039fb" stroke="#2039fb"/>
<polygon points="356.8,478.8 361.6,477.4 367.1,479.6 362.2,480.9" fill="#2031fb" stroke="#2031fb"/>
<polygon points="362.2,480.9 367.1,479.6 372.7,481.8 367.8,483.1" fill="#202afb" stroke="#202afb"/>
<polygon points="367.8,483.1 372.7,481.8 378.3,483.9 373.5,485.2" fill="#2022fb" stroke="#2022fb"/>
<polygon points="373.5,485.2 378.3,483.9 384.0,485.7 379.2,487.0" fill="#2020f7" stroke="#2020f7"/>
<polygon points="379.2,487.0 384.0,485.7 389.9,487.4 385.0,488.7" fill="#2020f2" stroke="#2020f2"/>
<polygon points="385.0,488.7 389.9,487.4 395.8,488.9 390.9,490.2" fill="#2020ef" stroke="#2020ef"/>
<polygon points="390.9,490.2 395.8,488.9 401.8,490.4 397.0,491.7" fill="#2020ec" stroke="#2020ec"/>
<polygon points="397.0,491.7 401.8,490.4 407.9,491.8 403.0,493.1" fill="#2020ea" stroke="#2020ea"/>
<polygon points="403.0,493.1 407.9,491.8 414.1,493.2 409.2,494.4" fill="#2020e8" stroke="#2020e8"/>
<polygon points="243.0,358.6 247.9,355.5 248.3,357.4 243.4,360.5" fill="#f62020" stroke="#f62020"/>
<polygon points="243.4,360.5 248.3,357.4 249.1,361.1 244.3,364.1" fill="#fb2f20" stroke="#fb2f20"/>
<polygon points="244.3,364.1 249.1,361.1 250.2,365.8 245.4,368.8" fill="#fb4e20" stroke="#fb4e20"/>
<polygon points="245.4,368.8 250.2,365.8 251.6,370.7 246.7,373.5" fill="#fb7020" stroke="#fb7020"/>
<polygon points="246.7,373.5 251.6,370.7 253.2,375.4 248.3,378.2" fill="#fb9220" stroke="#fb9220"/>
<polygon points="248.3,378.2 253.2,375.4 255.0,380.2 250.1,382.8" fill="#fbb320" stroke="#fbb320"/>
<polygon points="250.1,382.8 255.0,380.2 256.9,384.7 252.1,387.3" fill="#fbd320" stroke="#fbd320"/>
<polygon points="252.1,387.3 256.9,384.7 259.1,389.0 254.2,391.5" fill="#fbf220" stroke="#fbf220"/>
<polygon points="254.2,391.5 259.1,389.0 261.4,393.1 256.5,395.6" fill="#e9fb32" stroke="#e9fb32"/>
<polygon points="256.5,395.6 261.4,393.1 263.9,397.1 259.0,399.4" fill="#d2fb49" stroke="#d2fb49"/>
<polygon points="259.0,399.4 263.9,397.1 266.5,400.8 261.6,403.1" fill="#bdfb5e" stroke="#bdfb5e"/>
<polygon points="261.6,403.1 266.5,400.8 269.3,404.3 264.4,406.5" fill="#a9fb72" stroke="#a9fb72"/>
<polygon points="264.4,406.5 269.3,404.3 272.2,407.5 267.3,409.7" fill="#96fb84" stroke="#96fb84"/>
<polygon points="267.3,409.7 272.2,407.5 275.3,410.8 270.4,412.9" fill="#86fb94" stroke="#86fb94"/>
<polygon points="270.4,412.9 275.3,410.8 278.5,414.2 273.6,416.3" fill="#77fba4" stroke="#77fba4"/>
<polygon points="273.6,416.3 278.5,414.2 281.8,417.8 276.9,419.8" fill="#66fbb5" stroke="#66fbb5"/>
<polygon points="276.9,419.8 281.8,417.8 285.2,421.5 280.4,423.5" fill="#55fbc6" stroke="#55fbc6"/>
<polygon points="280.4,423.5 285.2,421.5 288.8,425.2 284.0,427.1" fill="#44fbd7" stroke="#44fbd7"/>
<polygon points="284.0,427.1 288.8,425.2 292.5,428.8 287.7,430.7" fill="#33fbe8" stroke="#33fbe8"/>
<polygon points="287.7,430.7 292.5,428.8 296.3,432.4 291.5,434.2" fill="#22fbf9" stroke="#22fbf9"/>
<polygon points="291.5,434.2 296.3,432.4 300.3,435.9 295.4,437.6" fill="#20edfb" stroke="#20edfb"/>
<polygon points="295.4,437.6 300.3,435.9 304.3,439.3 299.5,441.0" fill="#20ddfb" stroke="#20ddfb"/>
<polygon points="299.5,441.0 304.3,439.3 308.5,442.7 303.6,444.4" fill="#20cefb" stroke="#20cefb"/>
<polygon points="303.6,444.4 308.5,442.7 312.7,446.0 307.9,447.6" fill="#20bffb" stroke="#20bffb"/>
<polygon points="307.9,447.6 312.7,446.0 317.1,449.2 312.3,450.8" fill="#20b1fb" stroke="#20b1fb"/>
<polygon points="312.3,450.8 317.1,449.2 321.6,452.4 316.7,453.9" fill="#20a4fb" stroke="#20a4fb"/>
<polygon points="316.7,453.9 321.6,452.4 326.2,455.5 321.3,457.0" fill="#2095fb" stroke="#2095fb"/>
<polygon points="321.3,457.0 326.2,455.5 330.9,458.4 326.0,459.9" fill="#2087fb" stroke="#2087fb"/>
<polygon points="326.0,459.9 330.9,458.4 335.7,461.3 330.8,462.7" fill="#207afb" stroke="#207afb"/>
<polygon points="330.8,462.7 335.7,461.3 340.6,464.0 335.7,465.4" fill="#206efb" stroke="#206efb"/>
<polygon points="335.7,465.4 340.6,464.0 345.5,466.7 340.7,468.0" fill="#2062fb" stroke="#2062fb"/>
<polygon points="340.7,468.0 345.5,466.7 350.6,469.2 345.8,470.5" fill="#2057fb" stroke="#2057fb"/>
<polygon points="345.8,470.5 350.6,469.2 355.8,471.6 351.0,472.9" fill="#204dfb" stroke="#204dfb"/>
<polygon points="351.0,472.9 355.8,471.6 361.1,473.9 356.2,475.2" fill="#2044fb" stroke="#2044fb"/>
<polygon points="356.2,475.2 361.1,473.9 366.5,476.2 361.6,477.4" fill="#203cfb" stroke="#203cfb"/>
<polygon points="361.6,477.4 366.5,476.2 371.9,478.4 367.1,479.6" fill="#2034fb" stroke="#2034fb"/>
<polygon points="367.1,479.6 371.9,478.4 377.5,480.6 372.7,481.8" fill="#202cfb" stroke="#202cfb"/>
<polygon points="372.7,481.8 377.5,480.6 383.1,482.7 378.3,483.9" fill="#2025fb" stroke="#2025fb"/>
<polygon points="378.3,483.9 383.1,482.7 388.9,484.6 384.0,485.7" fill="#2020f9" stroke="#2020f9"/>
<polygon points="384.0,485.7 388.9,484.6 394.7,486.2 389.9,487.4" fill="#2020f4" stroke="#2020f4"/>
<polygon points="389.9,487.4 394.7,486.2 400.6,487.8 395.8,488.9" fill="#2020f1" stroke="#2020f1"/>
<polygon points="395.8,488.9 400.6,487.8 406.6,489.3 401.8,490.4" fill="#2020ee" stroke="#2020ee"/>
<polygon points="401.8,490.4 406.6,489.3 412.7,490.7 407.9,491.8" fill="#2020ec" stroke="#2020ec"/>
<polygon points="407.9,491.8 412.7,490.7 418.9,492.0 414.1,493.2" fill="#2020ea" stroke="#2020ea"/>
<polygon points="247.9,355.5 252.9,351.9 253.3,353.8 248.3,357.4" fill="#e32020" stroke="#e32020"/>
<polygon points="248.3,357.4 253.3,353.8 254.1,357.6 249.1,361.1" fill="#f72020" stroke="#f72020"/>
<polygon points="249.1,361.1 254.1,357.6 255.3,362.4 250.2,365.8" fill="#fa3c20" stroke="#fa3c20"/>
<polygon points="250.2,365.8 255.3,362.4 256.6,367.4 251.6,370.7" fill="#fa5f20" stroke="#fa5f20"/>
<polygon points="251.6,370.7 256.6,367.4 258.2,372.3 253.2,375.4" fill="#fa8220" stroke="#fa8220"/>
<polygon points="253.2,375.4 258.2,372.3 260.0,377.1 255.0,380.2" fill="#faa420" stroke="#faa420"/>
<polygon points="255.0,380.2 260.0,377.1 262.0,381.8 256.9,384.7" fill="#fac420" stroke="#fac420"/>
<polygon points="256.9,384.7 262.0,381.8 264.1,386.1 259.1,389.0" fill="#fae320" stroke="#fae320"/>
<polygon points="259.1,389.0 264.1,386.1 266.4,390.3 261.4,393.1" fill="#f4fa26" stroke="#f4fa26"/>
<polygon points="261.4,393.1 266.4,390.3 268.9,394.3 263.9,397.1" fill="#dcfa3e" stroke="#dcfa3e"/>
<polygon points="263.9,397.1 268.9,394.3 271.5,398.1 266.5,400.8" fill="#c6fa54" stroke="#c6fa54"/>
<polygon points="266.5,400.8 271.5,398.1 274.3,401.7 269.3,404.3" fill="#b2fa68" stroke="#b2fa68"/>
<polygon points="269.3,404.3 274.3,401.7 277.2,405.0 272.2,407.5" fill="#9ffa7b" stroke="#9ffa7b"/>
<polygon points="272.2,407.5 277.2,405.0 280.3,408.3 275.3,410.8" fill="#8efa8c" stroke="#8efa8c"/>
<polygon points="275.3,410.8 280.3,408.3 283.5,411.8 278.5,414.2" fill="#7efa9c" stroke="#7efa9c"/>
<polygon points="278.5,414.2 283.5,411.8 286.8,415.5 281.8,417.8" fill="#6dfaad" stroke="#6dfaad"/>
<polygon points="281.8,417.8 286.8,415.5 290.3,419.2 285.2,421.5" fill="#5cfabe" stroke="#5cfabe"/>
<polygon points="285.2,421.5 290.3,419.2 293.8,423.0 288.8,425.2" fill="#4afad0" stroke="#4afad0"/>
<polygon points="288.8,425.2 293.8,423.0 297.5,426.7 292.5,428.8" fill="#39fae1" stroke="#39fae1"/>
<polygon points="292.5,428.8 297.5,426.7 301.4,430.4 296.3,432.4" fill="#28faf2" stroke="#28faf2"/>
<polygon points="296.3,432.4 301.4,430.4 305.3,433.9 300.3,435.9" fill="#20f1fa" stroke="#20f1fa"/>
<polygon points="300.3,435.9 305.3,433.9 309.3,437.4 304.3,439.3" fill="#20e1fa" stroke="#20e1fa"/>
<polygon points="304.3,439.3 309.3,437.4 313.5,440.9 308.5,442.7" fill="#20d2fa" stroke="#20d2fa"/>
<polygon points="308.5,442.7 313.5,440.9 317.8,444.2 312.7,446.0" fill="#20c3fa" stroke="#20c3fa"/>
<polygon points="312.7,446.0 317.8,444.2 322.1,447.5 317.1,449.2" fill="#20b5fa" stroke="#20b5fa"/>
<polygon points="317.1,449.2 322.1,447.5 326.6,450.7 321.6,452.4" fill="#20a7fa" stroke="#20a7fa"/>
<polygon points="321.6,452.4 326.6,450.7 331.2,453.9 326.2,455.5" fill="#2099fa" stroke="#2099fa"/>
<polygon points="326.2,455.5 331.2,453.9 335.9,456.9 330.9,458.4" fill="#208bfa" stroke="#208bfa"/>
<polygon points="330.9,458.4 335.9,456.9 340.7,459.8 335.7,461.3" fill="#207dfa" stroke="#207dfa"/>
<polygon points="335.7,461.3 340.7,459.8 345.6,462.6 340.6,464.0" fill="#2071fa" stroke="#2071fa"/>
<polygon points="340.6,464.0 345.6,462.6 350.6,465.2 345.5,466.7" fill="#2065fa" stroke="#2065fa"/>
<polygon points="345.5,466.7 350.6,465.2 355.6,467.8 350.6,469.2" fill="#205afa" stroke="#205afa"/>
<polygon points="350.6,469.2 355.6,467.8 360.8,470.3 355.8,471.6" fill="#2050fa" stroke="#2050fa"/>
<polygon points="355.8,471.6 360.8,470.3 366.1,472.6 361.1,473.9" fill="#2046fa" stroke="#2046fa"/>
<polygon points="361.1,473.9 366.1,472.6 371.5,474.9 366.5,476.2" fill="#203efa" stroke="#203efa"/>
<polygon points="366.5,476.2 371.5,474.9 376.9,477.1 371.9,478.4" fill="#2035fa" stroke="#2035fa"/>
<polygon points="371.9,478.4 376.9,477.1 382.5,479.3 377.5,480.6" fill="#202efa" stroke="#202efa"/>
<polygon points="377.5,480.6 382.5,479.3 388.1,481.5 383.1,482.7" fill="#2026fa" stroke="#2026fa"/>
<polygon points="383.1,482.7 388.1,481.5 393.9,483.4 388.9,484.6" fill="#2020fa" stroke="#2020fa"/>
<polygon points="388.9,484.6 393.9,483.4 399.7,485.1 394.7,486.2" fill="#2020f5" stroke="#2020f5"/>
<polygon points="394.7,486.2 399.7,485.1 405.6,486.6 400.6,487.8" fill="#2020f2" stroke="#2020f2"/>
<polygon points="400.6,487.8 405.6,486.6 411.6,488.1 406.6,489.3" fill="#2020ef" stroke="#2020ef"/>
<polygon points="406.6,489.3 411.6,488.1 417.7,489.6 412.7,490.7" fill="#2020ec" stroke="#2020ec"/>
<polygon points="412.7,490.7 417.7,489.6 423.9,490.9 418.9,492.0" fill="#2020eb" stroke="#2020eb"/>
<polygon points="252.9,351.9 258.0,348.2 258.4,350.2 253.3,353.8" fill="#cf2020" stroke="#cf2020"/>
<polygon points="253.3,353.8 258.4,350.2 259.2,354.1 254.1,357.6" fill="#e42020" stroke="#e42020"/>
<polygon points="254.1,357.6 259.2,354.1 260.3,359.0 255.3,362.4" fill="#fa2a20" stroke="#fa2a20"/>
<polygon points="255.3,362.4 260.3,359.0 261.7,364.1 256.6,367.4" fill="#fa4d20" stroke="#fa4d20"/>
<polygon points="256.6,367.4 261.7,364.1 263.2,369.1 258.2,372.3" fill="#fa7120" stroke="#fa7120"/>
<polygon points="258.2,372.3 263.2,369.1 265.0,374.0 260.0,377.1" fill="#fa9320" stroke="#fa9320"/>
<polygon points="260.0,377.1 265.0,374.0 267.0,378.8 262.0,381.8" fill="#fab520" stroke="#fab520"/>
<polygon points="262.0,381.8 267.0,378.8 269.1,383.3 264.1,386.1" fill="#fad420" stroke="#fad420"/>
<polygon points="264.1,386.1 269.1,383.3 271.5,387.6 266.4,390.3" fill="#faf220" stroke="#faf220"/>
<polygon points="266.4,390.3 271.5,387.6 273.9,391.6 268.9,394.3" fill="#e7fa32" stroke="#e7fa32"/>
<polygon points="268.9,394.3 273.9,391.6 276.6,395.5 271.5,398.1" fill="#d1fa49" stroke="#d1fa49"/>
<polygon points="271.5,398.1 276.6,395.5 279.3,399.1 274.3,401.7" fill="#bcfa5d" stroke="#bcfa5d"/>
<polygon points="274.3,401.7 279.3,399.1 282.3,402.5 277.2,405.0" fill="#a9fa71" stroke="#a9fa71"/>
<polygon points="277.2,405.0 282.3,402.5 285.3,405.9 280.3,408.3" fill="#97fa83" stroke="#97fa83"/>
<polygon points="280.3,408.3 285.3,405.9 288.5,409.5 283.5,411.8" fill="#86fa94" stroke="#86fa94"/>
<polygon points="283.5,411.8 288.5,409.5 291.8,413.2 286.8,415.5" fill="#75faa5" stroke="#75faa5"/>
<polygon points="286.8,415.5 291.8,413.2 295.3,417.0 290.3,419.2" fill="#63fab7" stroke="#63fab7"/>
<polygon points="290.3,419.2 295.3,417.0 298.9,420.9 293.8,423.0" fill="#51fac9" stroke="#51fac9"/>
<polygon points="293.8,423.0 298.9,420.9 302.6,424.7 297.5,426.7" fill="#3ffadb" stroke="#3ffadb"/>
<polygon points="297.5,426.7 302.6,424.7 306.4,428.4 301.4,430.4" fill="#2efaec" stroke="#2efaec"/>
<polygon points="301.4,430.4 306.4,428.4 310.3,432.0 305.3,433.9" fill="#20f7fa" stroke="#20f7fa"/>
<polygon points="305.3,433.9 310.3,432.0 314.4,435.5 309.3,437.4" fill="#20e7fa" stroke="#20e7fa"/>
<polygon points="309.3,437.4 314.4,435.5 318.5,439.0 313.5,440.9" fill="#20d7fa" stroke="#20d7fa"/>
<polygon points="313.5,440.9 318.5,439.0 322.8,442.5 317.8,444.2" fill="#20c8fa" stroke="#20c8fa"/>
<polygon points="317.8,444.2 322.8,442.5 327.1,445.8 322.1,447.5" fill="#20b9fa" stroke="#20b9fa"/>
<polygon points="322.1,447.5 327.1,445.8 331.6,449.1 326.6,450.7" fill="#20abfa" stroke="#20abfa"/>
<polygon points="326.6,450.7 331.6,449.1 336.2,452.3 331.2,453.9" fill="#209dfa" stroke="#209dfa"/>
<polygon points="331.2,453.9 336.2,452.3 340.9,455.3 335.9,456.9" fill="#208ffa" stroke="#208ffa"/>
<polygon points="335.9,456.9 340.9,455.3 345.7,458.3 340.7,459.8" fill="#2081fa" stroke="#2081fa"/>
<polygon points="340.7,459.8 345.7,458.3 350.6,461.1 345.6,462.6" fill="#2074fa" stroke="#2074fa"/>
<polygon points="345.6,462.6 350.6,461.1 355.6,463.8 350.6,465.2" fill="#2068fa" stroke="#2068fa"/>
<polygon points="350.6,465.2 355.6,463.8 360.7,466.4 355.6,467.8" fill="#205cfa" stroke="#205cfa"/>
<polygon points="355.6,467.8 360.7,466.4 365.8,468.9 360.8,470.3" fill="#2052fa" stroke="#2052fa"/>
<polygon points="360.8,470.3 365.8,468.9 371.1,471.3 366.1,472.6" fill="#2049fa" stroke="#2049fa"/>
<polygon points="366.1,472.6 371.1,471.3 376.5,473.6 371.5,474.9" fill="#2040fa" stroke="#2040fa"/>
<polygon points="371.5,474.9 376.5,473.6 382.0,475.9 376.9,477.1" fill="#2037fa" stroke="#2037fa"/>
<polygon points="376.9,477.1 382.0,475.9 387.5,478.1 382.5,479.3" fill="#202ffa" stroke="#202ffa"/>
<polygon points="382.5,479.3 387.5,478.1 393.2,480.3 388.1,481.5" fill="#2028fa" stroke="#2028fa"/>
<polygon points="388.1,481.5 393.2,480.3 398.9,482.2 393.9,483.4" fill="#2021fa" stroke="#2021fa"/>
<polygon points="393.9,483.4 398.9,482.2 404.7,483.9 399.7,485.1" fill="#2020f6" stroke="#2020f6"/>
<polygon points="399.7,485.1 404.7,483.9 410.6,485.5 405.6,486.6" fill="#2020f3" stroke="#2020f3"/>
<polygon points="405.6,486.6 410.6,485.5 416.6,487.0 411.6,488.1" fill="#2020f0" stroke="#2020f0"/>
<polygon points="411.6,488.1 416.6,487.0 422.7,488.4 417.7,489.6" fill="#2020ee" stroke="#2020ee"/>
<polygon points="417.7,489.6 422.7,488.4 428.9,489.8 423.9,490.9" fill="#2020ec" stroke="#2020ec"/>
<polygon points="258.0,348.2 263.0,344.6 263.4,346.6 258.4,350.2" fill="#bb2020" stroke="#bb2020"/>
<polygon points="258.4,350.2 263.4,346.6 264.2,350.6 259.2,354.1" fill="#d12020" stroke="#d12020"/>
<polygon points="259.2,354.1 264.2,350.6 265.3,355.6 260.3,359.0" fill="#f12020" stroke="#f12020"/>
<polygon points="260.3,359.0 265.3,355.6 266.7,360.8 261.7,364.1" fill="#fa3b20" stroke="#fa3b20"/>
<polygon points="261.7,364.1 266.7,360.8 268.3,365.9 263.2,369.1" fill="#fa5f20" stroke="#fa5f20"/>
<polygon points="263.2,369.1 268.3,365.9 270.1,371.0 265.0,374.0" fill="#fa8320" stroke="#fa8320"/>
<polygon points="265.0,374.0 270.1,371.0 272.0,375.8 267.0,378.8" fill="#faa520" stroke="#faa520"/>
<polygon points="267.0,378.8 272.0,375.8 274.2,380.4 269.1,383.3" fill="#fac620" stroke="#fac620"/>
<polygon points="269.1,383.3 274.2,380.4 276.5,384.8 271.5,387.6" fill="#fae420" stroke="#fae420"/>
<polygon points="271.5,387.6 276.5,384.8 279.0,388.9 273.9,391.6" fill="#f3fa27" stroke="#f3fa27"/>
<polygon points="273.9,391.6 279.0,388.9 281.6,392.9 276.6,395.5" fill="#dcfa3e" stroke="#dcfa3e"/>
<polygon points="276.6,395.5 281.6,392.9 284.4,396.6 279.3,399.1" fill="#c7fa53" stroke="#c7fa53"/>
<polygon points="279.3,399.1 284.4,396.6 287.3,400.0 282.3,402.5" fill="#b3fa66" stroke="#b3fa66"/>
<polygon points="282.3,402.5 287.3,400.0 290.4,403.5 285.3,405.9" fill="#a1fa79" stroke="#a1fa79"/>
<polygon points="285.3,405.9 290.4,403.5 293.5,407.1 288.5,409.5" fill="#8efa8b" stroke="#8efa8b"/>
<polygon points="288.5,409.5 293.5,407.1 296.9,410.9 291.8,413.2" fill="#7dfa9d" stroke="#7dfa9d"/>
<polygon points="291.8,413.2 296.9,410.9 300.3,414.8 295.3,417.0" fill="#6afaaf" stroke="#6afaaf"/>
<polygon points="295.3,417.0 300.3,414.8 303.9,418.7 298.9,420.9" fill="#58fac2" stroke="#58fac2"/>
<polygon points="298.9,420.9 303.9,418.7 307.6,422.6 302.6,424.7" fill="#46fad4" stroke="#46fad4"/>
<polygon points="302.6,424.7 307.6,422.6 311.4,426.3 306.4,428.4" fill="#34fae6" stroke="#34fae6"/>
<polygon points="306.4,428.4 311.4,426.3 315.3,430.0 310.3,432.0" fill="#23faf7" stroke="#23faf7"/>
<polygon points="310.3,432.0 315.3,430.0 319.4,433.7 314.4,435.5" fill="#20ecfa" stroke="#20ecfa"/>
<polygon points="314.4,435.5 319.4,433.7 323.5,437.2 318.5,439.0" fill="#20dcfa" stroke="#20dcfa"/>
<polygon points="318.5,439.0 323.5,437.2 327.8,440.7 322.8,442.5" fill="#20cdfa" stroke="#20cdfa"/>
<polygon points="322.8,442.5 327.8,440.7 332.2,444.1 327.1,445.8" fill="#20befa" stroke="#20befa"/>
<polygon points="327.1,445.8 332.2,444.1 336.6,447.4 331.6,449.1" fill="#20affa" stroke="#20affa"/>
<polygon points="331.6,449.1 336.6,447.4 341.2,450.7 336.2,452.3" fill="#20a1fa" stroke="#20a1fa"/>
<polygon points="336.2,452.3 341.2,450.7 345.9,453.8 340.9,455.3" fill="#2092fa" stroke="#2092fa"/>
<polygon points="340.9,455.3 345.9,453.8 350.7,456.8 345.7,458.3" fill="#2084fa" stroke="#2084fa"/>
<polygon points="345.7,458.3 350.7,456.8 355.6,459.7 350.6,461.1" fill="#2077fa" stroke="#2077fa"/>
<polygon points="350.6,461.1 355.6,459.7 360.6,462.4 355.6,463.8" fill="#206bfa" stroke="#206bfa"/>
<polygon points="355.6,463.8 360.6,462.4 365.7,465.1 360.7,466.4" fill="#205ffa" stroke="#205ffa"/>
<polygon points="360.7,466.4 365.7,465.1 370.9,467.6 365.8,468.9" fill="#2055fa" stroke="#2055fa"/>
<polygon points="365.8,468.9 370.9,467.6 376.1,470.0 371.1,471.3" fill="#204bfa" stroke="#204bfa"/>
<polygon points="371.1,471.3 376.1,470.0 381.5,472.4 376.5,473.6" fill="#2042fa" stroke="#2042fa"/>
<polygon points="376.5,473.6 381.5,472.4 387.0,474.6 382.0,475.9" fill="#2039fa" stroke="#2039fa"/>
<polygon points="382.0,475.9 387.0,474.6 392.5,476.9 387.5,478.1" fill="#2031fa" stroke="#2031fa"/>
<polygon points="387.5,478.1 392.5,476.9 398.2,479.1 393.2,480.3" fill="#2029fa" stroke="#2029fa"/>
<polygon points="393.2,480.3 398.2,479.1 403.9,481.1 398.9,482.2" fill="#2023fa" stroke="#2023fa"/>
<polygon points="398.9,482.2 403.9,481.1 409.7,482.8 404.7,483.9" fill="#2020f8" stroke="#2020f8"/>
<polygon points="404.7,483.9 409.7,482.8 415.6,484.3 410.6,485.5" fill="#2020f4" stroke="#2020f4"/>
<polygon points="410.6,485.5 415.6,484.3 421.6,485.9 416.6,487.0" fill="#2020f1" stroke="#2020f1"/>
<polygon points="416.6,487.0 421.6,485.9 427.7,487.3 422.7,488.4" fill="#2020ef" stroke="#2020ef"/>
<polygon points="422.7,488.4 427.7,487.3 433.9,488.7 428.9,489.8" fill="#2020ed" stroke="#2020ed"/>
<polygon points="263.0,344.6 267.9,342.8 268.3,344.8 263.4,346.6" fill="#b02020" stroke="#b02020"/>
<polygon points="263.4,346.6 268.3,344.8 269.1,348.8 264.2,350.6" fill="#c62020" stroke="#c62020"/>
<polygon points="264.2,350.6 269.1,348.8 270.2,353.9 265.3,355.6" fill="#e72020" stroke="#e72020"/>
<polygon points="265.3,355.6 270.2,353.9 271.6,359.1 266.7,360.8" fill="#fd3020" stroke="#fd3020"/>
<polygon points="266.7,360.8 271.6,359.1 273.2,364.2 268.3,365.9" fill="#fd5520" stroke="#fd5520"/>
<polygon points="268.3,365.9 273.2,364.2 274.9,369.3 270.1,371.0" fill="#fd7a20" stroke="#fd7a20"/>
<polygon points="270.1,371.0 274.9,369.3 276.9,374.2 272.0,375.8" fill="#fd9d20" stroke="#fd9d20"/>
<polygon points="272.0,375.8 276.9,374.2 279.1,378.8 274.2,380.4" fill="#fdbe20" stroke="#fdbe20"/>
<polygon points="274.2,380.4 279.1,378.8 281.4,383.2 276.5,384.8" fill="#fddd20" stroke="#fddd20"/>
<polygon points="276.5,384.8 281.4,383.2 283.9,387.4 279.0,388.9" fill="#fdfb20" stroke="#fdfb20"/>
<polygon points="279.0,388.9 283.9,387.4 286.5,391.4 281.6,392.9" fill="#e6fd37" stroke="#e6fd37"/>
<polygon points="281.6,392.9 286.5,391.4 289.3,395.1 284.4,396.6" fill="#d1fd4d" stroke="#d1fd4d"/>
<polygon points="284.4,396.6 289.3,395.1 292.2,398.6 287.3,400.0" fill="#bdfd61" stroke="#bdfd61"/>
<polygon points="287.3,400.0 292.2,398.6 295.2,402.0 290.4,403.5" fill="#aafd74" stroke="#aafd74"/>
<polygon points="290.4,403.5 295.2,402.0 298.4,405.7 293.5,407.1" fill="#96fd87" stroke="#96fd87"/>
<polygon points="293.5,407.1 298.4,405.7 301.8,409.5 296.9,410.9" fill="#84fd9a" stroke="#84fd9a"/>
<polygon points="296.9,410.9 301.8,409.5 305.2,413.4 300.3,414.8" fill="#71fdad" stroke="#71fdad"/>
<polygon points="300.3,414.8 305.2,413.4 308.8,417.3 303.9,418.7" fill="#5efdbf" stroke="#5efdbf"/>
<polygon points="303.9,418.7 308.8,417.3 312.5,421.2 307.6,422.6" fill="#4bfdd2" stroke="#4bfdd2"/>
<polygon points="307.6,422.6 312.5,421.2 316.3,425.0 311.4,426.3" fill="#39fde4" stroke="#39fde4"/>
<polygon points="311.4,426.3 316.3,425.0 320.2,428.7 315.3,430.0" fill="#27fdf6" stroke="#27fdf6"/>
<polygon points="315.3,430.0 320.2,428.7 324.3,432.3 319.4,433.7" fill="#20f3fd" stroke="#20f3fd"/>
<polygon points="319.4,433.7 324.3,432.3 328.4,435.9 323.5,437.2" fill="#20e3fd" stroke="#20e3fd"/>
<polygon points="323.5,437.2 328.4,435.9 332.7,439.4 327.8,440.7" fill="#20d3fd" stroke="#20d3fd"/>
<polygon points="327.8,440.7 332.7,439.4 337.1,442.8 332.2,444.1" fill="#20c3fd" stroke="#20c3fd"/>
<polygon points="332.2,444.1 337.1,442.8 341.5,446.2 336.6,447.4" fill="#20b4fd" stroke="#20b4fd"/>
<polygon points="336.6,447.4 341.5,446.2 346.1,449.5 341.2,450.7" fill="#20a6fd" stroke="#20a6fd"/>
<polygon points="341.2,450.7 346.1,449.5 350.8,452.6 345.9,453.8" fill="#2097fd" stroke="#2097fd"/>
<polygon points="345.9,453.8 350.8,452.6 355.6,455.6 350.7,456.8" fill="#2089fd" stroke="#2089fd"/>
<polygon points="350.7,456.8 355.6,455.6 360.5,458.5 355.6,459.7" fill="#207bfd" stroke="#207bfd"/>
<polygon points="355.6,459.7 360.5,458.5 365.5,461.3 360.6,462.4" fill="#206ffd" stroke="#206ffd"/>
<polygon points="360.6,462.4 365.5,461.3 370.6,463.9 365.7,465.1" fill="#2063fd" stroke="#2063fd"/>
<polygon points="365.7,465.1 370.6,463.9 375.7,466.4 370.9,467.6" fill="#2058fd" stroke="#2058fd"/>
<polygon points="370.9,467.6 375.7,466.4 381.0,468.9 376.1,470.0" fill="#204efd" stroke="#204efd"/>
<polygon points="376.1,470.0 381.0,468.9 386.4,471.2 381.5,472.4" fill="#2044fd" stroke="#2044fd"/>
<polygon points="381.5,472.4 386.4,471.2 391.8,473.5 387.0,474.6" fill="#203cfd" stroke="#203cfd"/>
<polygon points="387.0,474.6 391.8,473.5 397.4,475.8 392.5,476.9" fill="#2033fd" stroke="#2033fd"/>
<polygon points="392.5,476.9 397.4,475.8 403.0,478.0 398.2,479.1" fill="#202bfd" stroke="#202bfd"/>
<polygon points="398.2,479.1 403.0,478.0 408.8,479.9 403.9,481.1" fill="#2024fd" stroke="#2024fd"/>
<polygon points="403.9,481.1 408.8,479.9 414.6,481.6 409.7,482.8" fill="#2020fc" stroke="#2020fc"/>
<polygon points="409.7,482.8 414.6,481.6 420.5,483.2 415.6,484.3" fill="#2020f8" stroke="#2020f8"/>
<polygon points="415.6,484.3 420.5,483.2 426.5,484.8 421.6,485.9" fill="#2020f5" stroke="#2020f5"/>
<polygon points="421.6,485.9 426.5,484.8 432.6,486.2 427.7,487.3" fill="#2020f3" stroke="#2020f3"/>
<polygon points="427.7,487.3 432.6,486.2 438.8,487.6 433.9,488.7" fill="#2020f1" stroke="#2020f1"/>
<polygon points="267.9,342.8 272.8,341.0 273.2,343.0 268.3,344.8" fill="#a92020" stroke="#a92020"/>
<polygon points="268.3,344.8 273.2,343.0 274.0,347.1 269.1,348.8" fill="#c02020" stroke="#c02020"/>
<polygon points="269.1,348.8 274.0,347.1 275.1,352.2 270.2,353.9" fill="#e12020" stroke="#e12020"/>
<polygon points="270.2,353.9 275.1,352.2 276.5,357.4 271.6,359.1" fill="#fd2a20" stroke="#fd2a20"/>
<polygon points="271.6,359.1 276.5,357.4 278.1,362.6 273.2,364.2" fill="#fd4f20" stroke="#fd4f20"/>
<polygon points="273.2,364.2 278.1,362.6 279.8,367.7 274.9,369.3" fill="#fd7420" stroke="#fd7420"/>
<polygon points="274.9,369.3 279.8,367.7 281.8,372.6 276.9,374.2" fill="#fd9820" stroke="#fd9820"/>
<polygon points="276.9,374.2 281.8,372.6 284.0,377.2 279.1,378.8" fill="#fdb920" stroke="#fdb920"/>
<polygon points="279.1,378.8 284.0,377.2 286.3,381.6 281.4,383.2" fill="#fdd920" stroke="#fdd920"/>
<polygon points="281.4,383.2 286.3,381.6 288.8,385.8 283.9,387.4" fill="#fdf620" stroke="#fdf620"/>
<polygon points="283.9,387.4 288.8,385.8 291.4,389.8 286.5,391.4" fill="#eafd33" stroke="#eafd33"/>
<polygon points="286.5,391.4 291.4,389.8 294.2,393.6 289.3,395.1" fill="#d4fd49" stroke="#d4fd49"/>
<polygon points="289.3,395.1 294.2,393.6 297.1,397.1 292.2,398.6" fill="#c0fd5d" stroke="#c0fd5d"/>
<polygon points="292.2,398.6 297.1,397.1 300.1,400.5 295.2,402.0" fill="#adfd70" stroke="#adfd70"/>
<polygon points="295.2,402.0 300.1,400.5 303.3,404.2 298.4,405.7" fill="#9afd84" stroke="#9afd84"/>
<polygon points="298.4,405.7 303.3,404.2 306.7,408.1 301.8,409.5" fill="#87fd97" stroke="#87fd97"/>
<polygon points="301.8,409.5 306.7,408.1 310.1,412.0 305.2,413.4" fill="#74fdaa" stroke="#74fdaa"/>
<polygon points="305.2,413.4 310.1,412.0 313.7,415.9 308.8,417.3" fill="#61fdbd" stroke="#61fdbd"/>
<polygon points="308.8,417.3 313.7,415.9 317.4,419.9 312.5,421.2" fill="#4efdd0" stroke="#4efdd0"/>
<polygon points="312.5,421.2 317.4,419.9 321.2,423.7 316.3,425.0" fill="#3bfde2" stroke="#3bfde2"/>
<polygon points="316.3,425.0 321.2,423.7 325.1,427.4 320.2,428.7" fill="#2afdf4" stroke="#2afdf4"/>
<polygon points="320.2,428.7 325.1,427.4 329.2,431.0 324.3,432.3" fill="#20f5fd" stroke="#20f5fd"/>
<polygon points="324.3,432.3 329.2,431.0 333.3,434.6 328.4,435.9" fill="#20e5fd" stroke="#20e5fd"/>
<polygon points="328.4,435.9 333.3,434.6 337.6,438.1 332.7,439.4" fill="#20d5fd" stroke="#20d5fd"/>
<polygon points="332.7,439.4 337.6,438.1 341.9,441.6 337.1,442.8" fill="#20c5fd" stroke="#20c5fd"/>
<polygon points="337.1,442.8 341.9,441.6 346.4,444.9 341.5,446.2" fill="#20b6fd" stroke="#20b6fd"/>
<polygon points="341.5,446.2 346.4,444.9 351.0,448.2 346.1,449.5" fill="#20a8fd" stroke="#20a8fd"/>
<polygon points="346.1,449.5 351.0,448.2 355.7,451.4 350.8,452.6" fill="#2099fd" stroke="#2099fd"/>
<polygon points="350.8,452.6 355.7,451.4 360.5,454.4 355.6,455.6" fill="#208bfd" stroke="#208bfd"/>
<polygon points="355.6,455.6 360.5,454.4 365.4,457.3 360.5,458.5" fill="#207dfd" stroke="#207dfd"/>
<polygon points="360.5,458.5 365.4,457.3 370.3,460.1 365.5,461.3" fill="#2070fd" stroke="#2070fd"/>
<polygon points="365.5,461.3 370.3,460.1 375.4,462.8 370.6,463.9" fill="#2064fd" stroke="#2064fd"/>
<polygon points="370.6,463.9 375.4,462.8 380.6,465.3 375.7,466.4" fill="#2059fd" stroke="#2059fd"/>
<polygon points="375.7,466.4 380.6,465.3 385.9,467.7 381.0,468.9" fill="#204ffd" stroke="#204ffd"/>
<polygon points="381.0,468.9 385.9,467.7 391.3,470.1 386.4,471.2" fill="#2046fd" stroke="#2046fd"/>
<polygon points="386.4,471.2 391.3,470.1 396.7,472.4 391.8,473.5" fill="#203dfd" stroke="#203dfd"/>
<polygon points="391.8,473.5 396.7,472.4 402.3,474.7 397.4,475.8" fill="#2034fd" stroke="#2034fd"/>
<polygon points="397.4,475.8 402.3,474.7 407.9,476.9 403.0,478.0" fill="#202cfd" stroke="#202cfd"/>
<polygon points="403.0,478.0 407.9,476.9 413.6,478.8 408.8,479.9" fill="#2025fd" stroke="#2025fd"/>
<polygon points="408.8,479.9 413.6,478.8 419.5,480.5 414.6,481.6" fill="#2020fd" stroke="#2020fd"/>
<polygon points="414.6,481.6 419.5,480.5 425.4,482.1 420.5,483.2" fill="#2020f9" stroke="#2020f9"/>
<polygon points="420.5,483.2 425.4,482.1 431.4,483.7 426.5,484.8" fill="#2020f6" stroke="#2020f6"/>
<polygon points="426.5,484.8 431.4,483.7 437.5,485.1 432.6,486.2" fill="#2020f4" stroke="#2020f4"/>
<polygon points="432.6,486.2 437.5,485.1 443.6,486.5 438.8,487.6" fill="#2020f2" stroke="#2020f2"/>
<polygon points="272.8,341.0 277.7,339.2 278.1,341.3 273.2,343.0" fill="#a32020" stroke="#a32020"/>
<polygon points="273.2,343.0 278.1,341.3 278.9,345.3 274.0,347.1" fill="#b92020" stroke="#b92020"/>
<polygon points="274.0,347.1 278.9,345.3 280.0,350.4 275.1,352.2" fill="#db2020" stroke="#db2020"/>
<polygon points="275.1,352.2 280.0,350.4 281.4,355.7 276.5,357.4" fill="#fd2420" stroke="#fd2420"/>
<polygon points="276.5,357.4 281.4,355.7 283.0,360.9 278.1,362.6" fill="#fd4a20" stroke="#fd4a20"/>
<polygon points="278.1,362.6 283.0,360.9 284.7,366.0 279.8,367.7" fill="#fd6f20" stroke="#fd6f20"/>
<polygon points="279.8,367.7 284.7,366.0 286.7,371.0 281.8,372.6" fill="#fd9220" stroke="#fd9220"/>
<polygon points="281.8,372.6 286.7,371.0 288.9,375.6 284.0,377.2" fill="#fdb420" stroke="#fdb420"/>
<polygon points="284.0,377.2 288.9,375.6 291.2,380.1 286.3,381.6" fill="#fdd420" stroke="#fdd420"/>
<polygon points="286.3,381.6 291.2,380.1 293.7,384.3 288.8,385.8" fill="#fdf120" stroke="#fdf120"/>
<polygon points="288.8,385.8 293.7,384.3 296.3,388.3 291.4,389.8" fill="#eefd2f" stroke="#eefd2f"/>
<polygon points="291.4,389.8 296.3,388.3 299.1,392.1 294.2,393.6" fill="#d8fd45" stroke="#d8fd45"/>
<polygon points="294.2,393.6 299.1,392.1 302.0,395.6 297.1,397.1" fill="#c4fd5a" stroke="#c4fd5a"/>
<polygon points="297.1,397.1 302.0,395.6 305.0,399.1 300.1,400.5" fill="#b1fd6d" stroke="#b1fd6d"/>
<polygon points="300.1,400.5 305.0,399.1 308.2,402.8 303.3,404.2" fill="#9dfd81" stroke="#9dfd81"/>
<polygon points="303.3,404.2 308.2,402.8 311.5,406.6 306.7,408.1" fill="#89fd94" stroke="#89fd94"/>
<polygon points="306.7,408.1 311.5,406.6 315.0,410.6 310.1,412.0" fill="#77fda7" stroke="#77fda7"/>
<polygon points="310.1,412.0 315.0,410.6 318.6,414.6 313.7,415.9" fill="#63fdba" stroke="#63fdba"/>
<polygon points="313.7,415.9 318.6,414.6 322.3,418.5 317.4,419.9" fill="#50fdcd" stroke="#50fdcd"/>
<polygon points="317.4,419.9 322.3,418.5 326.1,422.3 321.2,423.7" fill="#3efde0" stroke="#3efde0"/>
<polygon points="321.2,423.7 326.1,422.3 330.0,426.0 325.1,427.4" fill="#2cfdf1" stroke="#2cfdf1"/>
<polygon points="325.1,427.4 330.0,426.0 334.0,429.7 329.2,431.0" fill="#20f8fd" stroke="#20f8fd"/>
<polygon points="329.2,431.0 334.0,429.7 338.2,433.3 333.3,434.6" fill="#20e7fd" stroke="#20e7fd"/>
<polygon points="333.3,434.6 338.2,433.3 342.5,436.9 337.6,438.1" fill="#20d7fd" stroke="#20d7fd"/>
<polygon points="337.6,438.1 342.5,436.9 346.8,440.3 341.9,441.6" fill="#20c7fd" stroke="#20c7fd"/>
<polygon points="341.9,441.6 346.8,440.3 351.3,443.7 346.4,444.9" fill="#20b8fd" stroke="#20b8fd"/>
<polygon points="346.4,444.9 351.3,443.7 355.9,447.0 351.0,448.2" fill="#20a9fd" stroke="#20a9fd"/>
<polygon points="351.0,448.2 355.9,447.0 360.6,450.2 355.7,451.4" fill="#209bfd" stroke="#209bfd"/>
<polygon points="355.7,451.4 360.6,450.2 365.4,453.2 360.5,454.4" fill="#208cfd" stroke="#208cfd"/>
<polygon points="360.5,454.4 365.4,453.2 370.2,456.1 365.4,457.3" fill="#207ffd" stroke="#207ffd"/>
<polygon points="365.4,457.3 370.2,456.1 375.2,458.9 370.3,460.1" fill="#2072fd" stroke="#2072fd"/>
<polygon points="370.3,460.1 375.2,458.9 380.3,461.6 375.4,462.8" fill="#2066fd" stroke="#2066fd"/>
<polygon points="375.4,462.8 380.3,461.6 385.5,464.1 380.6,465.3" fill="#205bfd" stroke="#205bfd"/>
<polygon points="380.6,465.3 385.5,464.1 390.8,466.6 385.9,467.7" fill="#2050fd" stroke="#2050fd"/>
<polygon points="385.9,467.7 390.8,466.6 396.1,468.9 391.3,470.1" fill="#2047fd" stroke="#2047fd"/>
<polygon points="391.3,470.1 396.1,468.9 401.6,471.2 396.7,472.4" fill="#203efd" stroke="#203efd"/>
<polygon points="396.7,472.4 401.6,471.2 407.1,473.6 402.3,474.7" fill="#2036fd" stroke="#2036fd"/>
<polygon points="402.3,474.7 407.1,473.6 412.8,475.8 407.9,476.9" fill="#202efd" stroke="#202efd"/>
<polygon points="407.9,476.9 412.8,475.8 418.5,477.7 413.6,478.8" fill="#2027fd" stroke="#2027fd"/>
<polygon points="413.6,478.8 418.5,477.7 424.3,479.4 419.5,480.5" fill="#2021fd" stroke="#2021fd"/>
<polygon points="419.5,480.5 424.3,479.4 430.3,481.0 425.4,482.1" fill="#2020fa" stroke="#2020fa"/>
<polygon points="425.4,482.1 430.3,481.0 436.2,482.6 431.4,483.7" fill="#2020f7" stroke="#2020f7"/>
<polygon points="431.4,483.7 436.2,482.6 442.3,484.0 437.5,485.1" fill="#2020f5" stroke="#2020f5"/>
<polygon points="437.5,485.1 442.3,484.0 448.5,485.4 443.6,486.5" fill="#2020f3" stroke="#2020f3"/>
</g>
<polyline points="109.6,429.6 110.3,431.6 111.6,435.2 113.3,439.0 115.2,442.7 117.5,446.3 120.0,449.6 122.7,452.8 125.6,455.8 128.7,458.7 131.9,461.3 135.3,463.8 138.9,466.3 142.7,469.0 146.6,471.8 150.6,474.6 154.8,477.4 159.1,480.1 163.5,482.8 168.1,485.4 172.7,488.0 177.5,490.5 182.4,492.9 187.5,495.4 192.6,497.7 197.8,500.0 203.2,502.1 208.6,504.3 214.2,506.3 219.8,508.3 225.6,510.2 231.4,512.0 237.4,513.9 243.4,515.7 249.5,517.4 255.7,519.0 262.1,520.5 268.4,521.9 274.9,523.3 281.5,524.6" fill="none" stroke="#0d0db8" stroke-width="0.8" opacity="0.8"/>
<polyline points="135.0,417.0 135.7,419.2 137.0,422.9 138.7,426.9 140.6,430.8 142.9,434.5 145.4,438.1 148.1,441.4 151.0,444.6 154.0,447.5 157.3,450.3 160.7,452.9 164.3,455.5 168.1,458.4 171.9,461.3 176.0,464.2 180.1,467.1 184.4,469.9 188.8,472.7 193.4,475.4 198.1,478.0 202.9,480.6 207.8,483.2 212.8,485.7 217.9,488.1 223.1,490.5 228.5,492.7 233.9,494.9 239.5,497.0 245.1,499.0 250.9,501.0 256.7,502.9 262.6,504.8 268.7,506.7 274.8,508.4 281.0,510.0 287.3,511.5 293.7,512.9 300.2,514.3 306.7,515.7" fill="none" stroke="#0d0dc7" stroke-width="0.8" opacity="0.8"/>
<polyline points="158.7,407.5 159.4,409.8 160.7,413.7 162.4,418.0 164.3,422.2 166.6,426.2 169.1,429.9 171.7,433.5 174.6,436.8 177.7,439.9 181.0,442.8 184.4,445.6 188.0,448.4 191.7,451.4 195.6,454.4 199.6,457.5 203.8,460.6 208.1,463.5 212.5,466.4 217.0,469.3 221.7,472.1 226.5,474.8 231.4,477.5 236.4,480.1 241.5,482.6 246.8,485.0 252.1,487.4 257.5,489.7 263.1,491.8 268.7,493.9 274.5,495.9 280.3,497.9 286.2,499.9 292.2,501.8 298.4,503.6 304.6,505.2 310.9,506.7 317.3,508.2 323.7,509.6 330.3,510.9" fill="none" stroke="#0d0dd4" stroke-width="0.8" opacity="0.8"/>
<polyline points="182.0,400.5 182.7,402.9 184.0,407.0 185.7,411.4 187.6,415.7 189.9,419.8 192.3,423.7 195.0,427.3 197.9,430.8 201.0,434.0 204.3,437.0 207.7,439.8 211.3,442.7 215.0,445.8 218.9,448.9 222.9,452.1 227.0,455.2 231.3,458.2 235.8,461.2 240.3,464.1 245.0,467.0 249.7,469.8 254.6,472.5 259.6,475.2 264.8,477.8 270.0,480.3 275.3,482.7 280.7,485.0 286.3,487.2 291.9,489.3 297.7,491.4 303.5,493.4 309.4,495.4 315.4,497.4 321.5,499.2 327.7,500.8 334.0,502.3 340.4,503.8 346.9,505.2 353.4,506.6" fill="none" stroke="#0d20d4" stroke-width="0.8" opacity="0.8"/>
<polyline points="198.7,392.5 199.4,395.0 200.7,399.4 202.4,404.1 204.3,408.6 206.6,413.0 209.0,417.1 211.7,421.0 214.6,424.6 217.7,428.0 220.9,431.2 224.4,434.2 227.9,437.2 231.7,440.4 235.5,443.7 239.6,447.1 243.7,450.4 248.0,453.5 252.4,456.7 257.0,459.7 261.6,462.8 266.4,465.7 271.3,468.5 276.3,471.4 281.4,474.1 286.6,476.6 292.0,479.1 297.4,481.5 302.9,483.8 308.6,486.0 314.3,488.2 320.1,490.2 326.0,492.3 332.0,494.3 338.2,496.2 344.3,497.8 350.6,499.4 357.0,500.9 363.5,502.3 370.0,503.7" fill="none" stroke="#0da2d4" stroke-width="0.8" opacity="0.8"/>
<polyline points="202.4,391.0 203.1,393.6 204.4,397.9 206.1,402.7 208.0,407.3 210.3,411.7 212.7,415.9 215.4,419.8 218.3,423.5 221.4,426.9 224.6,430.1 228.1,433.1 231.6,436.1 235.4,439.4 239.2,442.7 243.3,446.1 247.4,449.4 251.7,452.6 256.1,455.8 260.6,458.9 265.3,461.9 270.1,464.8 275.0,467.7 280.0,470.6 285.1,473.3 290.3,475.9 295.6,478.4 301.1,480.8 306.6,483.1 312.2,485.3 318.0,487.5 323.8,489.5 329.7,491.6 335.7,493.6 341.8,495.5 348.0,497.2 354.3,498.7 360.7,500.2 367.1,501.6 373.7,503.0" fill="none" stroke="#0dbad4" stroke-width="0.8" opacity="0.8"/>
<polyline points="207.8,388.5 208.5,391.1 209.8,395.6 211.5,400.4 213.4,405.1 215.7,409.6 218.1,413.8 220.8,417.8 223.7,421.5 226.8,425.0 230.0,428.2 233.5,431.3 237.0,434.4 240.8,437.7 244.6,441.1 248.6,444.5 252.8,447.9 257.1,451.1 261.5,454.3 266.0,457.5 270.7,460.5 275.5,463.5 280.4,466.5 285.4,469.3 290.5,472.1 295.7,474.7 301.0,477.2 306.5,479.7 312.0,482.0 317.6,484.3 323.3,486.4 329.2,488.5 335.1,490.6 341.1,492.6 347.2,494.5 353.4,496.2 359.7,497.8 366.1,499.3 372.5,500.7 379.1,502.1" fill="none" stroke="#15d4cc" stroke-width="0.8" opacity="0.8"/>
<polyline points="211.5,386.5 212.2,389.1 213.5,393.7 215.2,398.6 217.1,403.3 219.4,407.9 221.8,412.1 224.5,416.2 227.4,419.9 230.5,423.5 233.7,426.7 237.1,429.8 240.7,433.0 244.5,436.3 248.3,439.7 252.3,443.1 256.5,446.5 260.8,449.8 265.2,453.1 269.7,456.2 274.4,459.3 279.2,462.4 284.0,465.3 289.1,468.2 294.2,471.0 299.4,473.6 304.7,476.2 310.1,478.7 315.7,481.0 321.3,483.3 327.0,485.5 332.8,487.6 338.8,489.7 344.8,491.7 350.9,493.6 357.1,495.3 363.4,496.9 369.7,498.4 376.2,499.8 382.7,501.2" fill="none" stroke="#2dd4b4" stroke-width="0.8" opacity="0.8"/>
<polyline points="215.0,374.0 215.7,377.0 217.0,382.1 218.7,387.6 220.6,393.0 222.9,398.1 225.3,403.0 228.0,407.5 230.9,411.7 234.0,415.6 237.2,419.3 240.6,422.7 244.2,426.2 247.9,429.9 251.8,433.7 255.8,437.5 260.0,441.3 264.3,444.9 268.7,448.5 273.2,452.0 277.9,455.4 282.6,458.7 287.5,462.0 292.5,465.1 297.7,468.2 302.9,471.0 308.2,473.8 313.6,476.5 319.2,479.0 324.8,481.5 330.5,483.8 336.3,486.0 342.3,488.3 348.3,490.5 354.4,492.5 360.6,494.2 366.8,495.9 373.2,497.4 379.7,498.9 386.2,500.3" fill="none" stroke="#46d49c" stroke-width="0.8" opacity="0.8"/>
<polyline points="220.6,371.2 221.3,374.2 222.6,379.4 224.3,385.0 226.2,390.4 228.5,395.7 230.9,400.6 233.6,405.1 236.5,409.4 239.6,413.4 242.8,417.1 246.2,420.5 249.8,424.1 253.5,427.8 257.4,431.6 261.4,435.5 265.6,439.3 269.9,443.0 274.3,446.6 278.8,450.2 283.5,453.6 288.2,457.0 293.1,460.2 298.1,463.4 303.2,466.5 308.5,469.4 313.8,472.2 319.2,474.9 324.7,477.5 330.4,479.9 336.1,482.3 341.9,484.6 347.8,486.8 353.8,489.0 359.9,491.1 366.1,492.8 372.4,494.4 378.8,496.0 385.2,497.5 391.8,498.9" fill="none" stroke="#70d471" stroke-width="0.8" opacity="0.8"/>
<polyline points="226.0,368.5 226.7,371.6 228.0,376.8 229.7,382.5 231.6,388.0 233.9,393.3 236.3,398.2 239.0,402.8 241.9,407.2 245.0,411.2 248.2,414.9 251.6,418.4 255.2,422.0 258.9,425.8 262.8,429.7 266.8,433.6 271.0,437.4 275.3,441.2 279.7,444.8 284.2,448.4 288.8,451.9 293.6,455.3 298.5,458.6 303.5,461.8 308.6,464.9 313.8,467.9 319.2,470.7 324.6,473.4 330.1,476.0 335.7,478.5 341.5,480.8 347.3,483.1 353.2,485.4 359.2,487.6 365.3,489.7 371.5,491.4 377.8,493.1 384.1,494.6 390.6,496.1 397.1,497.5" fill="none" stroke="#99d448" stroke-width="0.8" opacity="0.8"/>
<polyline points="229.7,366.6 230.4,369.7 231.7,375.0 233.4,380.7 235.3,386.3 237.6,391.6 240.0,396.6 242.7,401.3 245.6,405.6 248.7,409.7 251.9,413.5 255.3,417.0 258.9,420.6 262.6,424.4 266.5,428.3 270.5,432.3 274.7,436.1 278.9,439.9 283.4,443.6 287.9,447.2 292.5,450.7 297.3,454.1 302.2,457.4 307.2,460.7 312.3,463.8 317.5,466.8 322.8,469.6 328.3,472.4 333.8,475.0 339.4,477.4 345.1,479.8 351.0,482.1 356.9,484.4 362.9,486.6 369.0,488.7 375.2,490.5 381.5,492.1 387.8,493.7 394.3,495.2 400.8,496.6" fill="none" stroke="#b5d42c" stroke-width="0.8" opacity="0.8"/>
<polyline points="233.3,364.8 234.0,367.9 235.3,373.3 237.0,379.1 238.9,384.6 241.2,390.0 243.6,395.1 246.3,399.7 249.2,404.1 252.3,408.3 255.5,412.0 258.9,415.6 262.5,419.2 266.2,423.1 270.1,427.0 274.1,431.0 278.3,434.9 282.5,438.7 286.9,442.4 291.5,446.0 296.1,449.5 300.9,453.0 305.8,456.3 310.8,459.6 315.9,462.7 321.1,465.7 326.4,468.6 331.9,471.3 337.4,474.0 343.0,476.5 348.7,478.8 354.5,481.2 360.5,483.4 366.5,485.7 372.6,487.8 378.8,489.5 385.0,491.2 391.4,492.7 397.9,494.2 404.4,495.7" fill="none" stroke="#ccd415" stroke-width="0.8" opacity="0.8"/>
<polyline points="247.9,355.5 248.6,358.8 249.9,364.4 251.5,370.5 253.5,376.4 255.7,382.1 258.2,387.4 260.9,392.3 263.8,396.9 266.9,401.2 270.1,405.2 273.5,408.9 277.1,412.7 280.8,416.7 284.7,420.9 288.7,425.0 292.8,429.1 297.1,433.1 301.5,436.9 306.0,440.7 310.7,444.4 315.5,448.0 320.3,451.5 325.3,454.9 330.4,458.2 335.7,461.3 341.0,464.2 346.4,467.1 351.9,469.8 357.5,472.4 363.3,474.8 369.1,477.2 375.0,479.6 381.0,481.9 387.1,484.0 393.3,485.8 399.5,487.5 405.9,489.1 412.4,490.6 418.9,492.0" fill="none" stroke="#d48d0d" stroke-width="0.8" opacity="0.8"/>
<polyline points="263.0,344.6 263.7,348.1 265.0,354.2 266.6,360.7 268.6,366.9 270.8,373.0 273.3,378.6 276.0,383.9 278.9,388.8 281.9,393.4 285.2,397.6 288.6,401.5 292.2,405.5 295.9,409.8 299.8,414.2 303.8,418.6 307.9,422.9 312.2,427.1 316.6,431.2 321.1,435.2 325.8,439.1 330.5,442.8 335.4,446.5 340.4,450.1 345.5,453.5 350.7,456.8 356.0,459.9 361.4,462.9 367.0,465.7 372.6,468.4 378.3,471.0 384.1,473.4 390.0,475.9 396.0,478.3 402.1,480.5 408.3,482.3 414.6,484.1 420.9,485.7 427.4,487.2 433.9,488.7" fill="none" stroke="#d4440d" stroke-width="0.8" opacity="0.8"/>
<polyline points="277.7,339.2 278.4,342.8 279.7,348.9 281.3,355.6 283.3,361.9 285.5,368.1 288.0,373.8 290.7,379.2 293.6,384.2 296.6,388.8 299.9,393.1 303.3,397.1 306.9,401.2 310.6,405.5 314.4,409.9 318.4,414.4 322.6,418.8 326.9,423.1 331.3,427.2 335.8,431.3 340.4,435.2 345.2,439.0 350.1,442.8 355.1,446.4 360.2,449.9 365.4,453.2 370.7,456.3 376.1,459.4 381.6,462.2 387.2,465.0 392.9,467.6 398.7,470.1 404.6,472.5 410.6,475.0 416.7,477.2 422.9,479.0 429.2,480.8 435.5,482.4 442.0,483.9 448.5,485.4" fill="none" stroke="#d4110d" stroke-width="0.8" opacity="0.8"/>
<circle cx="115.8" cy="445.2" r="2.6" fill="#0f0fce"/>
<circle cx="121.9" cy="453.5" r="2.6" fill="#0f0fce"/>
<circle cx="130.0" cy="460.6" r="2.6" fill="#0f0fce"/>
<circle cx="135.2" cy="463.9" r="2.6" fill="#0f0fce"/>
<circle cx="143.1" cy="470.8" r="2.6" fill="#0f0fce"/>
<circle cx="150.1" cy="476.1" r="2.6" fill="#0f0fce"/>
<circle cx="155.0" cy="479.9" r="2.6" fill="#0f0fce"/>
<circle cx="164.2" cy="483.9" r="2.6" fill="#0f0fce"/>
<circle cx="171.2" cy="488.1" r="2.6" fill="#0f0fce"/>
<circle cx="178.3" cy="493.5" r="2.6" fill="#0f0fce"/>
<circle cx="187.9" cy="496.7" r="2.6" fill="#0f0fce"/>
<circle cx="194.3" cy="500.0" r="2.6" fill="#0f0fce"/>
<circle cx="203.0" cy="503.1" r="2.6" fill="#0f0fce"/>
<circle cx="213.2" cy="506.5" r="2.6" fill="#0f0fce"/>
<circle cx="218.9" cy="508.5" r="2.6" fill="#0f0fce"/>
<circle cx="227.9" cy="512.0" r="2.6" fill="#0f0fce"/>
<circle cx="235.1" cy="514.0" r="2.6" fill="#0f0fce"/>
<circle cx="243.9" cy="517.9" r="2.6" fill="#0f0fce"/>
<circle cx="251.1" cy="518.5" r="2.6" fill="#0f0fce"/>
<circle cx="262.4" cy="523.2" r="2.6" fill="#0f0fce"/>
<circle cx="269.3" cy="523.6" r="2.6" fill="#0f0fce"/>
<circle cx="277.1" cy="525.2" r="2.6" fill="#0f0fce"/>
<circle cx="140.9" cy="431.3" r="2.6" fill="#0f0fde"/>
<circle cx="151.7" cy="441.2" r="2.6" fill="#0f0fde"/>
<circle cx="182.1" cy="463.1" r="2.6" fill="#0f0fde"/>
<circle cx="191.3" cy="472.1" r="2.6" fill="#0f0fde"/>
<circle cx="218.5" cy="485.5" r="2.6" fill="#0f0fde"/>
<circle cx="229.2" cy="492.0" r="2.6" fill="#0f0fde"/>
<circle cx="237.6" cy="495.5" r="2.6" fill="#0f0fde"/>
<circle cx="249.9" cy="500.6" r="2.6" fill="#0f0fde"/>
<circle cx="265.6" cy="505.1" r="2.6" fill="#0f0fde"/>
<circle cx="279.3" cy="508.3" r="2.6" fill="#0f0fde"/>
<circle cx="301.8" cy="514.2" r="2.6" fill="#0f0fde"/>
<circle cx="166.4" cy="424.0" r="2.6" fill="#0f0fed"/>
<circle cx="187.7" cy="446.4" r="2.6" fill="#0f0fed"/>
<circle cx="206.8" cy="462.9" r="2.6" fill="#0f0fed"/>
<circle cx="216.0" cy="468.1" r="2.6" fill="#0f0fed"/>
<circle cx="228.6" cy="473.8" r="2.6" fill="#0f0fed"/>
<circle cx="238.6" cy="478.9" r="2.6" fill="#0f0fed"/>
<circle cx="267.1" cy="491.4" r="2.6" fill="#0f0fed"/>
<circle cx="288.0" cy="499.7" r="2.6" fill="#0f0fed"/>
<circle cx="310.7" cy="503.9" r="2.6" fill="#0f0fed"/>
<circle cx="190.6" cy="417.2" r="2.6" fill="#0f24ed"/>
<circle cx="197.7" cy="428.2" r="2.6" fill="#0f24ed"/>
<circle cx="211.2" cy="439.2" r="2.6" fill="#0f24ed"/>
<circle cx="243.6" cy="466.1" r="2.6" fill="#0f24ed"/>
<circle cx="250.5" cy="469.6" r="2.6" fill="#0f24ed"/>
<circle cx="262.3" cy="476.1" r="2.6" fill="#0f24ed"/>
<circle cx="275.6" cy="478.5" r="2.6" fill="#0f24ed"/>
<circle cx="307.6" cy="494.3" r="2.6" fill="#0f24ed"/>
<circle cx="324.7" cy="499.8" r="2.6" fill="#0f24ed"/>
<circle cx="338.5" cy="497.8" r="2.6" fill="#0f24ed"/>
<circle cx="349.7" cy="506.0" r="2.6" fill="#0f24ed"/>
<circle cx="213.0" cy="422.7" r="2.6" fill="#0fb5ed"/>
<circle cx="247.6" cy="449.7" r="2.6" fill="#0fb5ed"/>
<circle cx="256.3" cy="458.2" r="2.6" fill="#0fb5ed"/>
<circle cx="267.3" cy="465.3" r="2.6" fill="#0fb5ed"/>
<circle cx="277.0" cy="471.9" r="2.6" fill="#0fb5ed"/>
<circle cx="304.3" cy="482.0" r="2.6" fill="#0fb5ed"/>
<circle cx="315.1" cy="484.0" r="2.6" fill="#0fb5ed"/>
<circle cx="337.8" cy="494.9" r="2.6" fill="#0fb5ed"/>
<circle cx="354.8" cy="498.5" r="2.6" fill="#0fb5ed"/>
<circle cx="364.4" cy="501.4" r="2.6" fill="#0fb5ed"/>
<circle cx="207.5" cy="403.9" r="2.6" fill="#0fd0ed"/>
<circle cx="262.6" cy="458.0" r="2.6" fill="#0fd0ed"/>
<circle cx="287.1" cy="471.5" r="2.6" fill="#0fd0ed"/>
<circle cx="294.0" cy="477.1" r="2.6" fill="#0fd0ed"/>
<circle cx="308.9" cy="482.2" r="2.6" fill="#0fd0ed"/>
<circle cx="320.9" cy="488.6" r="2.6" fill="#0fd0ed"/>
<circle cx="344.4" cy="495.8" r="2.6" fill="#0fd0ed"/>
<circle cx="267.3" cy="458.2" r="2.6" fill="#18ede4"/>
<circle cx="279.4" cy="462.9" r="2.6" fill="#18ede4"/>
<circle cx="289.1" cy="471.4" r="2.6" fill="#18ede4"/>
<circle cx="303.3" cy="474.0" r="2.6" fill="#18ede4"/>
<circle cx="315.5" cy="479.3" r="2.6" fill="#18ede4"/>
<circle cx="325.5" cy="485.6" r="2.6" fill="#18ede4"/>
<circle cx="339.7" cy="490.8" r="2.6" fill="#18ede4"/>
<circle cx="352.2" cy="494.9" r="2.6" fill="#18ede4"/>
<circle cx="359.3" cy="496.5" r="2.6" fill="#18ede4"/>
<circle cx="270.1" cy="455.8" r="2.6" fill="#32edc9"/>
<circle cx="279.8" cy="459.5" r="2.6" fill="#32edc9"/>
<circle cx="289.9" cy="465.0" r="2.6" fill="#32edc9"/>
<circle cx="302.5" cy="470.5" r="2.6" fill="#32edc9"/>
<circle cx="315.0" cy="476.7" r="2.6" fill="#32edc9"/>
<circle cx="350.7" cy="493.2" r="2.6" fill="#32edc9"/>
<circle cx="365.9" cy="497.6" r="2.6" fill="#32edc9"/>
<circle cx="379.6" cy="500.4" r="2.6" fill="#32edc9"/>
<circle cx="275.7" cy="448.4" r="2.6" fill="#4eedae"/>
<circle cx="286.6" cy="460.2" r="2.6" fill="#4eedae"/>
<circle cx="295.6" cy="464.7" r="2.6" fill="#4eedae"/>
<circle cx="305.8" cy="472.6" r="2.6" fill="#4eedae"/>
<circle cx="323.2" cy="478.7" r="2.6" fill="#4eedae"/>
<circle cx="328.6" cy="479.4" r="2.6" fill="#4eedae"/>
<circle cx="354.7" cy="491.9" r="2.6" fill="#4eedae"/>
<circle cx="381.0" cy="499.1" r="2.6" fill="#4eedae"/>
<circle cx="247.0" cy="417.2" r="2.6" fill="#7ded7f"/>
<circle cx="265.8" cy="438.6" r="2.6" fill="#7ded7f"/>
<circle cx="288.7" cy="455.6" r="2.6" fill="#7ded7f"/>
<circle cx="313.8" cy="471.6" r="2.6" fill="#7ded7f"/>
<circle cx="339.8" cy="478.4" r="2.6" fill="#7ded7f"/>
<circle cx="349.9" cy="485.8" r="2.6" fill="#7ded7f"/>
<circle cx="361.4" cy="488.7" r="2.6" fill="#7ded7f"/>
<circle cx="375.9" cy="491.7" r="2.6" fill="#7ded7f"/>
<circle cx="293.0" cy="454.7" r="2.6" fill="#abed51"/>
<circle cx="310.4" cy="466.0" r="2.6" fill="#abed51"/>
<circle cx="317.0" cy="466.1" r="2.6" fill="#abed51"/>
<circle cx="327.8" cy="472.2" r="2.6" fill="#abed51"/>
<circle cx="344.6" cy="479.8" r="2.6" fill="#abed51"/>
<circle cx="356.7" cy="486.5" r="2.6" fill="#abed51"/>
<circle cx="378.6" cy="490.4" r="2.6" fill="#abed51"/>
<circle cx="256.4" cy="414.8" r="2.6" fill="#caed32"/>
<circle cx="266.6" cy="427.3" r="2.6" fill="#caed32"/>
<circle cx="291.9" cy="444.3" r="2.6" fill="#caed32"/>
<circle cx="300.4" cy="453.2" r="2.6" fill="#caed32"/>
<circle cx="313.9" cy="460.6" r="2.6" fill="#caed32"/>
<circle cx="347.1" cy="480.2" r="2.6" fill="#caed32"/>
<circle cx="355.7" cy="483.4" r="2.6" fill="#caed32"/>
<circle cx="366.7" cy="486.3" r="2.6" fill="#caed32"/>
<circle cx="380.6" cy="491.4" r="2.6" fill="#caed32"/>
<circle cx="396.0" cy="495.2" r="2.6" fill="#caed32"/>
<circle cx="239.9" cy="378.2" r="2.6" fill="#e4ed18"/>
<circle cx="260.1" cy="416.6" r="2.6" fill="#e4ed18"/>
<circle cx="269.0" cy="423.7" r="2.6" fill="#e4ed18"/>
<circle cx="303.4" cy="451.0" r="2.6" fill="#e4ed18"/>
<circle cx="316.5" cy="461.1" r="2.6" fill="#e4ed18"/>
<circle cx="325.0" cy="466.5" r="2.6" fill="#e4ed18"/>
<circle cx="339.7" cy="474.3" r="2.6" fill="#e4ed18"/>
<circle cx="348.7" cy="472.9" r="2.6" fill="#e4ed18"/>
<circle cx="361.6" cy="481.2" r="2.6" fill="#e4ed18"/>
<circle cx="371.0" cy="484.1" r="2.6" fill="#e4ed18"/>
<circle cx="385.0" cy="488.3" r="2.6" fill="#e4ed18"/>
<circle cx="397.7" cy="494.0" r="2.6" fill="#e4ed18"/>
<circle cx="253.3" cy="374.6" r="2.6" fill="#ed9d0f"/>
<circle cx="266.1" cy="399.3" r="2.6" fill="#ed9d0f"/>
<circle cx="272.2" cy="405.4" r="2.6" fill="#ed9d0f"/>
<circle cx="286.8" cy="422.3" r="2.6" fill="#ed9d0f"/>
<circle cx="298.2" cy="430.6" r="2.6" fill="#ed9d0f"/>
<circle cx="306.5" cy="440.9" r="2.6" fill="#ed9d0f"/>
<circle cx="318.2" cy="449.0" r="2.6" fill="#ed9d0f"/>
<circle cx="328.9" cy="456.9" r="2.6" fill="#ed9d0f"/>
<circle cx="344.4" cy="462.6" r="2.6" fill="#ed9d0f"/>
<circle cx="354.9" cy="471.4" r="2.6" fill="#ed9d0f"/>
<circle cx="376.9" cy="477.2" r="2.6" fill="#ed9d0f"/>
<circle cx="390.2" cy="480.2" r="2.6" fill="#ed9d0f"/>
<circle cx="400.1" cy="481.4" r="2.6" fill="#ed9d0f"/>
<circle cx="415.8" cy="488.6" r="2.6" fill="#ed9d0f"/>
<circle cx="279.5" cy="388.4" r="2.6" fill="#ed4c0f"/>
<circle cx="288.5" cy="398.6" r="2.6" fill="#ed4c0f"/>
<circle cx="300.6" cy="413.9" r="2.6" fill="#ed4c0f"/>
<circle cx="309.7" cy="424.4" r="2.6" fill="#ed4c0f"/>
<circle cx="319.9" cy="434.0" r="2.6" fill="#ed4c0f"/>
<circle cx="336.1" cy="446.1" r="2.6" fill="#ed4c0f"/>
<circle cx="346.8" cy="454.6" r="2.6" fill="#ed4c0f"/>
<circle cx="368.3" cy="462.9" r="2.6" fill="#ed4c0f"/>
<circle cx="378.6" cy="467.4" r="2.6" fill="#ed4c0f"/>
<circle cx="391.9" cy="474.7" r="2.6" fill="#ed4c0f"/>
<circle cx="401.4" cy="477.5" r="2.6" fill="#ed4c0f"/>
<circle cx="416.1" cy="484.1" r="2.6" fill="#ed4c0f"/>
<circle cx="431.3" cy="487.7" r="2.6" fill="#ed4c0f"/>
<circle cx="284.0" cy="358.8" r="2.6" fill="#ed130f"/>
<circle cx="293.9" cy="380.2" r="2.6" fill="#ed130f"/>
<circle cx="304.5" cy="393.4" r="2.6" fill="#ed130f"/>
<circle cx="313.6" cy="406.5" r="2.6" fill="#ed130f"/>
<circle cx="324.0" cy="414.4" r="2.6" fill="#ed130f"/>
<circle cx="334.4" cy="422.5" r="2.6" fill="#ed130f"/>
<circle cx="359.6" cy="446.3" r="2.6" fill="#ed130f"/>
<circle cx="379.1" cy="455.7" r="2.6" fill="#ed130f"/>
<circle cx="395.8" cy="463.6" r="2.6" fill="#ed130f"/>
<circle cx="407.0" cy="469.8" r="2.6" fill="#ed130f"/>
<circle cx="415.7" cy="474.2" r="2.6" fill="#ed130f"/>
<circle cx="432.5" cy="475.6" r="2.6" fill="#ed130f"/>
<circle cx="443.5" cy="481.5" r="2.6" fill="#ed130f"/>
<path d="M91.5,356 L91.5,509.5 L280,543.8 L457.8,509.7" stroke="#222" stroke-width="1.1" fill="none"/>
<line x1="85.5" y1="508.2" x2="91.5" y2="509.5" stroke="#222" stroke-width="1.1"/>
<text x="79.5" y="514.0" font-family="'Liberation Sans',sans-serif" font-size="16" text-anchor="end" fill="#111">0</text>
<line x1="85.5" y1="431.4" x2="91.5" y2="432.8" stroke="#222" stroke-width="1.1"/>
<text x="79.5" y="437.2" font-family="'Liberation Sans',sans-serif" font-size="16" text-anchor="end" fill="#111">0.5</text>
<line x1="85.5" y1="354.7" x2="91.5" y2="356.0" stroke="#222" stroke-width="1.1"/>
<text x="79.5" y="360.5" font-family="'Liberation Sans',sans-serif" font-size="16" text-anchor="end" fill="#111">1</text>
<line x1="91.5" y1="509.5" x2="87.0" y2="510.7" stroke="#222" stroke-width="1.1"/>
<line x1="154.3" y1="520.9" x2="149.8" y2="522.1" stroke="#222" stroke-width="1.1"/>
<line x1="217.2" y1="532.4" x2="212.7" y2="533.6" stroke="#222" stroke-width="1.1"/>
<line x1="280.0" y1="543.8" x2="275.5" y2="545.0" stroke="#222" stroke-width="1.1"/>
<text x="76" y="530.5" font-family="'Liberation Sans',sans-serif" font-size="16" text-anchor="middle" fill="#111">0</text>
<text x="136" y="542" font-family="'Liberation Sans',sans-serif" font-size="16" text-anchor="middle" fill="#111">2</text>
<text x="198.5" y="553" font-family="'Liberation Sans',sans-serif" font-size="16" text-anchor="middle" fill="#111">4</text>
<text x="261.5" y="564" font-family="'Liberation Sans',sans-serif" font-size="16" text-anchor="middle" fill="#111">6</text>
<line x1="280.0" y1="543.8" x2="284.5" y2="545.0" stroke="#222" stroke-width="1.1"/>
<line x1="368.9" y1="526.8" x2="373.4" y2="528.0" stroke="#222" stroke-width="1.1"/>
<line x1="457.8" y1="509.7" x2="462.3" y2="510.9" stroke="#222" stroke-width="1.1"/>
<text x="302.7" y="564.5" font-family="'Liberation Sans',sans-serif" font-size="16.5" text-anchor="middle" fill="#111">200</text>
<text x="393" y="548" font-family="'Liberation Sans',sans-serif" font-size="16.5" text-anchor="middle" fill="#111">250</text>
<text x="472" y="533" font-family="'Liberation Sans',sans-serif" font-size="16.5" text-anchor="middle" fill="#111">300</text>
<text transform="translate(159.5,564.7) rotate(9)" font-family="'Liberation Sans',sans-serif" font-size="16.5" text-anchor="middle" fill="#111">Frequency (GHz)</text>
<text transform="translate(401.5,568.5) rotate(-12.5)" font-family="'Liberation Sans',sans-serif" font-size="16.5" text-anchor="middle" fill="#111">Temperature (K)</text>
<text transform="translate(40.5,434.5) rotate(-90)" font-family="'Liberation Sans',sans-serif" font-size="18.5" text-anchor="middle" fill="#111">Rate Γ<tspan dy="3.5" dx="3" font-size="12">±</tspan><tspan dy="-3.5" dx="2.5"> (1/ms)</tspan></text>
<text x="190.5" y="363.5" font-family="'Liberation Sans',sans-serif" font-size="17.5" fill="#111"><tspan font-style="italic">T</tspan><tspan dy="3" font-size="12.5">M</tspan></text>
<line x1="218" y1="350.5" x2="218" y2="364" stroke="#111" stroke-width="1.5"/><polygon points="218,370 213.8,361 218,363 222.2,361" fill="#111"/>
<text x="0.5" y="598" font-family="'Liberation Sans',sans-serif" font-size="21" fill="#111" textLength="24.5" lengthAdjust="spacingAndGlyphs">(d)</text>
<defs>
<linearGradient id="gGr" x1="0" y1="0" x2="1" y2="0"><stop offset="0" stop-color="#0c6a12"/><stop offset="0.45" stop-color="#6fdc63"/><stop offset="1" stop-color="#0a5a10"/></linearGradient>
<linearGradient id="gPu" x1="0" y1="0" x2="1" y2="0"><stop offset="0" stop-color="#7a45c0"/><stop offset="0.45" stop-color="#b890ec"/><stop offset="1" stop-color="#6a38b0"/></linearGradient>
<radialGradient id="gWh" cx="0.4" cy="0.35" r="0.7"><stop offset="0" stop-color="#fff"/><stop offset="0.7" stop-color="#f4f4f4"/><stop offset="1" stop-color="#bdbdbd"/></radialGradient>
</defs>
<g filter="url(#soft2)">
<polygon points="91,770 110.6,748 173.9,743 209.4,753.3 209.4,797 184.6,809 133.5,809 91,787.5" fill="#dfc0b7"/>
<polygon points="91,770 110.6,748 173.9,743 209.4,753.3 185,786.5 133.5,788" fill="#e5c9c0"/>
<polyline points="91,770 133.5,788 185,786.5 209.4,753.3" fill="none" stroke="#ecd5cd" stroke-width="1.6" opacity="0.9"/>
<polyline points="97,769 113,752.5 172,748 202,756" fill="none" stroke="#d3aea3" stroke-width="1.5" opacity="0.7"/>
</g>
<line x1="112.4" y1="744" x2="112.4" y2="703" stroke="#000" stroke-width="2.2"/><polygon points="112.4,696 108.6,705.5 116.2,705.5" fill="#000"/>
<text transform="translate(131.7,719) rotate(-90)" font-family="'Liberation Sans',sans-serif" font-size="13" text-anchor="middle" fill="#111" stroke="#111" stroke-width="0.25">[0001]</text>
<g filter="url(#soft2)">
<rect x="147" y="733" width="8.4" height="32" fill="url(#gGr)"/>
<path d="M151.4,719 Q153,719 159.2,733.5 Q159.5,735.5 151.4,735.5 Q143.3,735.5 143.6,733.5 Q149.8,719 151.4,719 Z" fill="url(#gGr)"/>
<rect x="147" y="764.6" width="8.4" height="25" fill="url(#gPu)"/>
<path d="M151.2,803.5 Q153,803.5 159.2,790 Q159.5,787.5 151.2,787.5 Q143,787.5 143.3,790 Q149.6,803.5 151.2,803.5 Z" fill="url(#gPu)"/>
<circle cx="151.2" cy="742.5" r="5.2" fill="url(#gWh)"/>
<circle cx="151.2" cy="780.8" r="5.2" fill="url(#gWh)"/>
</g>
<text x="165" y="736" font-family="'Liberation Sans',sans-serif" font-size="15" font-weight="bold" fill="#111">M<tspan font-size="9.5">B</tspan></text>
<text x="165" y="795.5" font-family="'Liberation Sans',sans-serif" font-size="15" font-weight="bold" fill="#111">M<tspan font-size="9.5">A</tspan></text>
<g filter="url(#soft2)">
<polygon points="361.2,763.8 382.5,753.8 446.2,756.2 473.8,781.2 473.8,793.8 438.8,817.5 371.2,806.2 361.2,792.5" fill="#dcbbb1"/>
<polygon points="361.2,763.8 382.5,753.8 446.2,756.2 473.8,781.2 439,801 370,790" fill="#e4c7be"/>
<polyline points="361.2,764.5 370,790 439,801 473.8,781.5" fill="none" stroke="#e9cfc6" stroke-width="1.4" opacity="0.9"/>
</g>
<line x1="403.6" y1="749" x2="403.6" y2="714" stroke="#000" stroke-width="2.2"/><polygon points="403.6,706.5 399.8,716 407.4,716" fill="#000"/>
<text transform="translate(424,730.6) rotate(-90)" font-family="'Liberation Sans',sans-serif" font-size="13" text-anchor="middle" fill="#111" stroke="#111" stroke-width="0.25">[0001]</text>
<g filter="url(#soft2)">
<path d="M416.5,773 L403.8,766.5 L393,761.5" fill="none" stroke="#7a62e6" stroke-width="6.4" stroke-linejoin="round"/>
<polygon points="384,757 398.5,756.2 392.5,768.5" fill="#6a50dc"/>
<line x1="418.5" y1="773" x2="449" y2="771" stroke="#3cb832" stroke-width="6.4"/>
<polygon points="461,770 446.5,763.5 447.5,778.5" fill="#219a1e"/>
<circle cx="404" cy="766.5" r="4.8" fill="url(#gWh)"/>
<circle cx="436.5" cy="771.3" r="4.8" fill="url(#gWh)"/>
</g>
<text x="383" y="786" font-family="'Liberation Sans',sans-serif" font-size="15" font-weight="bold" font-style="italic" fill="#111">M<tspan font-size="9" font-style="normal">A</tspan></text>
<text x="429" y="794" font-family="'Liberation Sans',sans-serif" font-size="15" font-weight="bold" font-style="italic" fill="#111">M<tspan font-size="9" font-style="normal">B</tspan></text>
<line x1="327.3" y1="635.7" x2="327.3" y2="829" stroke="#5a5a5a" stroke-width="1.8" stroke-dasharray="10.5 5.5"/>
<rect x="53.8" y="632.7" width="457.7" height="196.29999999999995" fill="none" stroke="#000" stroke-width="2.2"/>
<line x1="53.8" y1="821.6" x2="59.8" y2="821.6" stroke="#000" stroke-width="1.8"/>
<text transform="translate(50.5,827.3) scale(1.13,1)" font-family="'Liberation Sans',sans-serif" font-size="16" text-anchor="end" fill="#111">0</text>
<line x1="53.8" y1="767.6" x2="59.8" y2="767.6" stroke="#000" stroke-width="1.8"/>
<text transform="translate(50.5,773.3) scale(1.13,1)" font-family="'Liberation Sans',sans-serif" font-size="16" text-anchor="end" fill="#111">3</text>
<line x1="53.8" y1="713.6" x2="59.8" y2="713.6" stroke="#000" stroke-width="1.8"/>
<text transform="translate(50.5,719.3) scale(1.13,1)" font-family="'Liberation Sans',sans-serif" font-size="16" text-anchor="end" fill="#111">6</text>
<line x1="53.8" y1="659.6" x2="59.8" y2="659.6" stroke="#000" stroke-width="1.8"/>
<text transform="translate(50.5,665.3) scale(1.13,1)" font-family="'Liberation Sans',sans-serif" font-size="16" text-anchor="end" fill="#111">9</text>
<line x1="53.8" y1="794.6" x2="57.3" y2="794.6" stroke="#000" stroke-width="1.6"/>
<line x1="53.8" y1="740.6" x2="57.3" y2="740.6" stroke="#000" stroke-width="1.6"/>
<line x1="53.8" y1="686.6" x2="57.3" y2="686.6" stroke="#000" stroke-width="1.6"/>
<line x1="62.5" y1="829" x2="62.5" y2="823" stroke="#000" stroke-width="1.8"/>
<text transform="translate(62.5,849) scale(1.13,1)" font-family="'Liberation Sans',sans-serif" font-size="16" text-anchor="middle" fill="#111">200</text>
<line x1="168.5" y1="829" x2="168.5" y2="823" stroke="#000" stroke-width="1.8"/>
<text transform="translate(168.5,849) scale(1.13,1)" font-family="'Liberation Sans',sans-serif" font-size="16" text-anchor="middle" fill="#111">225</text>
<line x1="274.5" y1="829" x2="274.5" y2="823" stroke="#000" stroke-width="1.8"/>
<text transform="translate(274.5,849) scale(1.13,1)" font-family="'Liberation Sans',sans-serif" font-size="16" text-anchor="middle" fill="#111">250</text>
<line x1="380.5" y1="829" x2="380.5" y2="823" stroke="#000" stroke-width="1.8"/>
<text transform="translate(380.5,849) scale(1.13,1)" font-family="'Liberation Sans',sans-serif" font-size="16" text-anchor="middle" fill="#111">275</text>
<line x1="486.5" y1="829" x2="486.5" y2="823" stroke="#000" stroke-width="1.8"/>
<text transform="translate(486.5,849) scale(1.13,1)" font-family="'Liberation Sans',sans-serif" font-size="16" text-anchor="middle" fill="#111">300</text>
<line x1="115.5" y1="829" x2="115.5" y2="825.5" stroke="#000" stroke-width="1.6"/>
<line x1="221.5" y1="829" x2="221.5" y2="825.5" stroke="#000" stroke-width="1.6"/>
<line x1="327.5" y1="829" x2="327.5" y2="825.5" stroke="#000" stroke-width="1.6"/>
<line x1="433.5" y1="829" x2="433.5" y2="825.5" stroke="#000" stroke-width="1.6"/>
<line x1="71" y1="661.5" x2="465" y2="702" stroke="#e8262a" stroke-width="1.4" stroke-dasharray="5 3.5"/>
<path d="M71.0,652.0 V671.0 M67.0,652.0 H75.0 M67.0,671.0 H75.0" stroke="#f0292d" stroke-width="1.2" fill="none"/>
<circle cx="71.0" cy="661.5" r="5.6" fill="#f2161c"/>
<path d="M129.6,655.9 V674.9 M125.6,655.9 H133.6 M125.6,674.9 H133.6" stroke="#f0292d" stroke-width="1.2" fill="none"/>
<circle cx="129.6" cy="665.4" r="5.6" fill="#f2161c"/>
<path d="M183.8,660.5 V679.5 M179.8,660.5 H187.8 M179.8,679.5 H187.8" stroke="#f0292d" stroke-width="1.2" fill="none"/>
<circle cx="183.8" cy="670.0" r="5.6" fill="#f2161c"/>
<path d="M240.4,667.0 V686.0 M236.4,667.0 H244.4 M236.4,686.0 H244.4" stroke="#f0292d" stroke-width="1.2" fill="none"/>
<circle cx="240.4" cy="676.5" r="5.6" fill="#f2161c"/>
<path d="M277.0,673.5 V689.5 M273.0,673.5 H281.0 M273.0,689.5 H281.0" stroke="#f0292d" stroke-width="1.2" fill="none"/>
<circle cx="277.0" cy="681.5" r="5.6" fill="#f2161c"/>
<path d="M287.3,674.7 V690.7 M283.3,674.7 H291.3 M283.3,690.7 H291.3" stroke="#f0292d" stroke-width="1.2" fill="none"/>
<circle cx="287.3" cy="682.7" r="5.6" fill="#f2161c"/>
<path d="M298.0,676.6 V692.6 M294.0,676.6 H302.0 M294.0,692.6 H302.0" stroke="#f0292d" stroke-width="1.2" fill="none"/>
<circle cx="298.0" cy="684.6" r="5.6" fill="#f2161c"/>
<path d="M308.0,678.0 V694.0 M304.0,678.0 H312.0 M304.0,694.0 H312.0" stroke="#f0292d" stroke-width="1.2" fill="none"/>
<circle cx="308.0" cy="686.0" r="5.6" fill="#f2161c"/>
<path d="M316.5,679.0 V695.0 M312.5,679.0 H320.5 M312.5,695.0 H320.5" stroke="#f0292d" stroke-width="1.2" fill="none"/>
<circle cx="316.5" cy="687.0" r="5.6" fill="#f2161c"/>
<path d="M327.3,680.0 V696.0 M323.3,680.0 H331.3 M323.3,696.0 H331.3" stroke="#f0292d" stroke-width="1.2" fill="none"/>
<circle cx="327.3" cy="688.0" r="5.6" fill="#f2161c"/>
<path d="M339.2,680.5 V696.5 M335.2,680.5 H343.2 M335.2,696.5 H343.2" stroke="#f0292d" stroke-width="1.2" fill="none"/>
<circle cx="339.2" cy="688.5" r="5.6" fill="#f2161c"/>
<path d="M348.8,681.0 V697.0 M344.8,681.0 H352.8 M344.8,697.0 H352.8" stroke="#f0292d" stroke-width="1.2" fill="none"/>
<circle cx="348.8" cy="689.0" r="5.6" fill="#f2161c"/>
<path d="M359.2,682.4 V698.4 M355.2,682.4 H363.2 M355.2,698.4 H363.2" stroke="#f0292d" stroke-width="1.2" fill="none"/>
<circle cx="359.2" cy="690.4" r="5.6" fill="#f2161c"/>
<path d="M393.3,685.0 V701.0 M389.3,685.0 H397.3 M389.3,701.0 H397.3" stroke="#f0292d" stroke-width="1.2" fill="none"/>
<circle cx="393.3" cy="693.0" r="5.6" fill="#f2161c"/>
<path d="M427.7,690.8 V706.8 M423.7,690.8 H431.7 M423.7,706.8 H431.7" stroke="#f0292d" stroke-width="1.2" fill="none"/>
<circle cx="427.7" cy="698.8" r="5.6" fill="#f2161c"/>
<path d="M465.0,694.0 V710.0 M461.0,694.0 H469.0 M461.0,710.0 H469.0" stroke="#f0292d" stroke-width="1.2" fill="none"/>
<circle cx="465.0" cy="702.0" r="5.6" fill="#f2161c"/>
<text x="290" y="866.5" font-family="'Liberation Sans',sans-serif" font-size="18" text-anchor="middle" fill="#111"><tspan font-style="italic">T</tspan> (K)</text>
<text transform="translate(33,731) rotate(-90) scale(1.12,1)" font-family="'Liberation Sans',sans-serif" font-size="18.7" text-anchor="middle" fill="#111"><tspan font-style="italic">D</tspan><tspan dx="9">(10</tspan><tspan dy="-11" dx="1" font-size="13">−4</tspan><tspan dy="11" dx="6">m</tspan><tspan dy="-11" dx="1" font-size="13">2</tspan><tspan dy="11" dx="1">/s)</tspan></text>
</svg></body></html>
